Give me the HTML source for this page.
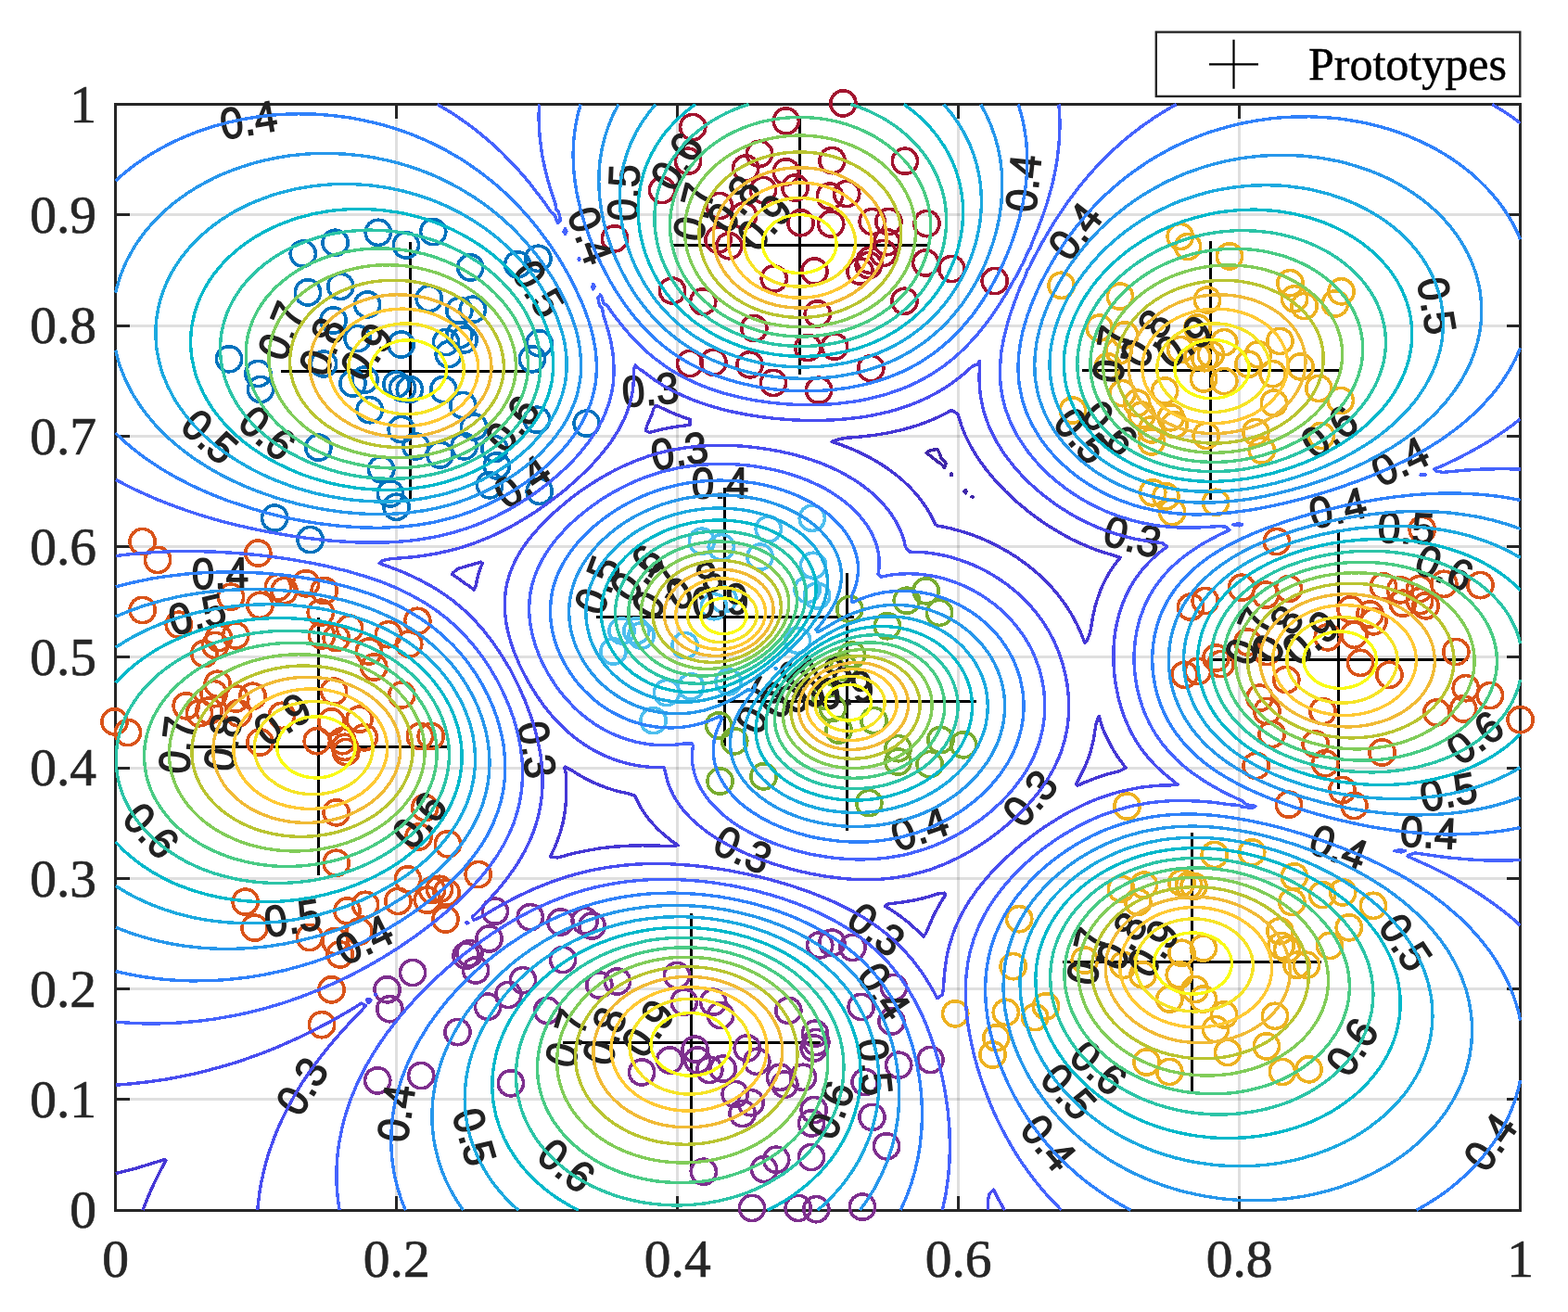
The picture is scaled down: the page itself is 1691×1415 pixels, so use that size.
<!DOCTYPE html>
<html lang="en">
<head>
<meta charset="utf-8">
<title>Prototypes contour plot</title>
<style>
html,body{margin:0;padding:0;background:#fff;}
body{width:1691px;height:1415px;overflow:hidden;}
svg{display:block;}
.tk{font-family:"Liberation Serif","Times New Roman",serif;font-size:57.5px;fill:#262626;stroke:#262626;stroke-width:0.7;}
.lg{font-family:"Liberation Serif","Times New Roman",serif;font-size:50px;fill:#000;stroke:#000;stroke-width:0.5;}
.cl{font-family:"Liberation Sans",Arial,sans-serif;font-size:45.8px;fill:#222;stroke:#222;stroke-width:1.3;text-anchor:middle;}
.ct path{fill:none;stroke-width:3.4;stroke-linejoin:round;shape-rendering:crispEdges;}
.sc{fill:none;stroke-width:3.6;shape-rendering:crispEdges;}
.cr{stroke:#000;stroke-width:3;fill:none;shape-rendering:crispEdges;}
.gr{stroke:#262626;stroke-opacity:0.15;stroke-width:3;shape-rendering:crispEdges;}
.ax{stroke:#262626;stroke-width:3;fill:none;shape-rendering:crispEdges;}
</style>
</head>
<body>
<svg width="1691" height="1415" viewBox="0 0 1691 1415">
<rect width="1691" height="1415" fill="#fff"/>
<defs><clipPath id="cp"><rect x="123.2" y="111" width="1517.9" height="1195.7"/></clipPath></defs>
<g class="gr">
<line x1="427.7" y1="112.5" x2="427.7" y2="1305.2"/><line x1="730.7" y1="112.5" x2="730.7" y2="1305.2"/><line x1="1033.6" y1="112.5" x2="1033.6" y2="1305.2"/><line x1="1336.6" y1="112.5" x2="1336.6" y2="1305.2"/><line x1="124.7" y1="1185.9" x2="1639.6" y2="1185.9"/><line x1="124.7" y1="1066.7" x2="1639.6" y2="1066.7"/><line x1="124.7" y1="947.4" x2="1639.6" y2="947.4"/><line x1="124.7" y1="828.1" x2="1639.6" y2="828.1"/><line x1="124.7" y1="708.9" x2="1639.6" y2="708.9"/><line x1="124.7" y1="589.6" x2="1639.6" y2="589.6"/><line x1="124.7" y1="470.3" x2="1639.6" y2="470.3"/><line x1="124.7" y1="351" x2="1639.6" y2="351"/><line x1="124.7" y1="231.8" x2="1639.6" y2="231.8"/>
</g>
<g class="ax">
<rect x="124.7" y="112.5" width="1514.9" height="1192.7"/>
<path d="M427.7,1305.2v-15M427.7,112.5v15M730.7,1305.2v-15M730.7,112.5v15M1033.6,1305.2v-15M1033.6,112.5v15M1336.6,1305.2v-15M1336.6,112.5v15M124.7,1185.9h15M1639.6,1185.9h-15M124.7,1066.7h15M1639.6,1066.7h-15M124.7,947.4h15M1639.6,947.4h-15M124.7,828.1h15M1639.6,828.1h-15M124.7,708.9h15M1639.6,708.9h-15M124.7,589.6h15M1639.6,589.6h-15M124.7,470.3h15M1639.6,470.3h-15M124.7,351h15M1639.6,351h-15M124.7,231.8h15M1639.6,231.8h-15"/>
</g>
<g class="cr">
<path d="M303,400H581.4M442.2,260.8V539.2"/>
<path d="M723,264.6H1001.4M862.2,125.4V403.8"/>
<path d="M1166.7,399.3H1445.1M1305.9,260.1V538.5"/>
<path d="M203.9,805.2H482.3M343.1,666V944.4"/>
<path d="M642.7,665.3H921.1M781.9,526.1V804.5"/>
<path d="M774.4,756.7H1052.8M913.6,617.5V895.9"/>
<path d="M1304.3,711.6H1582.7M1443.5,572.4V850.8"/>
<path d="M606.5,1124.6H884.9M745.7,985.4V1263.8"/>
<path d="M1146.2,1037.5H1424.6M1285.4,898.3V1176.7"/>
</g>
<g class="sc">
<g stroke="#0072BD"><circle cx="326.8" cy="273.6" r="13.6"/><circle cx="361.6" cy="261.8" r="13.6"/><circle cx="407.8" cy="250.8" r="13.6"/><circle cx="437.9" cy="264.4" r="13.6"/><circle cx="467.2" cy="250.1" r="13.6"/><circle cx="507.2" cy="288.5" r="13.6"/><circle cx="558.2" cy="285.4" r="13.6"/><circle cx="580.4" cy="278.8" r="13.6"/><circle cx="332" cy="315.4" r="13.6"/><circle cx="367.3" cy="308.9" r="13.6"/><circle cx="396.1" cy="328.5" r="13.6"/><circle cx="462.7" cy="322" r="13.6"/><circle cx="495.4" cy="335" r="13.6"/><circle cx="509.8" cy="333.7" r="13.6"/><circle cx="359.5" cy="345.5" r="13.6"/><circle cx="385.6" cy="365.1" r="13.6"/><circle cx="432.7" cy="371.6" r="13.6"/><circle cx="481" cy="369" r="13.6"/><circle cx="495.4" cy="361.2" r="13.6"/><circle cx="500.7" cy="366.4" r="13.6"/><circle cx="483.7" cy="382.1" r="13.6"/><circle cx="247.1" cy="387.3" r="13.6"/><circle cx="278.4" cy="403" r="13.6"/><circle cx="281" cy="420" r="13.6"/><circle cx="349" cy="392.5" r="13.6"/><circle cx="380.4" cy="413.5" r="13.6"/><circle cx="393.5" cy="409.5" r="13.6"/><circle cx="427.5" cy="414.8" r="13.6"/><circle cx="434" cy="418.7" r="13.6"/><circle cx="441.8" cy="420" r="13.6"/><circle cx="478.4" cy="420" r="13.6"/><circle cx="499.3" cy="437" r="13.6"/><circle cx="398.7" cy="442.2" r="13.6"/><circle cx="432.7" cy="463.1" r="13.6"/><circle cx="511.1" cy="460.5" r="13.6"/><circle cx="448.4" cy="481.4" r="13.6"/><circle cx="474.5" cy="490.6" r="13.6"/><circle cx="500.7" cy="481.4" r="13.6"/><circle cx="343.3" cy="482.7" r="13.6"/><circle cx="533.3" cy="484.1" r="13.6"/><circle cx="411.2" cy="506.3" r="13.6"/><circle cx="535.9" cy="502.4" r="13.6"/><circle cx="528.1" cy="523.3" r="13.6"/><circle cx="420.9" cy="532.4" r="13.6"/><circle cx="427.5" cy="546.8" r="13.6"/><circle cx="581.7" cy="529.8" r="13.6"/><circle cx="581.7" cy="370.3" r="13.6"/><circle cx="573.9" cy="387.3" r="13.6"/><circle cx="579.1" cy="452.7" r="13.6"/><circle cx="632.7" cy="456.6" r="13.6"/><circle cx="296.2" cy="558.6" r="13.6"/><circle cx="334.6" cy="582.1" r="13.6"/></g>
<g stroke="#A2142F"><circle cx="909.3" cy="111.4" r="13.6"/><circle cx="747.2" cy="137.1" r="13.6"/><circle cx="847.8" cy="130.5" r="13.6"/><circle cx="819.1" cy="165.8" r="13.6"/><circle cx="742" cy="173.7" r="13.6"/><circle cx="804.2" cy="181.5" r="13.6"/><circle cx="847.8" cy="185.4" r="13.6"/><circle cx="897.5" cy="173.1" r="13.6"/><circle cx="975.9" cy="173.7" r="13.6"/><circle cx="714" cy="205" r="13.6"/><circle cx="775.9" cy="222" r="13.6"/><circle cx="823" cy="205" r="13.6"/><circle cx="857.5" cy="202.4" r="13.6"/><circle cx="894.9" cy="211.6" r="13.6"/><circle cx="913.2" cy="209" r="13.6"/><circle cx="802.1" cy="232.5" r="13.6"/><circle cx="863.5" cy="240.3" r="13.6"/><circle cx="896.2" cy="241.6" r="13.6"/><circle cx="940.7" cy="239" r="13.6"/><circle cx="958.4" cy="239" r="13.6"/><circle cx="999.5" cy="241.1" r="13.6"/><circle cx="663" cy="257.3" r="13.6"/><circle cx="774.6" cy="258.6" r="13.6"/><circle cx="786.4" cy="265.2" r="13.6"/><circle cx="956.3" cy="261.2" r="13.6"/><circle cx="952.4" cy="273" r="13.6"/><circle cx="938" cy="280.8" r="13.6"/><circle cx="927.6" cy="292.6" r="13.6"/><circle cx="936.7" cy="286.1" r="13.6"/><circle cx="998.2" cy="283.5" r="13.6"/><circle cx="1026.4" cy="290" r="13.6"/><circle cx="1072.7" cy="303.1" r="13.6"/><circle cx="834.8" cy="300.5" r="13.6"/><circle cx="878.4" cy="292.6" r="13.6"/><circle cx="725" cy="313.5" r="13.6"/><circle cx="758.2" cy="325.3" r="13.6"/><circle cx="881.8" cy="338.4" r="13.6"/><circle cx="975.4" cy="324.8" r="13.6"/><circle cx="813.3" cy="354.1" r="13.6"/><circle cx="871.4" cy="375" r="13.6"/><circle cx="900.1" cy="373.7" r="13.6"/><circle cx="744.1" cy="392" r="13.6"/><circle cx="769.4" cy="390.7" r="13.6"/><circle cx="808.6" cy="393.3" r="13.6"/><circle cx="834" cy="412.9" r="13.6"/><circle cx="883.1" cy="420.7" r="13.6"/><circle cx="939.3" cy="397.2" r="13.6"/></g>
<g stroke="#EDB120"><circle cx="1272.7" cy="255" r="13.6"/><circle cx="1281.1" cy="266" r="13.6"/><circle cx="1326" cy="276.4" r="13.6"/><circle cx="1144.6" cy="307.8" r="13.6"/><circle cx="1207.9" cy="319.6" r="13.6"/><circle cx="1302" cy="323.5" r="13.6"/><circle cx="1391.4" cy="305.2" r="13.6"/><circle cx="1396.1" cy="322.2" r="13.6"/><circle cx="1406.6" cy="330" r="13.6"/><circle cx="1446.6" cy="314.3" r="13.6"/><circle cx="1440" cy="327.4" r="13.6"/><circle cx="1185.7" cy="353.6" r="13.6"/><circle cx="1213.1" cy="361.4" r="13.6"/><circle cx="1291.5" cy="353.6" r="13.6"/><circle cx="1320.3" cy="369.2" r="13.6"/><circle cx="1380.4" cy="367.9" r="13.6"/><circle cx="1356.9" cy="382.3" r="13.6"/><circle cx="1346.4" cy="392.8" r="13.6"/><circle cx="1299.4" cy="386.2" r="13.6"/><circle cx="1305.9" cy="382.3" r="13.6"/><circle cx="1291.5" cy="384.9" r="13.6"/><circle cx="1402.6" cy="395.4" r="13.6"/><circle cx="1372.6" cy="403.2" r="13.6"/><circle cx="1206.6" cy="378.4" r="13.6"/><circle cx="1194.8" cy="395.4" r="13.6"/><circle cx="1210.5" cy="424.2" r="13.6"/><circle cx="1256.2" cy="421.5" r="13.6"/><circle cx="1298.1" cy="408.5" r="13.6"/><circle cx="1320.3" cy="411.1" r="13.6"/><circle cx="1422.3" cy="418.9" r="13.6"/><circle cx="1373.9" cy="434.6" r="13.6"/><circle cx="1445.8" cy="432" r="13.6"/><circle cx="1156.9" cy="442.5" r="13.6"/><circle cx="1231.4" cy="447.7" r="13.6"/><circle cx="1262.8" cy="450.3" r="13.6"/><circle cx="1241.9" cy="463.4" r="13.6"/><circle cx="1266.7" cy="458.1" r="13.6"/><circle cx="1300.7" cy="469.9" r="13.6"/><circle cx="1354.3" cy="466" r="13.6"/><circle cx="1360.8" cy="485.6" r="13.6"/><circle cx="1424.9" cy="469.9" r="13.6"/><circle cx="1243.2" cy="531.3" r="13.6"/><circle cx="1257.5" cy="535.3" r="13.6"/><circle cx="1264.1" cy="552.3" r="13.6"/><circle cx="1311.1" cy="541.8" r="13.6"/><circle cx="1226.2" cy="434.6" r="13.6"/><circle cx="1273.2" cy="377.1" r="13.6"/><circle cx="1241.9" cy="476.4" r="13.6"/><circle cx="1215.6" cy="869.6" r="13.6"/><circle cx="1309.7" cy="921.9" r="13.6"/><circle cx="1350.2" cy="919.3" r="13.6"/><circle cx="1395.9" cy="945.4" r="13.6"/><circle cx="1209" cy="958.5" r="13.6"/><circle cx="1233.9" cy="954.6" r="13.6"/><circle cx="1274.4" cy="952" r="13.6"/><circle cx="1282.2" cy="954.6" r="13.6"/><circle cx="1287.5" cy="955.9" r="13.6"/><circle cx="1227.3" cy="972.9" r="13.6"/><circle cx="1393.3" cy="972.9" r="13.6"/><circle cx="1426" cy="965" r="13.6"/><circle cx="1448.2" cy="962.4" r="13.6"/><circle cx="1480.9" cy="976.8" r="13.6"/><circle cx="1099.2" cy="991.2" r="13.6"/><circle cx="1380.3" cy="1004.2" r="13.6"/><circle cx="1381.6" cy="1019.9" r="13.6"/><circle cx="1388.1" cy="1023.9" r="13.6"/><circle cx="1454.8" cy="1000.3" r="13.6"/><circle cx="1433.9" cy="1019.9" r="13.6"/><circle cx="1398.6" cy="1040.8" r="13.6"/><circle cx="1409" cy="1040.8" r="13.6"/><circle cx="1274.4" cy="1027.8" r="13.6"/><circle cx="1297.9" cy="1022.5" r="13.6"/><circle cx="1169.8" cy="1035.6" r="13.6"/><circle cx="1092.7" cy="1042.2" r="13.6"/><circle cx="1211.6" cy="1040.8" r="13.6"/><circle cx="1232.5" cy="1051.3" r="13.6"/><circle cx="1271.8" cy="1051.3" r="13.6"/><circle cx="1288.8" cy="1067" r="13.6"/><circle cx="1261.3" cy="1077.5" r="13.6"/><circle cx="1297.9" cy="1077.5" r="13.6"/><circle cx="1320.1" cy="1094.4" r="13.6"/><circle cx="1311" cy="1110.1" r="13.6"/><circle cx="1375" cy="1095.8" r="13.6"/><circle cx="1324.1" cy="1135" r="13.6"/><circle cx="1365.9" cy="1128.4" r="13.6"/><circle cx="1128" cy="1085.3" r="13.6"/><circle cx="1084.8" cy="1091.8" r="13.6"/><circle cx="1116.2" cy="1097.1" r="13.6"/><circle cx="1074.4" cy="1119.3" r="13.6"/><circle cx="1070.5" cy="1137.6" r="13.6"/><circle cx="1236.5" cy="1145.4" r="13.6"/><circle cx="1261.3" cy="1155.9" r="13.6"/><circle cx="1382.9" cy="1155.9" r="13.6"/><circle cx="1411.6" cy="1153.3" r="13.6"/><circle cx="1099.1" cy="991.1" r="13.6"/><circle cx="1030.2" cy="1093.3" r="13.6"/></g>
<g stroke="#D95319"><circle cx="153.6" cy="584.1" r="13.6"/><circle cx="170.1" cy="603.9" r="13.6"/><circle cx="278.3" cy="596.6" r="13.6"/><circle cx="153.6" cy="658" r="13.6"/><circle cx="192.8" cy="673.7" r="13.6"/><circle cx="249" cy="643.7" r="13.6"/><circle cx="280.4" cy="652.8" r="13.6"/><circle cx="300" cy="633.2" r="13.6"/><circle cx="306.5" cy="637.1" r="13.6"/><circle cx="330.1" cy="629.3" r="13.6"/><circle cx="349.7" cy="637.1" r="13.6"/><circle cx="345.8" cy="660.7" r="13.6"/><circle cx="377.1" cy="677.6" r="13.6"/><circle cx="347.1" cy="685.5" r="13.6"/><circle cx="362.7" cy="688.1" r="13.6"/><circle cx="419" cy="684.2" r="13.6"/><circle cx="450.3" cy="669.8" r="13.6"/><circle cx="441.2" cy="694.6" r="13.6"/><circle cx="220.3" cy="705.1" r="13.6"/><circle cx="232" cy="695.9" r="13.6"/><circle cx="235.9" cy="688.1" r="13.6"/><circle cx="254.2" cy="685.5" r="13.6"/><circle cx="398" cy="702.5" r="13.6"/><circle cx="403.3" cy="719.5" r="13.6"/><circle cx="234.6" cy="737.8" r="13.6"/><circle cx="230.7" cy="748.2" r="13.6"/><circle cx="254.2" cy="753.5" r="13.6"/><circle cx="272.5" cy="750.8" r="13.6"/><circle cx="200.7" cy="761.3" r="13.6"/><circle cx="215" cy="769.2" r="13.6"/><circle cx="225.5" cy="766.5" r="13.6"/><circle cx="256.9" cy="769.2" r="13.6"/><circle cx="360.1" cy="745.6" r="13.6"/><circle cx="433.3" cy="749.5" r="13.6"/><circle cx="123.5" cy="778.3" r="13.6"/><circle cx="137.9" cy="790.1" r="13.6"/><circle cx="280.4" cy="800.5" r="13.6"/><circle cx="303.9" cy="771.8" r="13.6"/><circle cx="341.8" cy="799.2" r="13.6"/><circle cx="357.5" cy="778.3" r="13.6"/><circle cx="387.6" cy="775.7" r="13.6"/><circle cx="392.8" cy="795.3" r="13.6"/><circle cx="369.3" cy="799.2" r="13.6"/><circle cx="373.2" cy="811" r="13.6"/><circle cx="371.9" cy="805.8" r="13.6"/><circle cx="452.9" cy="794" r="13.6"/><circle cx="464.7" cy="794" r="13.6"/><circle cx="362.7" cy="876.3" r="13.6"/><circle cx="458.2" cy="871.1" r="13.6"/><circle cx="451.6" cy="902.5" r="13.6"/><circle cx="483" cy="910.3" r="13.6"/><circle cx="362.7" cy="930.8" r="13.6"/><circle cx="515.7" cy="943.1" r="13.6"/><circle cx="439.9" cy="948.4" r="13.6"/><circle cx="264.7" cy="972.7" r="13.6"/><circle cx="274.6" cy="1000.7" r="13.6"/><circle cx="374.5" cy="982.4" r="13.6"/><circle cx="394.1" cy="975.8" r="13.6"/><circle cx="429.4" cy="971.9" r="13.6"/><circle cx="466" cy="960.1" r="13.6"/><circle cx="473.9" cy="958.8" r="13.6"/><circle cx="481.7" cy="962.7" r="13.6"/><circle cx="460.8" cy="970.6" r="13.6"/><circle cx="480.4" cy="991.5" r="13.6"/><circle cx="334" cy="1011.1" r="13.6"/><circle cx="361.4" cy="1015" r="13.6"/><circle cx="366.7" cy="1029.4" r="13.6"/><circle cx="387.6" cy="1004.6" r="13.6"/><circle cx="357.5" cy="1067.3" r="13.6"/><circle cx="347.1" cy="1105.2" r="13.6"/><circle cx="1376.9" cy="584.1" r="13.6"/><circle cx="1533.7" cy="571" r="13.6"/><circle cx="1339" cy="633.7" r="13.6"/><circle cx="1365.1" cy="641.6" r="13.6"/><circle cx="1389.9" cy="635" r="13.6"/><circle cx="1284.1" cy="654.6" r="13.6"/><circle cx="1299.7" cy="648.1" r="13.6"/><circle cx="1491.9" cy="632.4" r="13.6"/><circle cx="1510.2" cy="636.3" r="13.6"/><circle cx="1512.8" cy="650.7" r="13.6"/><circle cx="1531.1" cy="648.1" r="13.6"/><circle cx="1537.6" cy="653.3" r="13.6"/><circle cx="1557.3" cy="629.8" r="13.6"/><circle cx="1596.5" cy="631.1" r="13.6"/><circle cx="1456.6" cy="657.3" r="13.6"/><circle cx="1477.5" cy="662.5" r="13.6"/><circle cx="1481.4" cy="670.3" r="13.6"/><circle cx="1460.5" cy="684.7" r="13.6"/><circle cx="1431.8" cy="687.3" r="13.6"/><circle cx="1311.5" cy="709.5" r="13.6"/><circle cx="1316.7" cy="716.1" r="13.6"/><circle cx="1291.9" cy="723.9" r="13.6"/><circle cx="1277.5" cy="727.8" r="13.6"/><circle cx="1467.1" cy="714.8" r="13.6"/><circle cx="1498.4" cy="727.8" r="13.6"/><circle cx="1570.3" cy="703" r="13.6"/><circle cx="1580.8" cy="742.2" r="13.6"/><circle cx="1606.9" cy="750.1" r="13.6"/><circle cx="1358.6" cy="752.7" r="13.6"/><circle cx="1387.3" cy="733.1" r="13.6"/><circle cx="1366.4" cy="767.1" r="13.6"/><circle cx="1426.5" cy="767.1" r="13.6"/><circle cx="1549.4" cy="768.4" r="13.6"/><circle cx="1578.2" cy="764.4" r="13.6"/><circle cx="1639.6" cy="776.2" r="13.6"/><circle cx="1371.6" cy="791.9" r="13.6"/><circle cx="1418.7" cy="802.4" r="13.6"/><circle cx="1490.6" cy="811.5" r="13.6"/><circle cx="1354.6" cy="825.9" r="13.6"/><circle cx="1429.2" cy="823.3" r="13.6"/><circle cx="1447.5" cy="852" r="13.6"/><circle cx="1389.9" cy="867.7" r="13.6"/><circle cx="1460.5" cy="869" r="13.6"/><circle cx="1345.5" cy="692.5" r="13.6"/><circle cx="1366.4" cy="703" r="13.6"/><circle cx="1531.1" cy="635" r="13.6"/></g>
<g stroke="#7E2F8E"><circle cx="445.1" cy="1049" r="13.6"/><circle cx="417.6" cy="1067.3" r="13.6"/><circle cx="420.3" cy="1088.2" r="13.6"/><circle cx="506.5" cy="1028.1" r="13.6"/><circle cx="502.6" cy="1030.7" r="13.6"/><circle cx="527.5" cy="1012.4" r="13.6"/><circle cx="513.1" cy="1046.4" r="13.6"/><circle cx="526.1" cy="1085.6" r="13.6"/><circle cx="493.5" cy="1113.1" r="13.6"/><circle cx="407.2" cy="1165.4" r="13.6"/><circle cx="454.2" cy="1160.1" r="13.6"/><circle cx="533.9" cy="982.7" r="13.6"/><circle cx="571.8" cy="989.2" r="13.6"/><circle cx="604.5" cy="994.4" r="13.6"/><circle cx="630.7" cy="993.1" r="13.6"/><circle cx="638.5" cy="998.4" r="13.6"/><circle cx="607.1" cy="1035" r="13.6"/><circle cx="564" cy="1057.2" r="13.6"/><circle cx="548.3" cy="1072.9" r="13.6"/><circle cx="646.3" cy="1062.4" r="13.6"/><circle cx="665.9" cy="1058.5" r="13.6"/><circle cx="730" cy="1052" r="13.6"/><circle cx="590.1" cy="1089.9" r="13.6"/><circle cx="737.8" cy="1080.7" r="13.6"/><circle cx="769.2" cy="1080.7" r="13.6"/><circle cx="777.1" cy="1095.1" r="13.6"/><circle cx="850.3" cy="1089.9" r="13.6"/><circle cx="884.2" cy="1019.3" r="13.6"/><circle cx="897.3" cy="1016.7" r="13.6"/><circle cx="919.5" cy="1021.9" r="13.6"/><circle cx="928.7" cy="1085.9" r="13.6"/><circle cx="879" cy="1114.7" r="13.6"/><circle cx="880.3" cy="1123.9" r="13.6"/><circle cx="877.7" cy="1130.4" r="13.6"/><circle cx="805.8" cy="1130.4" r="13.6"/><circle cx="749.6" cy="1131.7" r="13.6"/><circle cx="722.2" cy="1143.5" r="13.6"/><circle cx="752.2" cy="1143.5" r="13.6"/><circle cx="692.1" cy="1156.5" r="13.6"/><circle cx="765.3" cy="1153.9" r="13.6"/><circle cx="779.7" cy="1152.6" r="13.6"/><circle cx="816.3" cy="1144.8" r="13.6"/><circle cx="841.1" cy="1161.8" r="13.6"/><circle cx="846.3" cy="1169.6" r="13.6"/><circle cx="865.9" cy="1161.8" r="13.6"/><circle cx="792.7" cy="1180.1" r="13.6"/><circle cx="809.7" cy="1189.2" r="13.6"/><circle cx="800.6" cy="1201" r="13.6"/><circle cx="877.7" cy="1197.1" r="13.6"/><circle cx="875.1" cy="1211.4" r="13.6"/><circle cx="550.9" cy="1168.3" r="13.6"/><circle cx="932.6" cy="1167" r="13.6"/><circle cx="940.5" cy="1204.9" r="13.6"/><circle cx="961.4" cy="1101.6" r="13.6"/><circle cx="969.2" cy="1148.7" r="13.6"/><circle cx="956.1" cy="1236.3" r="13.6"/><circle cx="837.2" cy="1250.7" r="13.6"/><circle cx="824.1" cy="1261.1" r="13.6"/><circle cx="875.1" cy="1248" r="13.6"/><circle cx="758.8" cy="1263.7" r="13.6"/><circle cx="811" cy="1302.9" r="13.6"/><circle cx="860.7" cy="1302.9" r="13.6"/><circle cx="880.3" cy="1304.2" r="13.6"/><circle cx="930" cy="1301.6" r="13.6"/><circle cx="964" cy="1065" r="13.6"/><circle cx="1003.5" cy="1143" r="13.6"/></g>
<g stroke="#4DBEEE"><circle cx="875.8" cy="558.8" r="13.6"/><circle cx="828.8" cy="570.6" r="13.6"/><circle cx="756.9" cy="583.7" r="13.6"/><circle cx="777.8" cy="590.2" r="13.6"/><circle cx="819.6" cy="600.7" r="13.6"/><circle cx="877.1" cy="609.8" r="13.6"/><circle cx="870.6" cy="635.9" r="13.6"/><circle cx="881" cy="642.5" r="13.6"/><circle cx="670.6" cy="680.4" r="13.6"/><circle cx="686.3" cy="680.4" r="13.6"/><circle cx="691.5" cy="685.6" r="13.6"/><circle cx="661.4" cy="702.6" r="13.6"/><circle cx="738.6" cy="696.1" r="13.6"/><circle cx="719" cy="747.1" r="13.6"/><circle cx="745.1" cy="740.5" r="13.6"/><circle cx="704.6" cy="777.1" r="13.6"/><circle cx="785.6" cy="735.3" r="13.6"/><circle cx="860.1" cy="690.8" r="13.6"/><circle cx="780.4" cy="646.4" r="13.6"/><circle cx="769.9" cy="654.2" r="13.6"/></g>
<g stroke="#77AC30"><circle cx="998.7" cy="637.3" r="13.6"/><circle cx="977.8" cy="647.7" r="13.6"/><circle cx="1013.1" cy="660.8" r="13.6"/><circle cx="916.3" cy="656.9" r="13.6"/><circle cx="956.9" cy="675.2" r="13.6"/><circle cx="919" cy="706.5" r="13.6"/><circle cx="909.8" cy="719.6" r="13.6"/><circle cx="890.2" cy="751" r="13.6"/><circle cx="898" cy="764.1" r="13.6"/><circle cx="904.6" cy="787.6" r="13.6"/><circle cx="942.5" cy="777.1" r="13.6"/><circle cx="775.2" cy="782.4" r="13.6"/><circle cx="792.2" cy="799.3" r="13.6"/><circle cx="968.6" cy="807.2" r="13.6"/><circle cx="968.6" cy="821.6" r="13.6"/><circle cx="1014.4" cy="798" r="13.6"/><circle cx="1002.6" cy="824.2" r="13.6"/><circle cx="1039.2" cy="803.3" r="13.6"/><circle cx="776.5" cy="842.5" r="13.6"/><circle cx="823.5" cy="837.3" r="13.6"/><circle cx="937.3" cy="866" r="13.6"/></g>
</g>
<g class="cl">
<text transform="translate(268 129.5) rotate(-9.8) scale(0.965 1.03)" y="15.8">0.4</text>
<text transform="translate(303.4 356.8) rotate(-67.4) scale(0.965 1.03)" y="15.8">0.7</text>
<text transform="translate(347.3 373.9) rotate(-69.5) scale(0.965 1.03)" y="15.8">0.8</text>
<text transform="translate(395.5 379.3) rotate(-55.1) scale(0.965 1.03)" y="15.8">0.9</text>
<text transform="translate(288.5 466.9) rotate(40.2) scale(0.965 1.03)" y="15.8">0.6</text>
<text transform="translate(226.1 470.9) rotate(42) scale(0.965 1.03)" y="15.8">0.5</text>
<text transform="translate(581.1 311.3) rotate(57.4) scale(0.965 1.03)" y="15.8">0.5</text>
<text transform="translate(552.7 457.3) rotate(-50) scale(0.965 1.03)" y="15.8">0.6</text>
<text transform="translate(563.1 519.9) rotate(-34.7) scale(0.965 1.03)" y="15.8">0.4</text>
<text transform="translate(637.1 253.9) rotate(69.7) scale(0.965 1.03)" y="15.8">0.4</text>
<text transform="translate(672.6 208) rotate(-87.8) scale(0.965 1.03)" y="15.8">0.5</text>
<text transform="translate(729.8 174.1) rotate(-56.9) scale(0.965 1.03)" y="15.8">0.6</text>
<text transform="translate(748.1 228.7) rotate(-75.9) scale(0.965 1.03)" y="15.8">0.7</text>
<text transform="translate(791.1 220) rotate(-52.3) scale(0.965 1.03)" y="15.8">0.8</text>
<text transform="translate(824.4 239.8) rotate(-48.4) scale(0.965 1.03)" y="15.8">0.9</text>
<text transform="translate(701.4 420.4) rotate(-4.9) scale(0.965 1.03)" y="15.8">0.3</text>
<text transform="translate(732.7 486.5) rotate(-9.9) scale(0.965 1.03)" y="15.8">0.3</text>
<text transform="translate(776.5 521) rotate(-0.2) scale(0.965 1.03)" y="15.8">0.4</text>
<text transform="translate(1103.7 197.7) rotate(-84) scale(0.965 1.03)" y="15.8">0.4</text>
<text transform="translate(1159.4 249.5) rotate(-52.5) scale(0.965 1.03)" y="15.8">0.4</text>
<text transform="translate(1549.4 329.7) rotate(80.3) scale(0.965 1.03)" y="15.8">0.5</text>
<text transform="translate(1198.2 381.9) rotate(-81.3) scale(0.965 1.03)" y="15.8">0.7</text>
<text transform="translate(1235.4 365) rotate(-58.4) scale(0.965 1.03)" y="15.8">0.8</text>
<text transform="translate(1276.7 368.4) rotate(-35) scale(0.965 1.03)" y="15.8">0.9</text>
<text transform="translate(1166.5 470) rotate(49.1) scale(0.965 1.03)" y="15.8">0.5</text>
<text transform="translate(1196.9 461.8) rotate(45.7) scale(0.965 1.03)" y="15.8">0.6</text>
<text transform="translate(1433.6 465.9) rotate(-35.7) scale(0.965 1.03)" y="15.8">0.6</text>
<text transform="translate(1509.7 497.9) rotate(-26.3) scale(0.965 1.03)" y="15.8">0.4</text>
<text transform="translate(1442.5 548) rotate(-13) scale(0.965 1.03)" y="15.8">0.4</text>
<text transform="translate(1221.4 578.8) rotate(14.3) scale(0.965 1.03)" y="15.8">0.3</text>
<text transform="translate(1516.5 569.6) rotate(2.2) scale(0.965 1.03)" y="15.8">0.5</text>
<text transform="translate(1557.5 612.6) rotate(22.5) scale(0.965 1.03)" y="15.8">0.6</text>
<text transform="translate(1346.2 685.9) rotate(-67.2) scale(0.965 1.03)" y="15.8">0.7</text>
<text transform="translate(1377.5 683.9) rotate(-57.1) scale(0.965 1.03)" y="15.8">0.8</text>
<text transform="translate(1413.2 687.6) rotate(-40.1) scale(0.965 1.03)" y="15.8">0.9</text>
<text transform="translate(1590.6 795.6) rotate(-36.2) scale(0.965 1.03)" y="15.8">0.6</text>
<text transform="translate(1562.1 854.1) rotate(-11) scale(0.965 1.03)" y="15.8">0.5</text>
<text transform="translate(1540.9 897.8) rotate(3.1) scale(0.965 1.03)" y="15.8">0.4</text>
<text transform="translate(1443.6 914.1) rotate(21) scale(0.965 1.03)" y="15.8">0.4</text>
<text transform="translate(1515.8 1016.3) rotate(56.3) scale(0.965 1.03)" y="15.8">0.5</text>
<text transform="translate(237.4 618.3) rotate(-1.1) scale(0.965 1.03)" y="15.8">0.4</text>
<text transform="translate(212.6 662.8) rotate(-13.6) scale(0.965 1.03)" y="15.8">0.5</text>
<text transform="translate(190.6 803.6) rotate(-83) scale(0.965 1.03)" y="15.8">0.7</text>
<text transform="translate(240.4 800.5) rotate(-80.8) scale(0.965 1.03)" y="15.8">0.8</text>
<text transform="translate(304.5 775.6) rotate(-33.6) scale(0.965 1.03)" y="15.8">0.9</text>
<text transform="translate(163 895.9) rotate(46.3) scale(0.965 1.03)" y="15.8">0.6</text>
<text transform="translate(452.3 884.5) rotate(-50.2) scale(0.965 1.03)" y="15.8">0.6</text>
<text transform="translate(315.5 990.1) rotate(-8.8) scale(0.965 1.03)" y="15.8">0.5</text>
<text transform="translate(392.5 1013.7) rotate(-26.3) scale(0.965 1.03)" y="15.8">0.4</text>
<text transform="translate(325.8 1171.5) rotate(-58) scale(0.965 1.03)" y="15.8">0.3</text>
<text transform="translate(427.2 1200.7) rotate(-81.4) scale(0.965 1.03)" y="15.8">0.4</text>
<text transform="translate(511.5 1226) rotate(73.5) scale(0.965 1.03)" y="15.8">0.5</text>
<text transform="translate(610.9 1257) rotate(38.6) scale(0.965 1.03)" y="15.8">0.6</text>
<text transform="translate(578.9 808.5) rotate(80.1) scale(0.965 1.03)" y="15.8">0.3</text>
<text transform="translate(801.2 916.5) rotate(24.8) scale(0.965 1.03)" y="15.8">0.3</text>
<text transform="translate(991.7 893.5) rotate(-19.5) scale(0.965 1.03)" y="15.8">0.4</text>
<text transform="translate(1110.8 860.9) rotate(-49.9) scale(0.965 1.03)" y="15.8">0.3</text>
<text transform="translate(945 1002.4) rotate(36.5) scale(0.965 1.03)" y="15.8">0.3</text>
<text transform="translate(953.1 1069) rotate(55.9) scale(0.965 1.03)" y="15.8">0.4</text>
<text transform="translate(943.3 1150.7) rotate(84) scale(0.965 1.03)" y="15.8">0.5</text>
<text transform="translate(895.9 1197.2) rotate(-68) scale(0.965 1.03)" y="15.8">0.6</text>
<text transform="translate(644.5 630.9) rotate(-69.1) scale(0.965 1.03)" y="15.8">0.5</text>
<text transform="translate(687 618.3) rotate(-51.8) scale(0.965 1.03)" y="15.8">0.6</text>
<text transform="translate(708.9 636.6) rotate(-58.9) scale(0.965 1.03)" y="15.8">0.7</text>
<text transform="translate(749 631) rotate(-29.6) scale(0.965 1.03)" y="15.8">0.8</text>
<text transform="translate(776.8 648) rotate(-6) scale(0.965 1.03)" y="15.8">0.9</text>
<text transform="translate(819.4 760.1) rotate(-61.5) scale(0.965 1.03)" y="15.8">0.5</text>
<text transform="translate(846.3 743.6) rotate(-56) scale(0.965 1.03)" y="15.8">0.6</text>
<text transform="translate(866.2 739.3) rotate(-52) scale(0.965 1.03)" y="15.8">0.7</text>
<text transform="translate(889.1 735.6) rotate(-37.5) scale(0.965 1.03)" y="15.8">0.8</text>
<text transform="translate(911.7 743.9) rotate(-12.6) scale(0.965 1.03)" y="15.8">0.9</text>
<text transform="translate(611.2 1119.9) rotate(-73.3) scale(0.965 1.03)" y="15.8">0.7</text>
<text transform="translate(651.8 1117.4) rotate(-72.7) scale(0.965 1.03)" y="15.8">0.8</text>
<text transform="translate(698.7 1108.9) rotate(-55) scale(0.965 1.03)" y="15.8">0.9</text>
<text transform="translate(1172.1 1031.2) rotate(-77.2) scale(0.965 1.03)" y="15.8">0.7</text>
<text transform="translate(1209.5 1015) rotate(-60) scale(0.965 1.03)" y="15.8">0.8</text>
<text transform="translate(1243.6 1022.7) rotate(-57.1) scale(0.965 1.03)" y="15.8">0.9</text>
<text transform="translate(1458.1 1129.1) rotate(-57.2) scale(0.965 1.03)" y="15.8">0.6</text>
<text transform="translate(1607.2 1231.8) rotate(-55.2) scale(0.965 1.03)" y="15.8">0.4</text>
<text transform="translate(1184.9 1151.4) rotate(41.4) scale(0.965 1.03)" y="15.8">0.6</text>
<text transform="translate(1152.4 1177.3) rotate(47.6) scale(0.965 1.03)" y="15.8">0.5</text>
<text transform="translate(1130.6 1232.2) rotate(49.6) scale(0.965 1.03)" y="15.8">0.4</text>
</g>
<g class="ct" clip-path="url(#cp)">
<path stroke="#3e26a8" d="M1048.8,536.2 1048.1,535.9 1048.8,535.7 1049,535.9 1048.8,536.2ZM1041.2,531.8 1040,529.9 1041.2,528.5 1042.4,529.9 1041.2,531.8ZM1026.1,512.8 1025.4,512.1 1026.1,510.8 1026.7,512.1 1026.1,512.8ZM1018.5,504.2 1014.7,500.1 1010.9,497.8 999.1,488.2 1003.3,485.7 1010.9,484.4 1012.9,488.2 1015.2,494.2 1018.5,497.4 1020.2,500.1 1018.5,504.2Z"/>
<path stroke="#4537d5" d="M124.7,1265.7 147.4,1259.8 177.7,1250.5 178.9,1251.5 172.5,1263.5 166.5,1275.4 158.6,1293.3 154,1305.2M995.8,1010.1 988.2,1002.5 979.8,995.1 972.2,989.1 965.5,984.3 954.5,977.2 957.9,974.9 973,973.1 988.2,970.5 995.8,968.7 1003.3,966.6 1010.9,964.1 1018.5,963.1 1019.6,965.3 1015.7,971.2 1009,983.2 1006,989.1 998.4,1007 995.8,1010.1ZM594.3,924.5 593.8,923.5 599.3,911.6 603.7,899.7 607,887.8 609.2,875.8 610.4,863.9 610.8,852 610.4,834.1 609.5,831.9 609,828.1 609.5,827.1 610.9,828.1 617,831.1 624.6,835.9 632.2,840.2 639.8,843.9 647.3,847.1 654.9,849.9 662.5,852.3 670.1,854.2 677.6,855.9 684,857.9 685.2,859.1 687.3,863.9 690.5,869.9 694.2,875.8 698.4,881.8 703.4,887.8 709,893.7 715.4,899.7 722.8,905.6 723.1,906.2 731.1,911.6 723.1,912.7 707.9,912 692.8,911.8 677.6,912.2 662.5,913.2 647.3,914.9 632.2,917.5 617,920.7 601.9,924.9 594.3,924.5ZM1162.4,847.1 1160.6,846 1169.4,828.1 1172,822.2 1174.2,816.2 1176.2,810.2 1179.2,798.3 1182.1,780.4 1184.1,774.4 1185.1,772.2 1189.4,786.4 1198.1,804.3 1201.5,810.2 1205.3,816.2 1214,828.1 1207.9,831.4 1192.7,835.4 1185.1,837.9 1170,843.7 1162.4,847.1ZM1170,693.6 1166.7,685 1161.3,673.1 1154.7,661.1 1151,655.2 1146.9,649.2 1139.7,639.8 1132.1,631.1 1126.5,625.4 1120.1,619.4 1109.4,610.4 1097.1,601.5 1086.7,594.9 1077.2,589.6 1063.9,583.1 1056.4,579.8 1041.2,574.3 1026.1,570.1 1018.5,568.4 1010.9,567.1 1009,565.7 1002.8,553.8 999.2,547.8 995,541.9 990.5,535.9 985.4,529.9 979.7,524 973.4,518 966.3,512.1 958.4,506.1 950.3,500.7 942.7,496.1 935.2,492 927.6,488.2 920,484.8 904.9,478.9 897.1,476.3 904.9,473.6 912.4,472.3 927.6,471.1 942.7,469.4 957.9,466.9 973,463.5 988.2,459.1 995.8,456.5 1003.3,453.6 1010.9,450.3 1018.5,446.6 1026.1,442.4 1032.8,446.5 1033.6,448.3 1036.6,458.4 1038.9,464.3 1041.4,470.3 1044.3,476.3 1047.4,482.2 1054.7,494.2 1063.3,506.1 1073.2,518 1084.5,529.9 1097.3,541.9 1109.4,551.9 1119.9,559.8 1132.1,568 1147.3,577 1154.8,581.1 1162.4,584.8 1177.6,591.3 1185.1,594.1 1200.3,598.8 1208.1,601.5 1203.2,607.5 1199,613.4 1195.3,619.4 1192,625.4 1189.1,631.3 1186.6,637.3 1182.4,649.2 1180.8,655.2 1178.2,667.1 1176.2,679 1174.7,685 1172.1,691 1170,693.6ZM511,636.3 505.4,631.3 503.4,630.6 495.9,625 487.5,619.4 488.3,618 493.7,613.4 518.6,606.2 520.2,607.5 517.9,613.4 515.9,619.4 514.4,625.4 513.3,631.3 511,636.3ZM700.4,466.5 696.3,464.3 698,458.4 703.1,446.5 705,440.5 707.9,437.4 723.1,444.4 727.9,446.5 738.2,450.4 744.1,452.4 743.9,458.4 730.7,459.9 723.1,461.2 715.5,462.7 700.4,466.5Z"/>
<path stroke="#484df0" d="M1065.4,1305.2 1065.8,1293.3 1067.1,1287.3 1071.5,1283.3 1076.7,1293.3 1083.4,1305.2M124.7,1170.2 139.8,1169 162.6,1166.5 177.7,1164.3 192.9,1161.5 208,1158.4 223.2,1154.7 238.3,1150.6 253.5,1146.1 268.6,1141 283.8,1135.5 298.9,1129.4 321.6,1119.4 336.8,1112 359.5,1100 374.7,1091.3 389.8,1082.1 394.6,1084.6 389.3,1090.5 377.8,1102.4 366.9,1114.4 356.6,1126.3 347,1138.2 333.8,1156.1 325.8,1168 318.5,1180 311.9,1191.9 305.8,1203.8 300.3,1215.7 295.4,1227.7 289.2,1245.6 285.8,1257.5 281.7,1275.4 279.7,1287.3 277.7,1305.2M397.4,1081.5 395.3,1078.6 397.4,1077.3 400,1078.6 397.4,1081.5ZM405,1073.3 404.5,1072.6 405,1072.3 405.6,1072.6 405,1073.3ZM1010.9,1076.8 1005.4,1066.7 1001.9,1060.7 994.2,1048.8 985.3,1036.8 975,1024.9 965.5,1015.5 955.8,1007 948.2,1001.1 942.7,997.1 930.5,989.1 920,983.1 904.9,975.3 889.7,968.6 874.6,962.6 867,959.9 851.9,954.8 829.1,948.3 806.4,942.8 783.7,938.4 761,935 745.8,933.3 723.1,931.8 707.9,931.5 692.8,931.8 685.2,932.2 670.1,933.5 654.9,935.5 639.8,938.2 624.6,941.8 609.5,946.1 594.3,951.3 579.2,957.3 571.6,960.6 556.4,967.8 538.8,977.2 518.6,989 511,992.2 509.3,989.1 518.6,979.9 526.1,971.9 537.3,959.3 546.9,947.4 555.4,935.5 559.3,929.5 566.1,917.6 571.9,905.6 576.6,893.7 580.1,881.8 582.7,869.9 584.4,857.9 584.8,852 585.1,840 584.6,828.1 583.3,816.2 581.2,804.3 576.9,786.4 573.2,774.4 566.6,756.6 558.7,738.7 549.6,720.8 548.9,720 545.9,714.8 538.5,702.9 530.2,691 520.8,679 511,668.1 504,661.1 497.4,655.2 488.3,647.7 480.7,642.1 473.1,637.1 465.6,632.4 452.6,625.4 440,619.4 427.7,614.2 409,607.5 412.5,604.7 420.1,602.9 442.8,601 450.4,600.2 465.6,597.9 473.1,596.5 488.3,593 495.9,590.9 511,586 526.1,580 533.7,576.7 548.9,569.1 556.4,564.9 571.6,555.8 579.2,550.8 586.7,545.6 599.8,535.9 609.5,528.2 621.2,518 632.2,507.6 639.5,500.1 650,488.2 654.7,482.2 659.1,476.3 666.8,464.3 673,452.4 675.5,446.5 679.5,434.5 680.9,428.6 682.1,422.6 682.9,416.6 683.3,410.7 683.4,398.7 685.2,393.9 690.2,398.7 692.8,399.9 700.4,405.8 707.3,410.7 715.5,415.9 723.1,420.2 730.7,424.1 745.8,430.8 755.9,434.5 768.5,438.6 783.7,442.7 791.3,444.4 806.4,447.4 821.6,449.7 836.7,451.5 851.9,452.7 867,453.4 882.1,453.5 897.3,453 912.4,451.9 927.6,450.2 935.2,449 942.7,447.6 957.9,444.2 965.5,442.1 980.6,437.2 988.2,434.2 1000.7,428.6 1010.9,423.2 1018.5,418.6 1026.1,413.6 1033.6,408 1041.2,401.8 1048.8,394.9 1054.8,392.8 1056.4,389.4 1056.8,392.8 1056.1,404.7 1056.1,410.7 1056.9,422.6 1057.7,428.6 1060.1,440.5 1061.8,446.5 1066,458.4 1068.6,464.3 1074.7,476.3 1082.2,488.2 1086.5,494.2 1094.2,503.9 1101.5,512.1 1107.3,518 1113.5,524 1120.3,529.9 1127.6,535.9 1135.6,541.9 1144.2,547.8 1153.8,553.8 1162.4,558.7 1170,562.6 1185.1,569.4 1200.3,574.9 1215.4,579.2 1223,581 1230.6,582.4 1253.3,585.7 1258.6,589.6 1250.9,595.5 1244.1,601.5 1238.1,607.5 1232.7,613.4 1228,619.4 1223.8,625.4 1220.1,631.3 1216.8,637.3 1213.9,643.3 1211.4,649.2 1207.3,661.1 1205.6,667.1 1203.1,679 1202.2,685 1201.1,696.9 1200.9,702.9 1200.9,714.8 1201.7,726.7 1203.3,738.7 1205.7,750.6 1207.2,756.6 1210.8,768.5 1213,774.4 1218.2,786.4 1221.3,792.3 1224.7,798.3 1228.5,804.3 1232.7,810.2 1237.5,816.2 1242.8,822.2 1248.7,828.1 1255.3,834.1 1268.4,844.9 1270.1,846 1268.4,846.7 1253.3,847 1245.7,847.5 1230.6,849.2 1223,850.5 1207.9,853.8 1200.3,855.9 1185.1,861 1177.6,864 1170,867.3 1154.8,874.8 1147.3,878.9 1132.8,887.8 1124.5,893.2 1115.5,899.7 1101.8,910.4 1093.3,917.6 1080.4,929.5 1074.5,935.5 1068.9,941.4 1058.6,953.4 1054,959.3 1045.6,971.2 1038.5,983.2 1035.4,989.1 1030,1001.1 1027.8,1007 1024,1019 1022.5,1024.9 1021.2,1030.9 1019.3,1042.8 1018.1,1054.7 1017.4,1066.7 1016.2,1072.6 1010.9,1076.8ZM503.4,995.8 503,995.1 503.4,994.7 504.9,995.1 503.4,995.8ZM908,947.4 920,948.4 935.2,948.8 950.3,948.2 965.5,946.6 980.6,944 995.8,940.1 1003.3,937.8 1018.5,932 1033.6,925 1047.1,917.6 1056.8,911.6 1063.9,906.8 1071.5,901.4 1081.3,893.7 1088.4,887.8 1095,881.8 1106.9,869.9 1112.3,863.9 1117.3,857.9 1121.9,852 1130.1,840 1136.9,828.1 1142.3,816.2 1144.6,810.2 1148.2,798.3 1150.8,786.4 1152.2,774.4 1152.7,762.5 1152.3,750.6 1151,738.7 1148.8,726.7 1145.7,714.8 1141.6,702.9 1136.5,691 1130.1,679 1124.5,670.3 1117.8,661.1 1109.4,651.3 1101.8,643.6 1094.2,636.9 1086.7,630.9 1078.9,625.4 1071.5,620.7 1063.9,616.3 1056.4,612.5 1048.8,609 1041.2,606 1033.6,603.4 1026.1,601.1 1018.5,599.2 1010.9,597.7 1003.3,596.5 995.8,595.7 980.6,595.1 976.4,589.6 975.1,583.6 973.2,577.7 970.9,571.7 968,565.7 964.6,559.8 960.7,553.8 956.1,547.8 950.9,541.9 945,535.9 938.3,529.9 930.7,524 922.1,518 912.4,512.3 904.9,508.2 897.3,504.6 886.7,500.1 874.6,495.7 859.4,491.1 844.3,487.5 829.1,484.6 814,482.5 798.8,481 783.7,480.3 768.5,480.4 753.4,481.2 738.2,483 723.1,485.6 707.9,489.4 700.4,491.6 685.2,497.1 670.1,503.7 662.5,507.4 647.3,515.8 634.5,524 625.8,529.9 617.7,535.9 610.2,541.9 596.3,553.8 584.2,565.7 573.6,577.7 568.9,583.6 564.7,589.6 560.8,595.5 557.4,601.5 554.4,607.5 551.8,613.4 549.6,619.4 547.8,625.4 546.3,631.3 545.3,637.3 544.6,643.3 544.2,649.2 544.2,655.2 544.6,661.1 546.1,673.1 547.3,679 550.4,691 554.4,702.9 559.3,714.8 562.1,720.8 568.3,732.7 571.7,738.7 579.1,750.6 586.7,761.3 594.3,770.8 601.9,779.2 609.5,786.7 617,793.3 624.6,799.1 632.2,804.3 639.8,808.9 647.3,812.8 654.9,816.2 662.5,819.2 670.1,821.6 677.6,823.7 685.2,825.3 692.8,826.5 700.4,827.3 707.9,827.7 715.5,827.7 716.1,828.1 717.9,834.1 719.2,840 721,846 723.4,852 726.3,857.9 729.8,863.9 733.9,869.9 738.8,875.8 744.3,881.8 750.6,887.8 761,896.1 765.9,899.7 775.2,905.6 783.7,910.5 791.3,914.4 806.4,921.4 821.6,927.3 836.7,932.5 851.9,936.9 859.4,938.9 874.6,942.3 889.7,945.1 908,947.4Z"/>
<path stroke="#4563fd" d="M1016.3,1305.2 1020.1,1287.3 1022.6,1269.4 1024.1,1251.5 1024.4,1233.6 1023.8,1215.7 1022.2,1197.9 1019.7,1180 1016.3,1162.1 1012,1144.2 1006.6,1126.3 1000.2,1108.4 995.1,1096.5 992.4,1090.5 986.3,1078.6 979.3,1066.7 971.3,1054.7 961.9,1042.8 956.7,1036.8 951,1030.9 942.7,1023.1 938,1019 930.6,1013 920,1005.3 912.4,1000.4 904.9,995.8 892.5,989.1 882.1,984.1 874.6,980.7 859.4,974.5 844.3,969.2 829.1,964.5 814,960.5 791.3,955.5 768.5,951.8 753.4,950.1 730.7,948.6 715.5,948.3 700.4,948.7 692.8,949.2 677.6,950.6 662.5,952.8 647.3,955.7 639.8,957.4 624.6,961.6 609.5,966.6 594.3,972.5 579.2,979.2 564,986.9 548.9,995.5 530.6,1007 513.6,1019 498.1,1030.9 483.7,1042.8 470.5,1054.7 464.2,1060.7 452.3,1072.6 441.3,1084.6 431.1,1096.5 417.2,1114.4 408.9,1126.3 401.4,1138.2 394.5,1150.1 391.4,1156.1 385.5,1168 378.1,1185.9 372.2,1203.8 369,1215.7 365.5,1233.6 364,1245.6 363.5,1251.5 362.9,1263.5 363,1275.4 363.8,1287.3 364.4,1293.3 366.2,1305.2M124.7,1102.1 139.8,1103.2 155,1103.9 170.1,1103.9 192.9,1103.1 215.6,1101.1 230.7,1099.1 253.5,1095.2 268.6,1091.9 283.8,1088.1 306.5,1081.4 321.6,1076.2 344.4,1067.4 367.1,1057.3 382.2,1049.8 397.4,1041.7 412.5,1032.9 427.7,1023.5 442.8,1013.2 450.4,1007.9 465.6,996.4 480.7,984 494.8,971.2 506.8,959.3 517.6,947.4 527.2,935.5 535.7,923.5 542.9,911.6 549,899.7 554,887.8 557.8,875.8 560.7,863.9 562.5,852 563.1,846 563.6,834.1 563.2,822.2 562.7,816.2 561.1,804.3 558.7,792.3 555.5,780.4 553.7,774.4 549.4,762.5 544.4,750.6 538.7,738.7 535.5,732.7 528.5,720.8 520.6,708.9 511,696.4 501,685 495.1,679 488.8,673.1 480.7,666.2 473.1,660.3 465.9,655.2 456.5,649.2 442.8,641.5 427.7,634.2 412.5,628 397.4,622.7 374.7,616 351.9,610.5 336.8,607.4 314.1,603.4 291.3,600.2 276.2,598.4 253.5,596.4 230.7,595.1 208,594.5 185.3,594.7 162.6,595.8 139.8,597.8 124.7,599.6M1639.6,998.2 1629.4,989.1 1614.3,977.2 1597.3,965.3 1588,959.3 1578.2,953.4 1567.7,947.4 1556.4,941.4 1541.1,933.9 1518.1,923.5 1518.4,922.4 1526,919.9 1548.7,923.2 1563.9,925.1 1586.6,927.1 1601.7,927.9 1616.9,928.2 1639.6,927.6M887,923.5 897.3,925 912.4,926.5 927.6,927 942.7,926.5 957.9,925 973,922.4 980.6,920.7 995.8,916.3 1003.3,913.6 1010.9,910.6 1018.5,907.3 1026.1,903.6 1033.6,899.5 1043.4,893.7 1056.4,884.9 1067.9,875.8 1079.1,865.6 1086.6,857.9 1094.2,849 1101,840 1105,834.1 1108.6,828.1 1111.9,822.2 1114.8,816.2 1119.6,804.3 1121.5,798.3 1124.4,786.4 1126.2,774.4 1126.6,768.5 1126.8,756.6 1125.8,744.6 1123.7,732.7 1120.6,720.8 1116.2,708.9 1113.6,702.9 1110.6,696.9 1107.2,691 1101.8,682.7 1094.4,673.1 1086.7,664.5 1079.1,657.3 1071.5,651 1060.6,643.3 1050.5,637.3 1041.2,632.6 1033.6,629.4 1026.1,626.6 1018.5,624.2 1010.9,622.3 1003.3,620.8 995.8,619.7 988.2,619 980.6,618.7 973,618.9 965.5,619.5 957.9,620.6 950.3,622.1 947,619.4 947.9,613.4 948.2,607.5 948,601.5 947.2,595.5 945.8,589.6 943.8,583.6 941.3,577.7 938.2,571.7 934.4,565.7 930,559.8 924.8,553.8 920,548.9 912.4,542.2 904.9,536.5 897.3,531.4 889.7,527 882.1,523.1 870.9,518 859.4,513.7 844.3,509 836.7,507.1 821.6,504.1 806.4,501.9 791.3,500.7 776.1,500.4 761,500.9 753.4,501.5 738.2,503.5 730.7,504.9 715.5,508.4 707.9,510.6 692.8,515.9 685.2,519 674.4,524 662.5,530.3 654.9,534.7 647.3,539.5 639.8,544.8 632.2,550.5 621,559.8 614.6,565.7 608.7,571.7 603.2,577.7 598.2,583.6 593.7,589.6 589.6,595.5 586,601.5 582.7,607.5 579.9,613.4 577.4,619.4 575.4,625.4 573.7,631.3 572.4,637.3 571.5,643.3 570.9,649.2 570.7,655.2 570.7,661.1 571.2,667.1 571.9,673.1 574.2,685 577.6,696.9 582.2,708.9 584.9,714.8 591.2,726.7 598.8,738.7 603.1,744.6 609.5,752.5 618.8,762.5 624.6,768 632.4,774.4 640.7,780.4 647.3,784.6 654.9,788.8 662.5,792.3 670.1,795.4 677.6,797.9 685.2,800 692.8,801.6 700.4,802.8 707.9,803.5 715.5,803.8 723.1,803.6 730.7,803 738.2,801.9 745.8,801.8 747.5,804.3 746.6,810.2 746.4,816.2 746.6,822.2 747.5,828.1 748.9,834.1 750.8,840 753.5,846 756.6,852 760.5,857.9 765,863.9 768.5,867.9 776.5,875.8 783.7,881.9 791.3,887.5 798.8,892.4 812,899.7 824.7,905.6 836.7,910.4 851.9,915.5 867,919.6 874.6,921.3 887,923.5ZM1510.8,919 1503.9,917.6 1510.8,916.7 1515.3,917.6 1510.8,919ZM1336.6,566.9 1329.8,565.7 1336.6,564.8 1339.5,565.7 1336.6,566.9ZM124.7,517.2 137.4,524 149.6,529.9 170.1,539 193.1,547.8 215.6,555.4 238.3,562 252.9,565.7 268.6,569.4 283.8,572.6 298.9,575.4 314.1,577.9 329.2,580.1 344.4,581.9 359.5,583.4 382.2,584.8 405,585.2 420.1,584.8 427.7,584.4 442.8,583.1 450.4,582.2 465.6,579.7 473.1,578.2 488.3,574.5 503.4,569.8 511,567.1 518.6,564.1 533.7,557.4 548.9,549.5 556.4,545.2 571.1,535.9 579.2,530.3 586.7,524.6 594.3,518.6 602,512.1 609.5,505.2 620.4,494.2 625.7,488.2 635.2,476.3 643.2,464.3 646.6,458.4 649.7,452.4 652.4,446.5 656.8,434.5 658.5,428.6 659.8,422.6 660.9,416.6 661.6,410.7 662.1,398.7 661.5,386.8 660.9,380.9 658.9,368.9 656,357 650.5,339.1 649.7,333.1 647.3,330.5 646.1,327.2 644.9,321.2 647.3,318 649.4,321.2 650.8,327.2 654.9,329.6 661.3,339.1 675.7,357 685.2,367.5 692.6,374.9 700.4,381.9 706.4,386.8 715.5,393.6 723.1,398.7 730.7,403.2 738.2,407.4 753.4,414.5 768.5,420.3 776.1,422.7 783.7,425 798.8,428.8 814,431.8 829.1,434 844.3,435.6 859.4,436.5 874.6,436.7 882.1,436.6 897.3,435.8 904.9,435.1 920,433.2 927.6,432 935.2,430.5 950.3,426.8 957.9,424.6 973,419.2 980.6,416.1 988.2,412.6 995.8,408.7 1003.3,404.3 1010.9,399.5 1018.5,394.2 1026.1,388.3 1033.6,381.8 1040.9,374.9 1052.1,363 1057.1,357 1066.4,345.1 1074.7,333.1 1078.6,327.2 1085.9,315.3 1094.2,300.6 1096.5,297.4 1101.8,286 1102.7,285.4 1105.1,279.5 1109.4,270.1 1111.3,267.6 1113.2,261.6 1120.5,243.7 1124.9,231.8 1128.9,219.8 1132.4,207.9 1135.5,196 1138,184.1 1140.1,172.1 1142.1,154.2 1142.8,142.3 1142.9,130.4 1142.4,118.5 1141.8,112.5M1533.6,512.6 1532.1,512.1 1533.6,511.4 1537.3,512.1 1533.6,512.6ZM1639.6,506.2 1624.5,505.7 1601.7,505.9 1579,507.2 1556.3,509.4 1548.7,508.1 1546.6,506.1 1556.3,502 1572.5,494.2 1584.1,488.2 1594.9,482.2 1605,476.3 1614.3,470.3 1623.1,464.3 1631.2,458.4 1639.6,451.8M639.8,311.9 638.6,309.3 639.8,306.5 641.1,309.3 639.8,311.9ZM624.6,280.3 624.2,279.5 624.6,278.6 625.1,279.5 624.6,280.3ZM609.5,252.5 607.9,249.7 609.5,246.3 610.9,249.7 609.5,252.5ZM1639.6,132.7 1632,127.1 1624.5,121.9 1609.2,112.5M581.6,112.5 581.1,124.4 581.3,136.4 582.2,148.3 584.5,166.2 586.9,178.1 589.7,190 593,202 598.9,219.8 599.7,225.8 601.9,227.8 603.4,231.8 604.3,237.7 601.9,240.6 600.1,237.7 598.4,231.8 594.3,228.9 588.3,219.8 571.6,198 564,188.9 556.4,180.4 541.3,164.8 533.7,157.6 526.1,150.9 511,138.5 503.4,132.9 488.3,122.5 471.8,112.5M1268.8,112.5 1260.9,116.9 1245.7,126.3 1230.6,136.8 1215.4,148.6 1207.9,155.1 1200.3,161.9 1192.7,169.2 1185.1,176.9 1177.6,185.2 1170,193.9 1162.4,203.3 1154.8,213.3 1147.3,223.9 1139.7,235.3 1134.4,243.7 1124.5,260.6 1123.6,261.6 1120.7,267.6 1114.2,279.5 1109.4,289.9 1107.8,291.4 1105.9,297.4 1101.8,306.6 1100.3,309.3 1093.6,327.2 1089.4,339.1 1085.9,351 1082.9,363 1080.6,374.9 1079.7,380.9 1078.7,392.8 1078.5,398.7 1078.8,410.7 1079.3,416.6 1081.2,428.6 1082.6,434.5 1084.2,440.5 1088.5,452.4 1091.1,458.4 1097.3,470.3 1105,482.2 1109.4,488.2 1117,497.4 1124.5,505.5 1131.3,512.1 1139.7,519.3 1147.3,525.3 1154.8,530.7 1162.4,535.7 1170,540.2 1177.6,544.4 1192.7,551.5 1207.9,557.3 1223,561.8 1230.6,563.6 1245.7,566.5 1253.3,567.5 1268.4,568.8 1283.6,569.2 1298.7,568.7 1313.9,567.6 1321.5,568 1325.9,571.7 1313.9,577.3 1298.7,585.5 1292,589.6 1283.6,595.2 1275.2,601.5 1268.1,607.5 1261.8,613.4 1256.2,619.4 1251.3,625.4 1246.8,631.3 1242.9,637.3 1239.4,643.3 1236.4,649.2 1233.7,655.2 1229.3,667.1 1226.2,679 1224.2,691 1223.2,702.9 1223.1,714.8 1223.9,726.7 1225.6,738.7 1228.3,750.6 1232,762.5 1234.3,768.5 1236.9,774.4 1239.8,780.4 1243,786.4 1246.6,792.3 1253.3,801.8 1260.2,810.2 1268.4,818.8 1272,822.2 1278.9,828.1 1286.6,834.1 1298.7,842.3 1306.3,846.9 1315.3,852 1327,857.9 1339.9,863.9 1344.2,867.7 1351.8,869 1353.9,869.9 1351.8,870.9 1344.2,870.8 1339,869.9 1336.6,868.3 1329,868.1 1306.3,865.1 1291.2,864 1276,863.5 1260.9,863.8 1245.7,865.1 1238.2,866 1223,868.8 1207.9,872.7 1192.7,877.7 1185.1,880.6 1177.6,883.9 1162.4,891.3 1147.3,900 1138.5,905.6 1124.5,915.7 1114.8,923.5 1108,929.5 1101.6,935.5 1094.2,942.8 1084.7,953.4 1079.9,959.3 1075.3,965.3 1067.2,977.2 1060.3,989.1 1057.4,995.1 1052.3,1007 1050.1,1013 1046.6,1024.9 1045.2,1030.9 1044,1036.8 1042.4,1048.8 1041.8,1054.7 1041.3,1066.7 1041.3,1072.6 1041.8,1084.6 1042.8,1096.5 1044.4,1108.4 1047.8,1126.3 1050.6,1138.2 1053.8,1150.1 1057.5,1162.1 1061.6,1174 1068.6,1191.9 1073.8,1203.8 1079.1,1214.8 1089.3,1233.6 1094.2,1241.9 1101.8,1253.7 1109.4,1264.5 1117,1274.4 1124.5,1283.6 1132.1,1292.2 1144.7,1305.2"/>
<path stroke="#2f81fa" d="M971.2,1305.2 976.5,1293.3 980.6,1282.7 983.1,1275.4 986.6,1263.5 989.4,1251.5 990.6,1245.6 992.4,1233.6 994.1,1215.7 994.5,1197.9 993.6,1180 991.5,1162.1 988.1,1144.2 985.2,1132.3 983.5,1126.3 979.5,1114.4 977.3,1108.4 972.3,1096.5 966.4,1084.6 959.5,1072.6 951.4,1060.7 946.8,1054.7 941.8,1048.8 935.2,1041.5 930.6,1036.8 924.2,1030.9 912.4,1021.2 901,1013 889.7,1005.9 874.6,997.7 859.4,990.6 844.3,984.6 829.1,979.4 814,975 806.4,973.1 791.3,969.8 776.1,967.1 768.5,966.1 753.4,964.4 738.2,963.4 723.1,963.1 707.9,963.5 700.4,963.9 685.2,965.4 670.1,967.7 654.9,970.7 639.8,974.6 624.6,979.5 609.5,985.2 594.3,992 579.2,999.7 564,1008.6 548.3,1019 532.3,1030.9 518,1042.8 505.1,1054.7 493.4,1066.7 482.8,1078.6 473.2,1090.5 464.5,1102.4 460.5,1108.4 453.2,1120.3 446.6,1132.3 440.9,1144.2 438.3,1150.1 433.7,1162.1 429.9,1174 426.8,1185.9 425.5,1191.9 423.5,1203.8 422.8,1209.8 421.9,1221.7 421.8,1233.6 422,1239.6 423,1251.5 424.7,1263.5 425.9,1269.4 428.8,1281.3 432.6,1293.3 437.3,1305.2M1527.6,1305.2 1538.1,1299.2 1548.7,1292.5 1556.3,1287.3 1563.9,1281.6 1571.4,1275.5 1579,1268.8 1586.6,1261.5 1594.2,1253.5 1601.7,1244.5 1609.3,1234.5 1613.9,1227.7 1621,1215.7 1627,1203.8 1629.6,1197.9 1634.1,1185.9 1637.6,1174 1639.6,1164.8M1639.6,1100.6 1637.4,1090.5 1635.7,1084.6 1631.7,1072.6 1626.8,1060.7 1620.9,1048.8 1613.9,1036.8 1605.8,1024.9 1596.4,1013 1585.8,1001.1 1573.7,989.1 1559.9,977.2 1552.3,971.2 1544.2,965.3 1535.5,959.3 1526.3,953.4 1516.5,947.4 1505.9,941.4 1488.1,932.3 1469.4,923.5 1450.2,915.6 1427.5,907.1 1404.8,899.6 1382.1,893 1366.9,889.2 1344.2,884.4 1321.5,880.8 1306.3,879.1 1291.2,878.2 1283.6,878 1268.4,878.3 1253.3,879.5 1238.2,881.7 1223,884.9 1207.9,889.2 1192.7,894.7 1185.1,897.9 1177.6,901.5 1162.4,909.6 1149.8,917.6 1139.7,924.8 1132.1,930.7 1124.5,937.1 1113.7,947.4 1108.1,953.4 1102.9,959.3 1098,965.3 1093.6,971.2 1089.5,977.2 1085.7,983.2 1082.3,989.1 1079.2,995.1 1073.8,1007 1069.6,1019 1066.5,1030.9 1064.3,1042.8 1063,1054.7 1062.6,1066.7 1062.7,1072.6 1063.4,1084.6 1064.9,1096.5 1065.8,1102.4 1068.2,1114.4 1073,1132.3 1074.9,1138.2 1079.2,1150.1 1086.7,1167.7 1094.2,1182.8 1102.9,1197.9 1109.4,1207.9 1114.9,1215.7 1124.5,1228.3 1132.1,1237.3 1139.7,1245.6 1151.7,1257.5 1162.4,1267.1 1170,1273.3 1177.6,1279.1 1192.7,1289.6 1207.9,1298.9 1219.5,1305.2M124.7,1047.6 139.8,1050.9 155,1053.6 170.1,1055.6 177.7,1056.4 192.9,1057.5 208,1057.9 230.7,1057.5 245.9,1056.5 268.6,1053.9 283.8,1051.4 306.5,1046.6 321.6,1042.6 336.8,1038 351.9,1032.8 367.1,1026.9 374.7,1023.7 389.8,1016.8 405,1009.1 420.1,1000.6 435.3,991.2 450.4,980.9 465.6,969.3 477.3,959.3 489.9,947.4 501,935.5 510.7,923.5 519.1,911.6 522.8,905.6 526.2,899.7 532,887.8 536.7,875.8 540.3,863.9 542.8,852 544.3,840 544.8,828.1 544.4,816.2 543.1,804.3 542.1,798.3 539.5,786.4 536.1,774.4 531.7,762.5 526.5,750.6 520.3,738.7 513.1,726.7 504.8,714.8 495.9,703.8 488.3,695.6 477.1,685 465.6,675.5 453.6,667.1 442.8,660.5 435.3,656.3 427.7,652.4 412.5,645.7 397.4,640 382.2,635.1 374.7,633 359.5,629.2 344.4,626 321.6,622.2 306.5,620.3 283.8,618.2 261,617.1 238.3,617 215.6,617.9 200.4,619.1 177.7,621.8 162.6,624.2 139.8,629 124.7,632.9M892.2,905.6 904.9,907.2 920,908.1 935.2,907.9 942.7,907.4 950.3,906.6 965.5,904.2 973,902.5 988.2,898.2 1000.5,893.7 1010.9,889.2 1018.5,885.4 1025.1,881.8 1033.6,876.6 1041.2,871.4 1051,863.9 1057.8,857.9 1064,852 1069.6,846 1074.7,840 1079.3,834.1 1083.4,828.1 1087.1,822.2 1090.4,816.2 1093.3,810.2 1095.8,804.3 1098,798.3 1099.8,792.3 1101.3,786.4 1102.4,780.4 1103.3,774.4 1103.8,768.5 1104,762.5 1103.9,756.6 1103.5,750.6 1102.8,744.6 1100.4,732.7 1098.7,726.7 1096.6,720.8 1094.2,714.8 1091.4,708.9 1088.2,702.9 1084.5,696.9 1079.1,689.3 1075.7,685 1071.5,680.3 1064.2,673.1 1056.4,666.4 1048.8,660.9 1041.2,656.1 1033.6,651.9 1026.1,648.4 1018.5,645.4 1010.9,642.9 1003.3,640.9 995.8,639.3 988.2,638.2 980.6,637.6 973,637.3 965.5,637.6 957.9,638.3 950.3,639.4 942.7,641.1 935.2,643.4 927.6,646.1 920,649.5 919.1,649.2 918.2,643.3 920.8,637.3 922.9,631.3 924.4,625.4 925.2,619.4 925.5,613.4 925.2,607.5 924.2,601.5 922.7,595.5 920.5,589.6 917.7,583.6 914.2,577.7 910,571.7 905,565.7 899.2,559.8 892.3,553.8 884.2,547.8 874.6,541.9 867,537.9 859.4,534.3 851.9,531.3 844.3,528.6 836.7,526.2 821.6,522.5 814,521.1 798.8,519.1 791.3,518.5 776.1,518.1 761,518.7 753.4,519.4 738.2,521.5 730.7,523.1 715.5,526.9 707.9,529.4 700.4,532.1 692.8,535.2 685.2,538.6 677.6,542.4 670.1,546.6 662.5,551.3 650.3,559.8 639.8,568.4 629.9,577.7 624.4,583.6 619.4,589.6 614.9,595.5 610.9,601.5 607.3,607.5 604.2,613.4 601.5,619.4 599.2,625.4 597.3,631.3 595.8,637.3 594.7,643.3 594,649.2 593.6,655.2 593.5,661.1 593.8,667.1 594.5,673.1 595.4,679 596.7,685 598.4,691 600.3,696.9 602.7,702.9 605.3,708.9 608.4,714.8 611.8,720.8 615.6,726.7 619.9,732.7 624.6,738.6 630.1,744.6 639.8,753.8 647.3,759.8 654.9,765 662.5,769.4 672.9,774.4 677.6,776.4 685.2,779.1 692.8,781.2 700.4,782.9 707.9,784 715.5,784.7 723.1,784.9 730.7,784.7 738.2,784 745.8,782.7 753.4,781 761,778.7 768.5,775.9 776.1,772.5 778.8,774.4 773.6,786.4 771.6,792.3 770.2,798.3 769.5,804.3 769.3,810.2 769.7,816.2 770.6,822.2 772.2,828.1 774.4,834.1 777.3,840 780.8,846 783.7,850.1 790.1,857.9 796.1,863.9 798.8,866.4 803,869.9 811.2,875.8 821.6,882.3 832.2,887.8 844.3,893 851.9,895.8 859.4,898.3 874.6,902.4 882.1,904 892.2,905.6ZM1639.6,539.4 1624.5,536.6 1609.3,534.5 1594.2,533.1 1571.4,532 1556.3,532 1541.1,532.6 1526,533.6 1503.3,536 1488.1,538.2 1465.4,542.2 1450.2,545.3 1427.5,550.6 1404.8,556.8 1389.6,561.5 1366.9,569.3 1351.8,575.3 1336.6,582.1 1322.1,589.6 1312,595.5 1302.9,601.5 1294.9,607.5 1287.7,613.4 1281.3,619.4 1275.6,625.4 1270.5,631.3 1266,637.3 1262,643.3 1258.4,649.2 1255.3,655.2 1252.6,661.1 1250.3,667.1 1248.3,673.1 1245.3,685 1243.4,696.9 1242.6,708.9 1243,720.8 1243.5,726.7 1245.5,738.7 1248.5,750.6 1250.4,756.6 1252.7,762.5 1255.3,768.5 1258.2,774.4 1261.5,780.4 1265.2,786.4 1269.4,792.3 1276,800.6 1283.6,808.8 1291.4,816.2 1298.7,822.3 1306.4,828.1 1313.9,833.2 1321.5,837.9 1336.1,846 1348.3,852 1366.9,860 1382.1,865.8 1397.2,871 1419.9,878 1442.7,884 1465.4,889.1 1480.5,892 1503.3,895.6 1526,898.1 1541.1,899.2 1556.3,899.8 1571.4,899.8 1594.2,898.9 1609.3,897.5 1624.5,895.4 1639.6,892.6M124.7,467.3 134.3,476.3 141.3,482.2 148.9,488.2 156.9,494.2 165.5,500.1 174.8,506.1 184.9,512.1 195.8,518 207.6,524 223.2,531.1 234.9,535.9 245.9,540.1 269,547.8 291.3,554.1 306.5,557.8 316,559.8 329.2,562.3 344.4,564.7 367.1,567.4 389.8,568.9 405,569.3 412.5,569.2 427.7,568.5 435.3,567.9 450.4,566.2 465.6,563.7 473.1,562.1 488.3,558.2 495.9,555.9 511,550.5 526.1,544 541.3,536.3 548.9,532 556.4,527.4 564,522.4 571.6,517 585.2,506.1 591.9,500.1 598.1,494.2 603.8,488.2 609.5,481.8 614,476.3 618.4,470.3 622.5,464.3 626.1,458.4 629.4,452.4 634.9,440.5 637.1,434.5 638.9,428.6 641.7,416.6 642.6,410.7 643.4,398.7 643.4,392.8 642.6,380.9 641.8,374.9 639.5,363 638.1,357 634.6,345.1 630.3,333.1 627.9,327.2 619.7,309.3 613.6,297.4 606.8,285.4 601.9,277.5 594.3,265.9 586.7,255.3 579.2,245.3 571.6,236.1 564,227.5 556.4,219.5 548.9,211.9 541.3,204.9 533.7,198.2 518.6,186.2 503.4,175.6 495.9,170.7 480.7,162 473.1,158 458,150.8 442.8,144.5 427.7,139.2 412.5,134.6 405,132.7 389.8,129.3 382.2,127.8 374.7,126.6 359.5,124.7 344.4,123.4 336.8,123 321.6,122.8 314.1,122.9 298.9,123.7 291.3,124.4 276.2,126.2 268.6,127.4 261,128.8 245.9,132.1 230.7,136.2 223.2,138.5 212.4,142.3 200.4,147 192.9,150.3 184.6,154.2 173.1,160.2 162.9,166.2 155,171.2 147.4,176.4 139.8,182.1 132.3,188.2 124.7,194.9M1639.6,258.1 1635.9,249.7 1632.9,243.7 1629.6,237.7 1622.1,225.8 1616.9,218.6 1608.1,207.9 1601.7,201.1 1594.2,193.7 1586.6,186.9 1575.4,178.1 1567,172.1 1557.7,166.2 1548.7,160.9 1541.1,156.9 1533.6,153.2 1518.4,146.6 1506.8,142.3 1495.7,138.7 1480.5,134.5 1473,132.8 1465.4,131.3 1450.2,128.8 1442.7,127.8 1427.5,126.5 1412.4,125.8 1397.2,125.9 1382.1,126.8 1374.5,127.4 1366.9,128.3 1351.8,130.6 1336.6,133.6 1329,135.4 1313.9,139.6 1306.3,142 1298.7,144.6 1283.6,150.5 1268.4,157.4 1260.9,161.2 1245.7,169.6 1238.2,174.3 1223,184.6 1215.4,190.3 1207.9,196.3 1200.3,202.8 1192.7,209.7 1185.1,217 1177.6,224.9 1170,233.4 1162.4,242.5 1154.8,252.3 1147.3,262.9 1139.7,274.5 1133.1,285.4 1126.5,297.4 1120.5,309.3 1117,317.2 1112.8,327.2 1108.4,339.1 1104.7,351 1103.1,357 1100.6,368.9 1098.9,380.9 1098.1,392.8 1098,398.7 1098.7,410.7 1099.5,416.6 1101.9,428.6 1103.5,434.5 1105.4,440.5 1107.7,446.5 1113.2,458.4 1120.2,470.3 1124.3,476.3 1128.8,482.2 1133.8,488.2 1139.7,494.6 1147.3,501.9 1154.8,508.5 1162.4,514.4 1170,519.7 1177.6,524.5 1185.1,528.9 1192.7,532.9 1200.3,536.4 1207.9,539.6 1223,544.9 1230.6,547.1 1245.7,550.6 1253.3,551.9 1268.4,553.8 1283.6,554.8 1291.2,554.9 1306.3,554.6 1313.9,554.1 1329,552.7 1351.8,549.5 1366.9,546.7 1382.1,543.4 1397.2,539.8 1412.4,535.7 1427.5,531.3 1442.7,526.5 1466.6,518 1481.8,512.1 1495.7,506.1 1508.5,500.1 1520.4,494.2 1531.4,488.2 1541.5,482.2 1551,476.3 1559.8,470.3 1568,464.3 1575.6,458.4 1582.7,452.4 1589.3,446.5 1595.5,440.5 1606.6,428.6 1611.6,422.6 1620.5,410.7 1628.1,398.7 1631.4,392.8 1634.5,386.8 1639.6,375.3M626.1,112.5 622.9,124.4 620.5,136.4 619,148.3 618.5,154.2 618.1,166.2 618.4,178.1 618.8,184.1 620.1,196 622,207.9 626,225.8 629.4,237.7 635.5,255.6 642.9,273.5 648.5,285.4 658,303.3 665.1,315.3 673.1,327.2 682,339.1 692.1,351 700.4,359.6 707.9,366.7 717.7,374.9 725.8,380.9 738.2,388.9 745.8,393.2 753.4,397 761,400.5 771.3,404.7 783.7,409 798.8,413.3 814,416.6 821.6,418 836.7,420.1 851.9,421.3 867,421.8 882.1,421.6 897.3,420.5 912.4,418.6 920,417.3 935.2,414.1 950.3,409.7 957.9,407.1 973,400.9 980.6,397.2 988.2,393.1 995.8,388.6 1003.3,383.6 1014.8,374.9 1026.1,365 1033.6,357.5 1041.2,349 1049.3,339.1 1057.8,327.2 1065.5,315.3 1069,309.3 1075.5,297.4 1081.3,285.4 1088.9,267.6 1095.2,249.7 1098.8,237.7 1103,219.8 1105.2,207.9 1106,202 1107.2,190 1107.8,178.1 1107.7,166.2 1106.9,154.2 1106.2,148.3 1104.4,136.4 1101.7,124.4 1098.2,112.5"/>
<path stroke="#2797eb" d="M927.4,1305.2 935.9,1293.3 943.3,1281.3 950.3,1267.8 954.8,1257.5 957.2,1251.5 961.2,1239.6 962.9,1233.6 965.6,1221.7 967.7,1209.8 968.5,1203.8 969.4,1191.9 969.7,1185.9 969.6,1174 968.9,1162.1 967.4,1150.1 966.4,1144.2 963.9,1132.3 960.6,1120.3 956.4,1108.4 954,1102.4 948.5,1090.5 941.8,1078.6 938,1072.6 933.8,1066.7 929.3,1060.7 924.3,1054.7 918.9,1048.8 912.9,1042.8 906.4,1036.8 897.3,1029.4 891.3,1024.9 882.5,1019 872.7,1013 859.4,1005.9 844.3,999.1 829.1,993.3 814,988.5 798.8,984.6 783.7,981.4 768.5,979 761,978.1 745.8,976.9 730.7,976.4 715.5,976.7 700.4,977.8 692.8,978.6 677.6,980.9 662.5,984 647.3,988.1 632.2,993.2 617,999.3 601.9,1006.5 586.7,1014.9 571.6,1024.7 562.9,1030.9 555.2,1036.8 548.1,1042.8 535,1054.7 523.5,1066.7 513.4,1078.6 504.4,1090.5 496.5,1102.4 489.6,1114.4 483.6,1126.3 478.5,1138.2 476.3,1144.2 472.6,1156.1 469.6,1168 467.6,1180 466.8,1185.9 466,1197.9 466,1209.8 466.3,1215.7 467.6,1227.7 469.8,1239.6 472.8,1251.5 476.9,1263.5 480.7,1272.7 484.8,1281.3 491.6,1293.3 499.5,1305.2M1322.3,1293.3 1336.6,1294.4 1351.8,1294.8 1366.9,1294.5 1374.5,1294.1 1389.6,1292.6 1404.8,1290.4 1412.4,1289 1427.5,1285.5 1442.7,1281.1 1457.8,1275.7 1465.4,1272.6 1480.5,1265.6 1495.3,1257.5 1503.3,1252.6 1513.4,1245.6 1521.2,1239.6 1528.3,1233.6 1533.6,1228.8 1540.7,1221.7 1548.7,1212.9 1555.9,1203.8 1560.1,1197.9 1567.5,1185.9 1571.4,1178.5 1576.2,1168 1580.6,1156.1 1582.4,1150.1 1585.1,1138.2 1586.8,1126.3 1587.6,1114.4 1587.4,1102.4 1586.1,1090.5 1584,1078.6 1580.8,1066.7 1576.6,1054.7 1574.1,1048.8 1568.2,1036.8 1561.2,1024.9 1557.2,1019 1552.9,1013 1543.2,1001.1 1537.8,995.1 1532,989.1 1525.7,983.2 1519,977.2 1511.8,971.2 1504.1,965.3 1495.8,959.3 1486.9,953.4 1477.3,947.4 1466.9,941.4 1455.7,935.5 1443.4,929.5 1427.5,922.5 1412.4,916.5 1397.2,911.1 1382.1,906.4 1366.9,902.2 1351.8,898.6 1336.6,895.7 1321.5,893.5 1306.3,891.9 1291.2,891.2 1283.6,891.1 1268.4,891.7 1253.3,893.2 1238.2,895.7 1230.6,897.4 1215.4,901.6 1207.9,904.2 1200.3,907 1192.7,910.2 1185.1,913.8 1177.6,917.7 1170,922.1 1162.4,926.8 1154.8,932 1147.3,937.8 1139.7,944.1 1132.1,951 1124.1,959.3 1118.8,965.3 1114,971.2 1109.7,977.2 1105.7,983.2 1098.8,995.1 1093.2,1007 1088.9,1019 1085.7,1030.9 1084.4,1036.8 1082.8,1048.8 1082.3,1054.7 1082.1,1066.7 1082.3,1072.6 1083.4,1084.6 1084.2,1090.5 1086.5,1102.4 1089.6,1114.4 1091.5,1120.3 1094.2,1128.2 1098.2,1138.2 1101.8,1146.2 1106.8,1156.1 1110.1,1162.1 1117,1173.4 1125.7,1185.9 1132.1,1194.3 1139.7,1203.2 1147.3,1211.3 1154.8,1218.8 1162.4,1225.7 1170,1232.1 1177.6,1238 1185.1,1243.4 1192.7,1248.5 1200.3,1253.3 1215.4,1261.7 1223,1265.5 1238.2,1272.3 1253.3,1278.1 1268.4,1282.9 1276,1285 1291.2,1288.5 1298.7,1290 1313.9,1292.3 1322.3,1293.3ZM124.7,1000.1 139.8,1005.9 155,1010.8 170.1,1014.8 185.3,1018 200.4,1020.4 215.6,1022.1 230.7,1023.1 238.3,1023.4 253.5,1023.3 268.6,1022.6 283.8,1021.3 291.3,1020.3 306.5,1018 321.6,1014.9 336.8,1011.2 344.4,1009.1 359.5,1004.3 374.7,998.7 389.8,992.3 405,985.1 420.1,976.8 435.3,967.5 450.4,956.9 462.4,947.4 473.1,937.9 481.5,929.5 487,923.5 492.1,917.6 501.1,905.6 508.6,893.7 514.8,881.8 519.7,869.9 523.4,857.9 526,846 527.5,834.1 528,822.2 527.4,810.2 525.9,798.3 523.4,786.4 519.9,774.4 515.4,762.5 509.9,750.6 503.1,738.7 499.3,732.7 495.2,726.7 488.3,717.8 480.4,708.9 474.5,702.9 468.1,696.9 458,688.6 450.4,683 444.5,679 435.3,673.4 427.7,669.2 420.1,665.4 405,658.7 389.8,653.1 374.7,648.5 359.5,644.8 344.4,641.7 336.8,640.4 321.6,638.3 298.9,636.3 283.8,635.6 261,635.7 245.9,636.4 223.2,638.5 208,640.7 192.9,643.4 177.7,646.9 170.1,648.9 155,653.4 139.8,658.8 124.7,665M885.6,887.8 897.3,889.7 904.9,890.6 912.4,891.2 927.6,891.4 935.2,891.1 942.7,890.5 950.3,889.6 965.5,886.8 973,884.9 980.6,882.6 988.2,880 995.8,877 1003.3,873.6 1010.6,869.9 1018.5,865.3 1026.1,860.4 1033.6,854.9 1041.2,848.6 1050.1,840 1055.4,834.1 1060.2,828.1 1064.5,822.2 1068.3,816.2 1071.5,810.2 1074.4,804.3 1076.9,798.3 1078.9,792.3 1080.6,786.4 1081.9,780.4 1082.8,774.4 1083.4,768.5 1083.6,762.5 1083.5,756.6 1083,750.6 1082.2,744.6 1081,738.7 1079.4,732.7 1077.4,726.7 1075,720.8 1072.1,714.8 1068.8,708.9 1064.9,702.9 1060.4,696.9 1056.4,692.2 1048.8,684.5 1041.2,678.1 1033.6,672.7 1026.1,668.1 1018.5,664.2 1010.9,660.9 1003.3,658.2 995.8,656.1 988.2,654.4 980.6,653.3 973,652.6 965.5,652.4 957.9,652.6 950.3,653.4 942.7,654.6 935.2,656.4 927.6,658.6 920,661.4 912.4,664.6 904.9,668.5 882.1,681.8 880.1,679 885.3,673.1 894.1,661.1 897.7,655.2 900.8,649.2 903.3,643.3 905.2,637.3 906.5,631.3 907.3,625.4 907.4,619.4 906.9,613.4 905.8,607.5 904,601.5 901.6,595.5 898.5,589.6 894.6,583.6 889.9,577.7 884.3,571.7 877.5,565.7 869.5,559.8 859.4,553.7 851.9,549.8 847.4,547.8 836.7,543.7 829.1,541.2 821.6,539.2 814,537.5 798.8,535.2 791.3,534.4 776.1,533.9 761,534.5 753.4,535.2 738.2,537.6 730.7,539.3 723.1,541.3 715.5,543.6 707.9,546.3 700.4,549.4 692.8,552.8 685.2,556.7 677.6,561.1 670.5,565.7 662.3,571.7 655.1,577.7 648.6,583.6 642.9,589.6 639.8,593.2 633.3,601.5 629.3,607.5 625.8,613.4 622.8,619.4 620.3,625.4 618.2,631.3 616.5,637.3 615.2,643.3 614.3,649.2 613.8,655.2 613.7,661.1 613.9,667.1 614.6,673.1 615.6,679 617,685 618.8,691 620.9,696.9 623.6,702.9 626.6,708.9 632.2,718 634.1,720.8 639.8,728 644,732.7 650.1,738.7 657.1,744.6 662.5,748.6 670.1,753.4 677.6,757.5 685.2,760.9 692.8,763.7 700.4,766 707.9,767.6 715.5,768.8 723.1,769.5 730.7,769.7 738.2,769.5 745.8,768.7 753.4,767.4 761,765.7 768.5,763.3 776.1,760.5 783.7,757.1 791.3,753.3 798.8,748.9 806.4,743.9 813.3,744.6 804.2,756.6 800.2,762.5 796.7,768.5 793.7,774.4 791.4,780.4 789.5,786.4 788.2,792.3 787.6,798.3 787.5,804.3 788.1,810.2 789.3,816.2 791.1,822.2 793.5,828.1 796.7,834.1 800.6,840 806.4,847.1 811.1,852 817.8,857.9 821.6,860.8 829.1,866 836.7,870.5 844.3,874.4 851.9,877.7 859.4,880.6 867,883.2 874.6,885.3 885.6,887.8ZM814,742.8 813.8,738.7 814,738.5 814.5,738.7 814,742.8ZM829.1,726.8 829.1,726.8ZM836.7,721.3 836.2,720.8 836.7,720.3 837.2,720.8 836.7,721.3ZM874.6,685 874.6,685ZM1639.6,570.4 1624.5,565.2 1609.3,560.9 1594.2,557.5 1579,555 1563.9,553.1 1548.7,552 1533.6,551.5 1518.4,551.6 1503.3,552.3 1488.1,553.6 1465.4,556.4 1450.2,558.9 1427.5,563.6 1412.4,567.5 1397.2,571.9 1379.9,577.7 1366.9,582.6 1351.8,589.2 1339.2,595.5 1328.8,601.5 1319.6,607.5 1311.4,613.4 1304.2,619.4 1297.8,625.4 1292,631.3 1286.9,637.3 1282.4,643.3 1278.4,649.2 1274.9,655.2 1271.8,661.1 1269.1,667.1 1266.9,673.1 1264.9,679 1263.4,685 1262.2,691 1261.3,696.9 1260.4,708.9 1260.4,714.8 1260.7,720.8 1262.2,732.7 1263.4,738.7 1264.9,744.6 1266.7,750.6 1271.5,762.5 1274.4,768.5 1277.7,774.4 1283.6,783.5 1290.3,792.3 1298.7,801.6 1306.3,808.7 1315.3,816.2 1323.5,822.2 1332.6,828.1 1344.2,834.8 1359.3,842.4 1374.5,848.9 1389.6,854.6 1404.8,859.6 1427.5,865.9 1442.7,869.3 1457.8,872.3 1473,874.7 1495.7,877.3 1510.8,878.4 1526,878.8 1533.6,878.8 1548.7,878.4 1563.9,877.3 1579,875.5 1594.2,872.9 1609.3,869.6 1624.5,865.3 1639.6,860.1M1288.5,541.9 1298.7,542.1 1306.3,542 1313.9,541.7 1329,540.5 1344.2,538.7 1351.8,537.5 1366.9,534.6 1389.6,529.2 1408,524 1427.5,517.5 1441.9,512.1 1450.2,508.7 1469.2,500.1 1480.9,494.2 1488.1,490.2 1501.7,482.2 1510.8,476.3 1519.3,470.3 1527.1,464.3 1534.4,458.4 1541,452.4 1547.3,446.5 1553,440.5 1558.4,434.5 1567.8,422.6 1575.7,410.7 1582.3,398.7 1585.2,392.8 1589.9,380.9 1593.5,368.9 1596,357 1597.5,345.1 1597.8,333.1 1597.6,327.2 1596.3,315.3 1595.3,309.3 1592.4,297.4 1588.3,285.4 1583,273.5 1576.4,261.6 1572.5,255.6 1568.2,249.7 1563.5,243.7 1558.3,237.7 1552.6,231.8 1546.4,225.8 1539.6,219.8 1532,213.9 1523.6,207.9 1510.8,199.9 1503.3,195.8 1495.7,192 1488.1,188.5 1477.1,184.1 1465.4,180 1450.2,175.6 1442.7,173.8 1427.5,170.9 1419.9,169.7 1404.8,168.1 1389.6,167.4 1374.5,167.4 1359.3,168.2 1344.2,169.9 1336.6,171 1321.5,173.9 1313.9,175.7 1298.7,179.9 1283.6,185.1 1276,188 1260.9,194.7 1253.3,198.5 1238.2,206.9 1230.6,211.6 1223,216.7 1215.4,222.1 1207.9,228 1200.3,234.3 1192.7,241.1 1185.1,248.4 1172.9,261.6 1167.9,267.6 1158.6,279.5 1150.4,291.4 1143.1,303.3 1136.6,315.3 1132.1,324.7 1128.5,333.1 1124.1,345.1 1120.6,357 1118,368.9 1116.4,380.9 1115.7,392.8 1116.1,404.7 1116.8,410.7 1118.9,422.6 1120.4,428.6 1122.3,434.5 1127,446.5 1129.9,452.4 1133.2,458.4 1136.9,464.3 1141.1,470.3 1147.3,478.1 1150.9,482.2 1156.6,488.2 1162.9,494.2 1170,500.1 1177.9,506.1 1185.1,511 1192.7,515.5 1200.3,519.7 1207.9,523.3 1215.4,526.6 1223,529.5 1230.6,532.1 1238.2,534.3 1253.3,537.9 1260.9,539.2 1276,541.1 1288.5,541.9ZM124.7,377.5 126.9,386.8 128.7,392.8 130.8,398.7 135.7,410.7 141.8,422.6 145.3,428.6 153.2,440.5 157.7,446.5 167.7,458.4 173.4,464.3 179.4,470.3 186,476.3 193.1,482.2 200.7,488.2 208.9,494.2 217.9,500.1 227.6,506.1 238.3,512.1 253.5,519.6 263.1,524 276.2,529.3 283.8,532.1 298.9,537.2 306.5,539.5 321.6,543.6 336.8,547 351.9,549.8 367.1,552 374.7,552.8 389.8,554 397.4,554.4 412.5,554.6 420.1,554.4 435.3,553.5 442.8,552.7 458,550.6 465.6,549.2 480.7,545.7 488.3,543.5 503.4,538.4 518.6,532.2 533.7,524.7 541.3,520.5 548.9,515.8 556.4,510.7 564,505.2 570.4,500.1 577.3,494.2 583.6,488.2 589.3,482.2 594.6,476.3 599.4,470.3 603.7,464.3 607.7,458.4 611.2,452.4 614.3,446.5 619.4,434.5 621.5,428.6 623.1,422.6 625.5,410.7 626.2,404.7 626.6,398.7 626.6,392.8 626.4,386.8 625.2,374.9 623,363 621.5,357 619.7,351 615.6,339.1 610.6,327.2 604.7,315.3 598,303.3 594.3,297.3 586.7,285.9 579.2,275.7 571.6,266.3 564,257.7 556.4,249.7 550.3,243.7 541.3,235.5 533.7,229.1 526.1,223.2 518.6,217.7 511,212.5 495.9,203.3 480.7,195.2 465.6,188.3 450.4,182.4 442.8,179.9 427.7,175.4 420.1,173.5 405,170.3 397.4,169 389.8,167.9 374.7,166.3 359.5,165.5 351.9,165.4 336.8,165.7 329.2,166.2 314.1,167.7 306.5,168.8 298.9,170.1 283.8,173.3 276.2,175.2 261,179.8 249.2,184.1 238.3,188.5 230.7,192 222.9,196 212.3,202 202.8,207.9 194.3,213.9 186.5,219.8 177.7,227.4 170.1,234.6 162.6,242.7 156.7,249.7 152.2,255.6 147.4,262.5 144.2,267.6 137.5,279.5 134.7,285.4 129.9,297.4 126.2,309.3 124.7,315.7M667,112.5 660.9,124.4 656,136.4 652.1,148.3 649.2,160.2 647.2,172.1 646.1,184.1 645.8,196 645.9,202 646.8,213.9 648.4,225.8 650.7,237.7 653.7,249.7 657.4,261.6 659.5,267.6 664.3,279.5 669.9,291.4 676.2,303.3 679.8,309.3 685.2,317.8 691.9,327.2 701.6,339.1 707.9,346.1 712.9,351 719.4,357 730.7,366.2 738.2,371.6 745.8,376.5 753.4,380.9 761,384.8 768.5,388.4 776.1,391.5 783.7,394.4 798.8,399.2 814,402.9 829.1,405.6 836.7,406.6 851.9,407.9 867,408.4 882.1,408 897.3,406.7 904.9,405.7 920,402.9 935.2,399.1 942.7,396.8 950.3,394.1 957.9,391.1 965.5,387.7 973,383.9 980.6,379.7 988.2,375 995.8,369.8 1003.3,364 1011.5,357 1018.5,350.3 1023.5,345.1 1028.8,339.1 1038.2,327.2 1046.2,315.3 1053.2,303.3 1059.3,291.4 1062,285.4 1066.9,273.5 1071,261.6 1074.4,249.7 1077.1,237.7 1078.2,231.8 1079.8,219.8 1080.7,207.9 1080.8,196 1080.2,184.1 1078.8,172.1 1076.5,160.2 1073.3,148.3 1069.2,136.4 1064,124.4 1057.7,112.5"/>
<path stroke="#1ca9df" d="M881.9,1305.2 889.7,1298.2 894.8,1293.3 904.9,1282.3 912.4,1272.8 920,1261.9 926.2,1251.5 932.2,1239.6 937.2,1227.7 939.3,1221.7 942.7,1209.8 945.3,1197.9 946.3,1191.9 947.5,1180 947.9,1174 947.9,1162.1 947.1,1150.1 945.4,1138.2 944.2,1132.3 941.2,1120.3 937.2,1108.4 932.1,1096.5 925.7,1084.6 922.1,1078.6 918,1072.6 913.6,1066.7 908.7,1060.7 903.3,1054.7 897.4,1048.8 890.8,1042.8 882.1,1035.8 875.4,1030.9 867,1025.3 856.1,1019 844.3,1013 829.1,1006.5 814,1001.2 798.8,996.9 783.7,993.6 768.5,991.1 753.4,989.5 738.2,988.7 730.7,988.7 715.5,989.2 700.4,990.6 685.2,992.8 670.1,996.1 654.9,1000.3 639.8,1005.6 624.6,1012.1 617,1015.8 609.5,1019.8 601.9,1024.2 594.3,1029 583.1,1036.8 575.5,1042.8 568.4,1048.8 561.9,1054.7 555.9,1060.7 545,1072.6 535.7,1084.6 527.7,1096.5 520.8,1108.4 515.1,1120.3 512.6,1126.3 508.4,1138.2 505.2,1150.1 502.9,1162.1 501.6,1174 501.2,1185.9 501.4,1191.9 502.4,1203.8 504.4,1215.7 507.5,1227.7 511.7,1239.6 516.9,1251.5 523.5,1263.5 527.3,1269.4 531.4,1275.4 536,1281.3 541,1287.3 548.9,1295.8 558.9,1305.2M1325.5,1257.5 1336.6,1257.8 1351.8,1257.4 1366.9,1256.1 1374.5,1255.2 1382.1,1254 1397.2,1250.9 1404.8,1249 1419.9,1244.4 1432.9,1239.6 1442.7,1235.4 1450.2,1231.8 1457.9,1227.7 1467.9,1221.7 1476.8,1215.7 1488.1,1207.1 1495.7,1200.5 1503.3,1193.1 1509.7,1185.9 1514.6,1180 1519,1174 1523,1168 1526.6,1162.1 1529.9,1156.1 1532.7,1150.1 1537.5,1138.2 1539.4,1132.3 1542.4,1120.3 1543.4,1114.4 1544.2,1108.4 1544.9,1096.5 1544.5,1084.6 1543.9,1078.6 1543,1072.6 1540.4,1060.7 1536.7,1048.8 1534.3,1042.8 1528.8,1030.9 1525.5,1024.9 1522,1019 1513.8,1007 1509.1,1001.1 1498.5,989.1 1492.6,983.2 1486.1,977.2 1479.1,971.2 1471.5,965.3 1463.3,959.3 1454.3,953.4 1444.6,947.4 1433.9,941.4 1422.1,935.5 1408.9,929.5 1397.2,924.8 1389.6,921.9 1374.5,916.9 1359.3,912.7 1344.2,909.2 1336.6,907.7 1321.5,905.4 1306.3,903.9 1298.7,903.4 1283.6,903.2 1276,903.5 1260.9,904.8 1253.3,905.8 1238.2,908.6 1230.6,910.5 1215.4,915.2 1207.9,918 1195.3,923.5 1185.1,928.7 1177.6,933.1 1165.2,941.4 1157.4,947.4 1150.4,953.4 1144.1,959.3 1138.3,965.3 1133.1,971.2 1128.4,977.2 1124.2,983.2 1120.3,989.1 1113.7,1001.1 1111,1007 1108.6,1013 1106.5,1019 1104.7,1024.9 1103.2,1030.9 1101.2,1042.8 1100.1,1054.7 1100,1060.7 1100.6,1072.6 1101.2,1078.6 1103.2,1090.5 1106.1,1102.4 1109.4,1112.5 1112.3,1120.3 1117.7,1132.3 1124.5,1144.8 1131.7,1156.1 1136,1162.1 1140.5,1168 1147.3,1176.1 1156.5,1185.9 1162.4,1191.7 1170,1198.4 1177.6,1204.6 1185.1,1210.3 1192.7,1215.5 1200.3,1220.3 1207.9,1224.7 1215.4,1228.8 1230.6,1235.9 1245.7,1242 1253.3,1244.5 1268.4,1249 1283.6,1252.5 1291.2,1253.9 1306.3,1256 1313.9,1256.8 1325.5,1257.5ZM124.7,955.4 132.3,960.2 139.8,964.5 147.4,968.5 162.6,975.4 177.7,981.1 192.9,985.8 208,989.5 223.2,992.3 230.7,993.4 245.9,994.9 261,995.7 276.2,995.7 283.8,995.4 298.9,994.3 314.1,992.4 329.2,989.8 344.4,986.4 359.5,982.1 374.7,977 389.8,971 405,963.9 420.1,955.7 427.7,951.1 435.3,946.2 442,941.4 450.4,935 458,928.6 463.5,923.5 469.5,917.6 475.1,911.6 480.1,905.6 484.7,899.7 489,893.7 492.8,887.8 499.3,875.8 502,869.9 504.4,863.9 506.5,857.9 508.2,852 510.8,840 512.2,828.1 512.5,816.2 511.7,804.3 509.8,792.3 506.8,780.4 502.6,768.5 500.1,762.5 497.3,756.6 490.6,744.6 486.8,738.7 482.5,732.7 477.9,726.7 473.1,721.2 465.6,713.3 460.9,708.9 454,702.9 442.8,694.4 435.3,689.4 427.7,684.8 420.1,680.7 412.5,676.9 397.4,670.5 382.2,665.2 367.1,661 351.9,657.6 344.4,656.2 329.2,654.1 314.1,652.6 298.9,651.9 291.3,651.7 276.2,652 261,652.9 245.9,654.6 230.7,656.9 223.2,658.3 210.5,661.1 192.9,666 177.7,671.2 162.6,677.4 147.4,684.7 136.1,691 124.7,698.2M906.9,875.8 920,876.6 927.6,876.5 935.2,876.1 942.7,875.4 950.3,874.3 957.9,872.9 965.5,871.1 973,868.9 980.6,866.4 986.8,863.9 995.8,859.9 1003.3,855.9 1009.9,852 1018.5,846.1 1026.1,840.1 1032.6,834.1 1038.3,828.1 1043.3,822.2 1048.8,814.5 1051.5,810.2 1054.8,804.3 1057.6,798.3 1059.9,792.3 1061.8,786.4 1063.3,780.4 1064.3,774.4 1065,768.5 1065.3,762.5 1065.1,756.6 1064.5,750.6 1063.6,744.6 1062.2,738.7 1060.3,732.7 1058,726.7 1055.2,720.8 1051.8,714.8 1047.8,708.9 1041.2,700.7 1037.6,696.9 1033.6,693.1 1026.1,686.9 1018.5,681.8 1010.9,677.5 1001.1,673.1 995.8,671.1 988.2,668.8 980.6,667 973,665.8 965.5,665.1 957.9,664.9 950.3,665.1 942.7,665.9 935.2,667.2 927.6,668.9 920,671.2 912.4,674 904.9,677.3 897.3,681.1 889.7,685.5 882.1,690.3 874.6,695.6 867,701.3 859.4,707.5 851.9,714 838.5,726.7 832.7,732.7 827.4,738.7 822.6,744.6 818.2,750.6 814.3,756.6 810.9,762.5 808.1,768.5 805.9,774.4 804.1,780.4 803,786.4 802.5,792.3 802.6,798.3 803.3,804.3 804.6,810.2 806.7,816.2 809.4,822.2 812.9,828.1 817.2,834.1 822.5,840 829.1,846.2 836.8,852 844.3,856.8 851.9,860.9 859.4,864.3 867,867.3 874.6,869.7 882.1,871.8 889.7,873.5 897.3,874.7 906.9,875.8ZM726.4,756.6 730.7,757 738.2,757.2 745.8,756.9 753.4,756.1 761,754.8 768.5,753 776.1,750.6 783.7,747.8 791.3,744.4 798.8,740.6 806.4,736.2 814,731.3 821.6,726 829.1,720.2 842.6,708.9 855.4,696.9 861.2,691 871.6,679 876,673.1 880.1,667.1 883.5,661.1 886.5,655.2 888.8,649.2 890.6,643.3 891.9,637.3 892.5,631.3 892.5,625.4 891.9,619.4 890.6,613.4 888.7,607.5 886,601.5 882.1,595 878.3,589.6 873,583.6 866.6,577.7 859.4,572.1 849.1,565.7 844.3,563.2 836.7,559.7 829.1,556.8 821.6,554.4 814,552.4 806.4,550.8 798.8,549.6 791.3,548.8 783.7,548.3 776.1,548.1 768.5,548.2 761,548.7 753.4,549.5 745.8,550.7 738.2,552.2 730.7,554 723.1,556.3 715.5,558.9 707.9,561.9 700.4,565.5 692.8,569.5 685.2,574 679.9,577.7 670.1,585.3 665.2,589.6 659.3,595.5 654.1,601.5 649.5,607.5 645.6,613.4 642.2,619.4 639.4,625.4 637,631.3 635,637.3 633.6,643.3 632.6,649.2 632,655.2 631.8,661.1 632.1,667.1 632.8,673.1 633.9,679 635.4,685 637.4,691 639.9,696.9 642.8,702.9 646.4,708.9 650.5,714.8 655.4,720.8 661,726.7 667.8,732.7 677.6,739.9 685.9,744.6 692.8,747.9 700.4,750.9 707.9,753.3 715.5,755 723.1,756.2 726.4,756.6ZM1639.6,601.5 1629,595.5 1616.8,589.6 1601.7,583.5 1586.6,578.5 1571.4,574.6 1556.3,571.6 1541.1,569.5 1526,568.1 1510.8,567.5 1495.7,567.6 1480.5,568.3 1465.4,569.7 1457.8,570.6 1442.7,573 1427.5,576 1412.4,579.6 1397.2,584 1382.1,589.3 1366.9,595.5 1354.4,601.5 1344.2,607.1 1334.2,613.4 1325.9,619.4 1318.6,625.4 1313.9,629.6 1306.4,637.3 1301.3,643.3 1298.7,646.6 1292.9,655.2 1289.4,661.1 1286.4,667.1 1283.9,673.1 1281.8,679 1280,685 1278.6,691 1277.6,696.9 1276.9,702.9 1276.6,708.9 1276.6,714.8 1276.9,720.8 1277.5,726.7 1278.5,732.7 1279.8,738.7 1281.5,744.6 1283.6,750.6 1286,756.6 1288.8,762.5 1291.2,766.9 1295.8,774.4 1300,780.4 1304.7,786.4 1310,792.3 1315.9,798.3 1321.5,803.3 1329,809.4 1338.6,816.2 1351.8,824.2 1359.3,828.2 1374.5,835.4 1389.6,841.3 1404.8,846.4 1419.9,850.7 1435.1,854.2 1450.2,857 1465.4,859.1 1473,860 1488.1,861.1 1503.3,861.6 1518.4,861.4 1533.6,860.4 1548.7,858.7 1563.9,856.2 1579,852.8 1594.2,848.3 1609.3,842.8 1616.9,839.6 1628.3,834.1 1639.6,827.7M358.5,535.9 374.7,538.5 389.8,540.1 397.4,540.6 412.5,541.1 420.1,541 435.3,540.2 442.8,539.5 458,537.3 473.1,534.2 480.7,532.3 495.9,527.6 503.4,524.7 511,521.6 518.6,518.1 530.2,512.1 540.2,506.1 548.9,500.3 556.4,494.6 564.1,488.2 570.5,482.2 576.3,476.3 581.6,470.3 586.3,464.3 590.6,458.4 594.3,452.4 597.7,446.5 600.7,440.5 603.2,434.5 605.4,428.6 607.2,422.6 608.7,416.6 609.8,410.7 610.6,404.7 611,398.7 611.2,392.8 611,386.8 610.5,380.9 608.7,368.9 607.4,363 605.8,357 601.8,345.1 599.4,339.1 593.8,327.2 587.2,315.3 583.5,309.3 579.2,302.9 571.6,292.7 565.6,285.4 560.3,279.5 548.9,267.8 541.3,260.9 533.7,254.5 526.1,248.7 518.6,243.3 511,238.3 503.4,233.7 495.9,229.4 480.7,221.9 465.6,215.6 458,212.9 450.4,210.4 435.3,206.2 420.1,202.9 405,200.6 397.4,199.7 382.2,198.7 367.1,198.5 359.5,198.7 344.4,199.9 336.8,200.8 321.6,203.3 314.1,204.9 298.9,208.9 291.3,211.3 276.2,217 268.6,220.3 261,223.9 253.5,227.9 245.9,232.4 237.6,237.7 229.4,243.7 222,249.7 215.3,255.6 208,262.9 200.4,271.6 194.3,279.5 190.3,285.4 185.3,293.7 180.3,303.3 175.5,315.3 173.5,321.2 170.5,333.1 168.6,345.1 168.1,351 167.9,363 168.8,374.9 169.7,380.9 172.3,392.8 174,398.7 176,404.7 180.9,416.6 187.1,428.6 190.7,434.5 194.7,440.5 199.1,446.5 203.8,452.4 209,458.4 214.7,464.3 220.8,470.3 227.5,476.3 234.8,482.2 242.7,488.2 251.5,494.2 261.1,500.1 271.8,506.1 283.7,512.1 291.3,515.5 298.9,518.7 314.1,524.3 321.6,526.8 336.8,531.1 344.4,533 358.5,535.9ZM1289.8,529.9 1306.3,530.3 1321.5,529.7 1336.6,528.3 1344.2,527.3 1359.3,524.6 1374.5,521.3 1386.6,518 1397.2,514.8 1412.4,509.6 1427.5,503.6 1442.7,496.7 1459,488.2 1473,479.7 1478.3,476.3 1486.7,470.3 1494.4,464.3 1501.4,458.4 1507.9,452.4 1513.9,446.5 1519.3,440.5 1524.4,434.5 1528.9,428.6 1536.9,416.6 1543.3,404.7 1546,398.7 1548.4,392.8 1550.5,386.8 1552.2,380.9 1553.7,374.9 1554.8,368.9 1555.6,363 1556.4,351 1556,339.1 1555.3,333.1 1554.4,327.2 1553.1,321.2 1551.5,315.3 1549.6,309.3 1547.3,303.3 1544.7,297.4 1541.7,291.4 1538.4,285.4 1534.6,279.5 1530.4,273.5 1525.7,267.6 1520.5,261.6 1514.7,255.6 1508.3,249.7 1503.3,245.4 1493.1,237.7 1484,231.8 1473.6,225.8 1465.4,221.6 1457.8,218.2 1446.9,213.9 1435.1,209.9 1419.9,205.9 1412.4,204.2 1404.8,202.9 1389.6,200.9 1382.1,200.2 1366.9,199.7 1351.8,200 1344.2,200.5 1329,202.2 1313.9,204.8 1306.3,206.4 1291.2,210.5 1276,215.6 1268.4,218.5 1260.9,221.8 1245.7,229.2 1238.2,233.4 1230.6,238 1223,243 1215.4,248.4 1207.9,254.2 1200.3,260.6 1192.7,267.6 1185.1,275.2 1177.6,283.6 1170,292.9 1162.5,303.3 1158.6,309.3 1151.6,321.2 1147.3,329.9 1143.2,339.1 1138.9,351 1135.6,363 1133.3,374.9 1132.6,380.9 1132,392.8 1132.2,398.7 1132.6,404.7 1133.3,410.7 1134.4,416.6 1135.7,422.6 1137.5,428.6 1139.6,434.5 1142,440.5 1144.9,446.5 1148.1,452.4 1151.8,458.4 1154.8,462.7 1160.7,470.3 1166,476.3 1171.9,482.2 1178.5,488.2 1186,494.2 1194.5,500.1 1200.3,503.7 1207.9,508 1215.4,511.8 1223,515.2 1230.6,518.1 1238.2,520.7 1245.7,522.9 1260.9,526.4 1268.4,527.8 1276,528.8 1289.8,529.9ZM707.1,112.5 700.4,120.6 692.8,131.2 686.2,142.3 680.4,154.2 675.9,166.2 672.5,178.1 670.2,190 668.8,202 668.4,213.9 668.9,225.8 669.5,231.8 671.2,243.7 673.9,255.6 677.4,267.6 681.8,279.5 687.1,291.4 693.5,303.3 697.1,309.3 705.3,321.2 709.9,327.2 715,333.1 723.1,341.6 730.7,348.6 741,357 749.5,363 761,369.9 770.5,374.9 776.1,377.5 783.7,380.7 791.3,383.6 798.8,386 814,390.1 821.6,391.7 836.7,394.2 851.9,395.6 867,396 882.1,395.5 897.3,393.9 912.4,391.3 920,389.6 935.2,385.2 947,380.9 957.9,376.1 965.5,372.2 971.3,368.9 980.6,363.1 989,357 996.4,351 1003,345.1 1008.9,339.1 1014.4,333.1 1019.3,327.2 1023.8,321.2 1031.8,309.3 1038.5,297.4 1044.1,285.4 1048.7,273.5 1052.4,261.6 1055.1,249.7 1057.1,237.7 1058.2,225.8 1058.4,213.9 1057.7,202 1056.1,190 1053.5,178.1 1049.9,166.2 1045.2,154.2 1039.2,142.3 1033.6,133.1 1026.1,122.4 1017.7,112.5"/>
<path stroke="#01b8ca" d="M827.7,1305.2 836.7,1300.6 844.3,1296.3 851.9,1291.5 859.4,1286.2 865.8,1281.3 874.6,1273.9 885.2,1263.5 889.7,1258.4 895.4,1251.5 899.8,1245.6 903.8,1239.6 910.8,1227.7 916.5,1215.7 920.9,1203.8 924.3,1191.9 925.6,1185.9 927.4,1174 928.2,1162.1 928.2,1156.1 927.5,1144.2 925.8,1132.3 923.1,1120.3 919.2,1108.4 916.8,1102.4 914,1096.5 910.9,1090.5 907.5,1084.6 903.6,1078.6 899.3,1072.6 894.5,1066.7 889.7,1061.2 882.1,1053.6 876.8,1048.8 869.4,1042.8 859.4,1035.7 851.8,1030.9 844.3,1026.6 836.7,1022.8 829.1,1019.3 821.6,1016.2 806.4,1010.9 791.3,1006.8 776.1,1003.7 761,1001.6 745.8,1000.4 738.2,1000.2 723.1,1000.5 707.9,1001.7 692.8,1003.9 677.6,1007.1 662.5,1011.4 647.3,1017 639.8,1020.2 632.2,1023.8 624.6,1027.8 617,1032.2 609.7,1036.8 601.9,1042.3 593.6,1048.8 586.7,1054.7 580.3,1060.7 574.5,1066.7 569.2,1072.6 559.8,1084.6 552,1096.5 545.6,1108.4 540.4,1120.3 536.3,1132.3 534.7,1138.2 532.4,1150.1 531,1162.1 530.8,1174 531.6,1185.9 532.5,1191.9 535,1203.8 538.7,1215.7 543.7,1227.7 546.7,1233.6 550,1239.6 556.4,1249.4 564,1259.3 573.3,1269.4 579.2,1275.1 586.4,1281.3 594.3,1287.5 601.9,1292.8 609.5,1297.5 617,1301.8 623.7,1305.2M1272.1,1221.7 1283.6,1224 1291.2,1225.2 1306.3,1226.9 1313.9,1227.3 1329,1227.5 1344.2,1226.8 1359.3,1225.1 1366.9,1223.8 1382.1,1220.6 1389.6,1218.5 1397.2,1216.2 1404.8,1213.5 1412.4,1210.6 1419.9,1207.2 1427.5,1203.5 1435.1,1199.4 1442.7,1194.7 1450.2,1189.6 1457.8,1183.8 1462.4,1180 1469,1174 1474.8,1168 1480,1162.1 1484.7,1156.1 1489,1150.1 1492.7,1144.2 1496.1,1138.2 1499,1132.3 1501.6,1126.3 1503.8,1120.3 1505.7,1114.4 1507.2,1108.4 1508.4,1102.4 1509.3,1096.5 1509.9,1090.5 1510.1,1084.6 1510.1,1078.6 1509.8,1072.6 1509.1,1066.7 1508.2,1060.7 1506.9,1054.7 1505.4,1048.8 1501.3,1036.8 1498.7,1030.9 1495.8,1024.9 1492.6,1019 1488.9,1013 1484.9,1007 1480.4,1001.1 1475.6,995.1 1470.3,989.1 1464.4,983.2 1458,977.2 1451,971.2 1443.3,965.3 1434.8,959.3 1427.5,954.6 1415.2,947.4 1404.8,942 1397.2,938.5 1382.1,932.2 1366.9,926.9 1355.2,923.5 1344.2,920.8 1336.6,919.2 1321.5,916.7 1306.3,915.2 1291.2,914.6 1283.6,914.6 1268.4,915.6 1260.9,916.4 1245.7,919 1238.2,920.8 1230.6,922.9 1223,925.3 1211.9,929.5 1200.3,934.8 1192.7,938.8 1185.1,943.3 1177.6,948.3 1170.7,953.4 1163.5,959.3 1157.1,965.3 1151.3,971.2 1146.2,977.2 1141.6,983.2 1137.4,989.1 1133.7,995.1 1130.5,1001.1 1127.6,1007 1125.1,1013 1122.9,1019 1121.1,1024.9 1119.6,1030.9 1118.5,1036.8 1117.6,1042.8 1116.8,1054.7 1116.9,1060.7 1117.8,1072.6 1119.8,1084.6 1121.2,1090.5 1124.5,1101.2 1127.2,1108.4 1132.1,1119.2 1135.9,1126.3 1139.4,1132.3 1143.3,1138.2 1147.5,1144.2 1154.8,1153.4 1162.4,1161.7 1170,1169.2 1177.6,1175.9 1185.1,1182 1192.7,1187.5 1200.3,1192.5 1207.9,1197 1215.4,1201.2 1223,1204.9 1230.6,1208.4 1238.2,1211.5 1253.3,1216.8 1260.9,1219 1272.1,1221.7ZM124.7,908.1 133.9,917.6 140.6,923.5 148.1,929.5 155,934.5 165.8,941.4 177.7,947.9 185.3,951.6 192.9,954.9 208,960.4 223.2,964.8 238.3,968.2 253.5,970.6 268.6,972.1 283.8,972.6 298.9,972.4 306.5,971.9 321.6,970.3 336.8,967.9 351.9,964.5 367.1,960.3 382.2,955 397.4,948.5 405,944.9 412.5,940.8 420.1,936.5 427.7,931.7 435.3,926.4 446.4,917.6 450.4,914.1 458,906.9 465.6,898.8 469.7,893.7 474.2,887.8 478.3,881.8 481.9,875.8 485.1,869.9 487.9,863.9 490.4,857.9 492.5,852 494.2,846 495.6,840 496.7,834.1 497.5,828.1 498,822.2 498.1,816.2 498,810.2 497.5,804.3 496.7,798.3 495.6,792.3 494.3,786.4 492.6,780.4 490.6,774.4 488.2,768.5 485.5,762.5 482.4,756.6 479,750.6 475.1,744.6 470.8,738.7 466.1,732.7 458,723.8 448.3,714.8 442.8,710.3 435.3,704.7 427.7,699.7 423.1,696.9 412.5,691.1 405,687.5 397.4,684.3 389.8,681.4 374.7,676.5 359.5,672.7 344.4,669.8 329.2,667.9 314.1,666.8 298.9,666.5 291.3,666.7 276.2,667.6 261,669.4 245.9,671.9 230.7,675.4 215.6,679.8 200.4,685.2 185.3,691.9 177.7,695.7 170.1,699.9 165.1,702.9 156.1,708.9 147.4,715.3 140.7,720.8 134.1,726.7 128.2,732.7 124.7,736.6M882.9,857.9 889.7,859.7 897.3,861.1 904.9,862.2 912.4,862.8 920,863.1 927.6,863 935.2,862.5 942.7,861.7 950.3,860.4 957.9,858.8 965.5,856.7 973,854.2 978.8,852 988.2,847.7 995.8,843.6 1001.6,840 1009.9,834.1 1017,828.1 1023,822.2 1026.1,818.7 1032.7,810.2 1036.5,804.3 1039.7,798.3 1042.4,792.3 1044.6,786.4 1046.3,780.4 1047.5,774.4 1048.2,768.5 1048.5,762.5 1048.3,756.6 1047.7,750.6 1046.6,744.6 1045,738.7 1042.9,732.7 1040.2,726.7 1036.9,720.8 1032.9,714.8 1028.1,708.9 1026.1,706.6 1022.4,702.9 1018.5,699.4 1010.9,693.6 1006.8,691 1003.3,688.9 995.8,685.1 988.2,682 980.6,679.5 973,677.7 965.5,676.4 957.9,675.7 950.3,675.5 942.7,675.8 935.2,676.6 927.6,677.9 920,679.8 912.4,682.1 904.9,685.1 897.3,688.4 889.7,692.4 882.1,696.9 874.6,701.9 867,707.5 859.4,713.7 851.5,720.8 845.5,726.7 840,732.7 835,738.7 830.6,744.6 826.6,750.6 823.3,756.6 820.5,762.5 818.2,768.5 816.5,774.4 815.5,780.4 815,786.4 815.2,792.3 816,798.3 817.5,804.3 819.7,810.2 821.6,814 822.7,816.2 826.6,822.2 831.4,828.1 837.3,834.1 844.6,840 851.9,844.9 859.4,849.1 867,852.5 874.6,855.4 882.9,857.9ZM724.7,744.6 730.7,745.6 738.2,746.4 745.8,746.5 753.4,746.2 761,745.3 768.5,744 776.1,742.1 783.7,739.7 791.3,736.8 798.8,733.3 806.4,729.3 814,724.7 821.6,719.6 829.1,714 836.7,707.8 844.3,700.9 854,691 859.1,685 863.7,679 867.7,673.1 871.3,667.1 874.1,661.1 876.6,655.2 878.3,649.2 879.5,643.3 880.1,637.3 880,631.3 879.3,625.4 877.9,619.4 875.7,613.4 872.9,607.5 869.1,601.5 864.4,595.5 858.5,589.6 851.9,584.1 842.1,577.7 836.7,574.7 829.1,571.3 821.6,568.4 814,566.1 806.4,564.2 798.8,562.8 791.3,561.8 783.7,561.2 776.1,561 768.5,561.2 761,561.7 753.4,562.6 745.8,563.9 738.2,565.6 730.7,567.7 723.1,570.2 715.5,573.2 706.3,577.7 695.9,583.6 692.8,585.7 685.2,591.3 677.6,597.9 673.9,601.5 668.6,607.5 662.5,615.8 660.2,619.4 656.9,625.4 654.2,631.3 652,637.3 650.4,643.3 649.2,649.2 648.6,655.2 648.4,661.1 648.6,667.1 649.4,673.1 650.6,679 652.3,685 654.6,691 657.4,696.9 660.9,702.9 665,708.9 670,714.8 676,720.8 683.2,726.7 692.3,732.7 700.4,736.9 707.9,740.1 715.5,742.5 724.7,744.6ZM1639.6,636.4 1634.4,631.3 1627.6,625.4 1619.8,619.4 1609.3,612.4 1600.7,607.5 1594.2,604.1 1586.6,600.6 1579,597.5 1571.4,594.7 1556.3,590 1541.1,586.5 1526,583.9 1510.8,582.3 1495.7,581.5 1480.5,581.5 1465.4,582.3 1450.2,583.9 1435.1,586.2 1419.9,589.4 1404.8,593.4 1389.6,598.5 1374.5,604.6 1366.9,608.2 1357.1,613.4 1351.8,616.6 1344.2,621.5 1338.8,625.4 1331.4,631.3 1324.9,637.3 1319.2,643.3 1314.2,649.2 1309.7,655.2 1305.9,661.1 1302.6,667.1 1299.8,673.1 1297.4,679 1295.5,685 1293.9,691 1292.8,696.9 1292,702.9 1291.6,708.9 1291.6,714.8 1292,720.8 1292.7,726.7 1293.7,732.7 1295.2,738.7 1297.1,744.6 1299.3,750.6 1302,756.6 1305.2,762.5 1308.8,768.5 1312.9,774.4 1317.6,780.4 1321.5,784.7 1329,792.3 1336.6,798.9 1344.2,804.7 1351.8,809.8 1362.7,816.2 1374.5,822.2 1382.1,825.5 1397.2,831.3 1412.4,836.1 1427.5,839.8 1442.7,842.7 1457.8,844.8 1473,846.1 1488.1,846.6 1503.3,846.2 1518.4,845.1 1533.6,843 1548.7,840 1563.9,835.9 1571.4,833.5 1585.3,828.1 1597.9,822.2 1608.6,816.2 1617.7,810.2 1625.8,804.3 1632,799 1639.6,791.8M370.2,524 382.2,526 389.8,526.9 405,528.1 420.1,528.4 427.7,528.2 442.8,527.1 458,525 465.6,523.5 480.7,519.8 495.9,514.8 503.4,511.8 511,508.5 518.6,504.7 526.1,500.6 533.7,495.9 541.3,490.7 552,482.2 558.6,476.3 564.4,470.3 569.7,464.3 574.3,458.4 578.5,452.4 582.1,446.5 585.3,440.5 588.1,434.5 590.5,428.6 592.4,422.6 594,416.6 595.2,410.7 596,404.7 596.5,398.7 596.7,392.8 596.5,386.8 596,380.9 595.2,374.9 594,368.9 592.6,363 590.8,357 586.7,346 583.7,339.1 579.2,330.4 573.7,321.2 565.3,309.3 560.6,303.3 555.4,297.4 548.9,290.4 543.7,285.4 533.7,276.6 526.1,270.6 518.6,265.2 511,260.3 503.4,255.8 495.9,251.6 488.3,247.8 473.1,241.3 458,236 450.4,233.8 435.3,230.2 427.7,228.8 412.5,226.7 397.4,225.6 389.8,225.4 374.7,225.7 359.5,227 351.9,228.1 336.8,230.9 321.6,234.9 314.1,237.4 306.5,240.2 298.9,243.3 291.3,246.8 283.8,250.7 275.2,255.6 266.1,261.6 258.1,267.6 251.1,273.5 244.7,279.5 239.1,285.4 234,291.4 229.4,297.4 225.3,303.3 221.7,309.3 218.5,315.3 215.7,321.2 213.3,327.2 211.2,333.1 209.5,339.1 207,351 206.2,357 205.8,363 205.6,368.9 205.8,374.9 206.3,380.9 207.1,386.8 209.6,398.7 211.3,404.7 213.4,410.7 218.6,422.6 221.7,428.6 225.2,434.5 229.1,440.5 233.4,446.5 238.3,452.4 243.5,458.4 249.3,464.3 255.7,470.3 262.7,476.3 270.5,482.2 279.1,488.2 288.8,494.2 298.9,499.7 314.1,506.9 326.8,512.1 336.8,515.5 351.9,519.9 359.5,521.8 370.2,524ZM1282.8,518 1291.2,518.8 1298.7,519.2 1313.9,519.2 1329,518.2 1344.2,516.3 1359.3,513.5 1374.5,509.8 1389.6,505.2 1404.8,499.7 1417.6,494.2 1429.8,488.2 1442.7,480.9 1450.1,476.3 1458.7,470.3 1466.5,464.3 1473.6,458.4 1480,452.4 1485.9,446.5 1491.2,440.5 1496,434.5 1500.3,428.6 1504.2,422.6 1507.7,416.6 1513.5,404.7 1515.9,398.7 1517.9,392.8 1519.5,386.8 1520.8,380.9 1521.8,374.9 1522.4,368.9 1522.8,363 1522.7,357 1522.4,351 1521.7,345.1 1520.7,339.1 1519.3,333.1 1517.6,327.2 1515.5,321.2 1513,315.3 1510.1,309.3 1506.8,303.3 1503,297.4 1498.8,291.4 1495.7,287.5 1488.1,279 1480.5,271.7 1475.6,267.6 1467.9,261.6 1459,255.6 1450.2,250.4 1442.7,246.5 1435.1,243 1427.5,239.9 1419.9,237.2 1412.4,234.8 1397.2,231 1382.1,228.3 1374.5,227.4 1359.3,226.3 1351.8,226.1 1336.6,226.6 1321.5,228 1313.9,229.1 1306.3,230.5 1291.2,234.1 1276,238.7 1268.4,241.5 1253.3,248 1245.7,251.8 1238.2,256 1230.6,260.6 1223,265.6 1215.4,271.1 1205.2,279.5 1200.3,283.9 1192.7,291.4 1185.1,299.7 1177.5,309.3 1169.3,321.2 1165.8,327.2 1159.7,339.1 1157.1,345.1 1152.8,357 1151.1,363 1148.7,374.9 1147.9,380.9 1147.5,386.8 1147.3,392.8 1147.5,398.7 1148,404.7 1148.8,410.7 1150,416.6 1151.5,422.6 1153.4,428.6 1155.8,434.5 1158.5,440.5 1161.7,446.5 1165.3,452.4 1169.5,458.4 1174.2,464.3 1179.5,470.3 1185.6,476.3 1192.7,482.4 1200.3,488.1 1207.9,493.1 1215.4,497.5 1223,501.4 1233.8,506.1 1245.7,510.4 1253.3,512.6 1260.9,514.4 1268.4,516 1282.8,518ZM750.2,112.5 745.8,115.6 738.2,121.7 730.7,128.5 723.1,136.4 718,142.3 713.5,148.3 707.9,156.6 702.5,166.2 699.7,172.1 697.2,178.1 695,184.1 693.2,190 690.3,202 688.7,213.9 688.1,225.8 688.5,237.7 690,249.7 692.5,261.6 696,273.5 700.7,285.4 703.4,291.4 706.5,297.4 709.9,303.3 713.7,309.3 717.9,315.3 722.5,321.2 727.5,327.2 733.2,333.1 738.2,338 745.8,344.6 754.3,351 763.4,357 768.5,360 776.1,364.1 786.7,368.9 798.8,373.6 806.4,376 814,378.1 821.6,379.9 836.7,382.5 851.9,384 867,384.5 882.1,383.8 897.3,382 912.4,379 920,377.1 927.6,374.8 935.2,372.1 942.7,369.1 950.3,365.6 955.5,363 965.9,357 974.7,351 982.5,345.1 988.2,340.2 995.8,332.9 1001,327.2 1006,321.2 1010.9,314.6 1014.5,309.3 1018.1,303.3 1021.5,297.4 1024.4,291.4 1029.5,279.5 1033.3,267.6 1036.1,255.6 1037.9,243.7 1038.6,231.8 1038.4,219.8 1037,207.9 1034.6,196 1031,184.1 1028.7,178.1 1026.1,172.1 1023.2,166.2 1018.5,158 1010.9,146.9 1003.3,137.7 995.8,129.7 988.2,122.8 980.6,116.7 974.7,112.5"/>
<path stroke="#2cc4a7" d="M712.8,1299.2 723.1,1299.8 730.7,1300 745.8,1299.4 761,1297.8 776.1,1295 791.3,1291.1 798.8,1288.7 806.4,1286 814,1282.9 821.6,1279.4 829.1,1275.5 839.4,1269.4 844.3,1266.3 851.9,1260.8 859.4,1254.7 863,1251.5 869.3,1245.6 874.9,1239.6 879.9,1233.6 884.5,1227.7 888.6,1221.7 892.2,1215.7 895.5,1209.8 898.4,1203.8 900.9,1197.9 903.1,1191.9 906.6,1180 908.8,1168 909.5,1162.1 910,1150.1 909.3,1138.2 908.5,1132.3 907.4,1126.3 906,1120.3 904.2,1114.4 902.2,1108.4 899.7,1102.4 896.9,1096.5 893.7,1090.5 890.1,1084.6 886,1078.6 881.4,1072.6 876.2,1066.7 870.4,1060.7 867,1057.5 856.5,1048.8 848,1042.8 836.7,1035.9 829.1,1032 821.6,1028.4 814,1025.3 806.4,1022.5 798.8,1020.1 791.3,1018 783.7,1016.2 768.5,1013.4 753.4,1011.7 745.8,1011.3 730.7,1011.2 723.1,1011.6 708.7,1013 700.4,1014.2 692.8,1015.7 677.6,1019.5 670.1,1021.8 661.6,1024.9 654.9,1027.6 647.3,1031 636.2,1036.8 626.4,1042.8 617.8,1048.8 610.1,1054.7 601.9,1062 597.1,1066.7 591.5,1072.6 586.5,1078.6 582,1084.6 577.9,1090.5 574.2,1096.5 568,1108.4 565.5,1114.4 563.2,1120.3 561.3,1126.3 559.7,1132.3 558.5,1138.2 557.5,1144.2 556.9,1150.1 556.5,1156.1 556.5,1162.1 556.8,1168 557.3,1174 558.2,1180 559.4,1185.9 560.9,1191.9 562.8,1197.9 565,1203.8 567.6,1209.8 571.6,1217.5 577.8,1227.7 582.1,1233.6 586.7,1239.4 592.3,1245.6 598.3,1251.5 601.9,1254.8 609.5,1261 617,1266.6 624.6,1271.5 632.2,1275.9 639.8,1279.8 647.3,1283.2 654.9,1286.3 662.5,1289.1 670.1,1291.5 677.6,1293.5 692.8,1296.8 700.4,1297.9 712.8,1299.2ZM1273.3,1197.9 1283.6,1199.7 1291.2,1200.7 1306.3,1201.9 1321.5,1202 1336.6,1201 1351.8,1198.9 1366.9,1195.7 1374.5,1193.6 1382.1,1191.2 1389.6,1188.5 1397.2,1185.3 1404.8,1181.7 1412.4,1177.7 1419.9,1173.2 1427.5,1168 1435.3,1162.1 1442.1,1156.1 1448.1,1150.1 1453.5,1144.2 1458.2,1138.2 1462.4,1132.3 1466.1,1126.3 1469.3,1120.3 1472.1,1114.4 1474.4,1108.4 1476.4,1102.4 1478,1096.5 1479.3,1090.5 1480.1,1084.6 1480.7,1078.6 1480.9,1072.6 1480.7,1066.7 1480.2,1060.7 1479.4,1054.7 1478.3,1048.8 1476.8,1042.8 1474.9,1036.8 1472.6,1030.9 1470,1024.9 1467,1019 1463.6,1013 1459.8,1007 1455.5,1001.1 1450.7,995.1 1445.4,989.1 1439.5,983.2 1435.1,979.1 1425.7,971.2 1417.7,965.3 1412.4,961.7 1398.4,953.4 1389.6,948.8 1382.1,945.3 1366.9,939.2 1351.8,934.2 1336.6,930.4 1321.5,927.7 1313.9,926.7 1298.7,925.6 1283.6,925.5 1276,925.9 1260.9,927.5 1253.3,928.8 1245.7,930.4 1238.2,932.4 1230.6,934.7 1223,937.4 1215.4,940.5 1207.9,944 1200.3,948.1 1192.7,952.6 1185.1,957.8 1177.6,963.7 1170,970.5 1163.5,977.2 1158.4,983.2 1153.9,989.1 1149.9,995.1 1146.4,1001.1 1143.3,1007 1140.7,1013 1138.5,1019 1136.6,1024.9 1135.2,1030.9 1134,1036.8 1133.3,1042.8 1132.8,1048.8 1132.7,1054.7 1132.9,1060.7 1133.4,1066.7 1134.2,1072.6 1135.4,1078.6 1136.9,1084.6 1139.7,1093.3 1143.3,1102.4 1146.2,1108.4 1149.4,1114.4 1153,1120.3 1157,1126.3 1161.4,1132.3 1166.4,1138.2 1171.8,1144.2 1177.6,1149.9 1184.5,1156.1 1192.7,1162.6 1200.3,1168 1207.9,1172.8 1215.4,1177.2 1223,1181.1 1230.6,1184.6 1238.2,1187.7 1245.7,1190.5 1253.3,1192.9 1260.9,1195.1 1273.3,1197.9ZM251.4,947.4 261,949.3 276.2,951.3 291.3,952.4 306.5,952.4 321.6,951.5 336.8,949.6 351.9,946.6 367.1,942.7 382.2,937.5 389.8,934.5 397.4,931.1 405,927.3 411.7,923.5 420.1,918.5 429.9,911.6 435.3,907.5 442.8,901 450.4,893.6 458,885 464.8,875.8 468.5,869.9 471.9,863.9 474.8,857.9 477.3,852 479.4,846 481.1,840 482.4,834.1 483.4,828.1 484.1,822.2 484.4,816.2 484.3,810.2 483.9,804.3 483.2,798.3 482.1,792.3 480.7,786.4 478.9,780.4 476.8,774.4 473.1,766.2 468,756.6 464.2,750.6 459.9,744.6 455,738.7 449.6,732.7 443.4,726.7 436.5,720.8 427.7,714.2 420.1,709.2 412.5,704.8 405,700.9 397.4,697.4 389.8,694.3 382.2,691.6 374.7,689.3 359.5,685.4 351.9,683.9 336.8,681.7 329.2,681 314.1,680.3 298.9,680.5 291.3,681 276.2,682.6 268.6,683.8 253.5,686.9 238.7,691 230.7,693.6 223.2,696.5 215.6,699.6 208,703.2 197.4,708.9 187.7,714.8 179.2,720.8 171.7,726.7 165,732.7 159.1,738.7 153.8,744.6 149,750.6 144.8,756.6 141.1,762.5 137.7,768.5 134.9,774.4 132.4,780.4 130.3,786.4 128.6,792.3 127.2,798.3 126.2,804.3 125.6,810.2 125.3,816.2 125.3,822.2 125.6,828.1 126.3,834.1 127.4,840 128.8,846 130.6,852 132.8,857.9 135.3,863.9 138.3,869.9 141.7,875.8 145.6,881.8 149.9,887.8 154.9,893.7 160.4,899.7 166.6,905.6 173.6,911.6 181.6,917.6 190.7,923.5 200.4,929.1 208,932.8 215.6,936.2 223.2,939.2 230.7,941.8 238.3,944.1 251.4,947.4ZM886.4,846 897.3,848.6 904.9,849.7 912.4,850.5 920,850.7 927.6,850.6 935.2,850 942.7,849 950.3,847.6 957.9,845.7 965.5,843.3 973,840.4 980.6,836.9 988.2,832.7 995.8,827.7 1002.8,822.2 1010.9,814.4 1014.6,810.2 1019.1,804.3 1022.9,798.3 1026.1,792.2 1028.5,786.4 1030.5,780.4 1031.9,774.4 1032.7,768.5 1033.1,762.5 1032.9,756.6 1032.2,750.6 1030.9,744.6 1029.1,738.7 1026.7,732.7 1023.6,726.7 1019.7,720.8 1014.9,714.8 1009.1,708.9 1001.8,702.9 995.8,698.8 992.5,696.9 988.2,694.6 980.6,691.3 973,688.8 965.5,686.9 957.9,685.6 950.3,684.9 942.7,684.7 935.2,685.1 927.6,686 920,687.4 912.4,689.4 904.9,692 897.3,695.1 889.7,698.8 882.1,703.1 874.6,708 865.5,714.8 858.6,720.8 852.4,726.7 847,732.7 842.2,738.7 838,744.6 834.4,750.6 831.5,756.6 829.2,762.5 827.5,768.5 826.4,774.4 825.9,780.4 826.1,786.4 827,792.3 828.6,798.3 830.9,804.3 834.2,810.2 836.7,814 838.3,816.2 843.6,822.2 850.3,828.1 859.4,834.5 867,838.7 874.6,842.1 882.1,844.8 886.4,846ZM721.3,732.7 730.7,735.2 738.2,736.5 745.8,737.1 753.4,737.3 761,736.9 768.5,735.9 776.1,734.4 783.7,732.4 791.3,729.8 798.8,726.6 806.4,722.9 814,718.6 821.6,713.6 829.1,707.9 835,702.9 841.4,696.9 847,691 852,685 856.3,679 860,673.1 863.1,667.1 865.6,661.1 867.4,655.2 868.7,649.2 869.3,643.3 869.2,637.3 868.4,631.3 866.9,625.4 864.7,619.4 861.6,613.4 857.6,607.5 851.9,600.9 844.3,594.2 836.7,589 829.1,584.8 826.5,583.6 821.6,581.4 814,578.7 806.4,576.6 798.8,575 791.3,573.8 783.7,573.2 776.1,572.9 768.5,573.1 761,573.7 753.4,574.7 745.8,576.2 738.2,578.1 730.7,580.5 723.1,583.5 715.5,587 710.8,589.6 701.3,595.5 693.6,601.5 687.2,607.5 681.8,613.4 677.2,619.4 673.4,625.4 670.3,631.3 667.8,637.3 665.9,643.3 664.6,649.2 663.8,655.2 663.6,661.1 663.8,667.1 664.7,673.1 666,679 668,685 670.1,689.7 673.9,696.9 677.9,702.9 682.9,708.9 685.2,711.2 689,714.8 692.8,717.9 700.4,723.2 707.9,727.4 715.5,730.7 721.3,732.7ZM1639.6,694.4 1637.1,685 1634.9,679 1632.2,673.1 1629.1,667.1 1625.5,661.1 1621.3,655.2 1616.5,649.2 1611,643.3 1604.7,637.3 1597.5,631.3 1594.2,628.8 1589.3,625.4 1579.6,619.4 1568.2,613.4 1554.1,607.5 1541.1,603.1 1526,599.3 1510.8,596.5 1495.7,594.9 1480.5,594.2 1465.4,594.4 1450.2,595.6 1435.1,597.7 1419.9,600.7 1404.8,604.9 1389.6,610.2 1382.1,613.3 1374.5,616.9 1366.9,620.9 1359.5,625.4 1350.7,631.3 1343.2,637.3 1336.6,643.3 1330.9,649.2 1326,655.2 1321.7,661.1 1318,667.1 1314.9,673.1 1312.2,679 1310.1,685 1308.4,691 1307.1,696.9 1306.3,702.9 1305.8,708.9 1305.8,714.8 1306.2,720.8 1306.9,726.7 1308.1,732.7 1309.7,738.7 1311.8,744.6 1313.9,749.6 1317.3,756.6 1320.8,762.5 1324.9,768.5 1329.6,774.4 1335,780.4 1341.1,786.4 1351.8,795.1 1359.3,800.4 1365.6,804.3 1374.5,809.2 1382.1,812.9 1389.6,816.1 1397.2,819.1 1404.8,821.7 1419.9,825.9 1435.1,829.1 1450.2,831.4 1465.4,832.6 1480.5,832.9 1495.7,832.3 1510.8,830.6 1526,827.9 1541.1,824.1 1548.7,821.7 1556.3,818.9 1563.9,815.8 1571.4,812.2 1579,808.2 1585.6,804.3 1594.2,798.5 1602,792.3 1609.3,785.7 1614.4,780.4 1619.5,774.4 1623.9,768.5 1627.8,762.5 1631.1,756.6 1633.9,750.6 1636.3,744.6 1638.2,738.7 1639.6,733M377.5,512.1 389.8,514.2 405,515.8 420.1,516.4 435.3,516 450.4,514.5 465.6,511.8 473.1,510 480.7,507.9 488.3,505.5 495.9,502.7 503.4,499.4 511,495.8 518.6,491.7 524.3,488.2 533.7,481.8 540.8,476.3 547.4,470.3 553.4,464.3 556.4,460.9 563.1,452.4 567.2,446.5 570.7,440.5 573.7,434.5 576.2,428.6 578.3,422.6 580,416.6 581.3,410.7 582.2,404.7 582.7,398.7 582.9,392.8 582.7,386.8 582.1,380.9 581.2,374.9 579.9,368.9 578.3,363 576.3,357 573.9,351 571.2,345.1 568.2,339.1 564.7,333.1 560.8,327.2 556.5,321.2 548.9,311.9 540.8,303.3 533.7,296.8 527.3,291.4 518.6,284.8 511,279.8 503.4,275.2 495.9,271.1 488.3,267.4 480.7,264 465.6,258.4 450.4,254.2 435.3,251 420.1,249.1 412.5,248.5 397.4,248.1 389.8,248.3 374.7,249.6 359.5,252 351.9,253.7 344.4,255.7 336.8,258 329.2,260.7 321.6,263.7 313.3,267.6 306.5,271.1 298.9,275.5 291.3,280.6 284.8,285.4 277.7,291.4 271.4,297.4 265.9,303.3 261,309.3 256.7,315.3 252.9,321.2 249.6,327.2 246.7,333.1 244.3,339.1 242.2,345.1 240.6,351 239.3,357 238.3,363 237.8,368.9 237.5,374.9 237.6,380.9 238.1,386.8 238.9,392.8 240.1,398.7 241.6,404.7 243.4,410.7 245.7,416.6 248.3,422.6 251.4,428.6 254.8,434.5 258.7,440.5 263.1,446.5 268.1,452.4 273.6,458.4 279.7,464.3 286.5,470.3 294.2,476.3 306.5,484.6 312.6,488.2 321.6,493 329.2,496.7 337.3,500.1 351.9,505.4 359.5,507.7 367.1,509.8 377.5,512.1ZM1275.9,506.1 1283.6,507.2 1298.7,508.5 1313.9,508.6 1329,507.7 1344.2,505.6 1359.3,502.6 1374.5,498.4 1387,494.2 1401.5,488.2 1412.4,482.9 1424.2,476.3 1433.4,470.3 1442.7,463.5 1448.9,458.4 1455.5,452.4 1461.4,446.5 1466.6,440.5 1471.4,434.5 1475.6,428.6 1479.3,422.6 1482.6,416.6 1485.4,410.7 1487.8,404.7 1489.9,398.7 1491.6,392.8 1492.8,386.8 1493.7,380.9 1494.3,374.9 1494.4,368.9 1494.2,363 1493.7,357 1492.7,351 1491.4,345.1 1489.7,339.1 1487.5,333.1 1485,327.2 1482,321.2 1478.5,315.3 1473,307.4 1469.8,303.3 1465.4,298.3 1458.6,291.4 1450.2,284.3 1442.7,278.6 1435.1,273.7 1427.5,269.4 1419.9,265.7 1412.4,262.3 1404.8,259.4 1397.2,256.9 1389.6,254.8 1382.1,253 1374.5,251.5 1366.9,250.4 1351.8,248.9 1336.6,248.6 1329,248.9 1313.9,250.3 1298.7,252.8 1283.6,256.6 1276,258.9 1260.9,264.6 1253.3,268 1245.7,271.8 1238.2,276 1230.6,280.7 1223,286 1215.4,291.8 1207.9,298.4 1202.7,303.3 1197,309.3 1191.9,315.3 1187.2,321.2 1183,327.2 1177.6,336.1 1172.9,345.1 1170.3,351 1168,357 1166.1,363 1164.6,368.9 1163.4,374.9 1162.5,380.9 1162,386.8 1161.8,392.8 1162,398.7 1162.6,404.7 1163.5,410.7 1164.8,416.6 1166.5,422.6 1168.6,428.6 1171.2,434.5 1174.2,440.5 1177.8,446.5 1181.9,452.4 1186.6,458.4 1192,464.3 1198.2,470.3 1205.3,476.3 1213.6,482.2 1223,487.9 1230.6,491.9 1238.2,495.3 1245.7,498.2 1253.3,500.8 1260.9,502.9 1268.4,504.7 1275.9,506.1ZM807.6,112.5 798.8,115.4 791.3,118.4 783.7,121.8 776.1,125.7 768.5,130.1 761,135.1 751.5,142.3 745.8,147.3 738.9,154.2 730.7,164 724.9,172.1 721.3,178.1 718.1,184.1 715.4,190 713,196 711,202 709.3,207.9 708,213.9 707,219.8 706.3,225.8 706,231.8 705.9,237.7 706.1,243.7 706.7,249.7 708.7,261.6 710.1,267.6 711.9,273.5 713.9,279.5 716.4,285.4 719.1,291.4 722.3,297.4 725.8,303.3 729.8,309.3 734.3,315.3 739.3,321.2 744.9,327.2 751.3,333.1 761,341 768.5,346.3 776.1,350.9 783.7,354.9 791.3,358.5 798.8,361.6 806.4,364.3 814,366.6 821.6,368.6 829.1,370.2 836.7,371.5 844.3,372.4 851.9,373.1 867,373.5 874.6,373.2 882.1,372.7 889.7,371.8 897.3,370.6 904.9,369.1 912.4,367.3 920,365.1 927.6,362.5 935.2,359.4 942.7,355.9 951.9,351 957.9,347.4 965.5,342.2 973,336.3 976.7,333.1 982.9,327.2 988.4,321.2 993.4,315.3 997.8,309.3 1001.7,303.3 1005.1,297.4 1008.2,291.4 1010.9,285.4 1013.2,279.5 1015.2,273.5 1016.9,267.6 1018.2,261.6 1020,249.7 1020.5,243.7 1020.6,237.7 1020.5,231.8 1020,225.8 1019.2,219.8 1018.2,213.9 1016.8,207.9 1015,202 1010.9,191 1007.7,184.1 1004.4,178.1 1000.7,172.1 995.8,165.2 991.8,160.2 986.5,154.2 980.6,148.4 973.7,142.3 965.5,136 957.1,130.4 950.3,126.4 942.7,122.5 935.2,119 927.6,115.9 917.3,112.5"/>
<path stroke="#4acb84" d="M725.5,1275.4 738.2,1275.5 753.4,1274.6 761,1273.7 768.5,1272.4 776.1,1270.9 783.7,1269 791.3,1266.8 798.8,1264.2 806.4,1261.2 814,1257.8 821.6,1254 825.8,1251.5 835.3,1245.6 844.3,1239 851.9,1232.6 857,1227.7 862.6,1221.7 867,1216.4 871.9,1209.8 875.8,1203.8 879.3,1197.9 882.3,1191.9 884.8,1185.9 887,1180 888.9,1174 890.3,1168 891.4,1162.1 892.2,1156.1 892.6,1150.1 892.7,1144.2 892.5,1138.2 891.9,1132.3 890.9,1126.3 889.6,1120.3 887.9,1114.4 885.9,1108.4 883.4,1102.4 880.5,1096.5 877.2,1090.5 874.6,1086.5 868.9,1078.6 863.9,1072.6 859.4,1067.9 851.9,1060.8 844.3,1054.7 835.7,1048.8 825.5,1042.8 813.2,1036.8 806.4,1034 798.8,1031.3 791.3,1029 783.7,1027 776.1,1025.3 768.5,1024 761,1023 753.4,1022.3 745.8,1021.8 730.7,1021.9 715.5,1023.1 707.9,1024.2 700.4,1025.6 692.8,1027.3 685.2,1029.3 677.6,1031.7 670.1,1034.5 662.5,1037.7 654.9,1041.4 647.3,1045.5 639.8,1050.1 633.1,1054.7 625.4,1060.7 617,1068.3 612.7,1072.6 607.4,1078.6 602.7,1084.6 598.5,1090.5 594.8,1096.5 591.6,1102.4 588.7,1108.4 586.3,1114.4 584.3,1120.3 582.6,1126.3 581.3,1132.3 580.4,1138.2 579.8,1144.2 579.5,1150.1 579.6,1156.1 580,1162.1 580.8,1168 582,1174 583.5,1180 585.4,1185.9 587.7,1191.9 590.5,1197.9 593.6,1203.8 597.3,1209.8 601.5,1215.7 606.2,1221.7 611.6,1227.7 617.7,1233.6 624.6,1239.5 632.7,1245.6 639.8,1250.2 647.3,1254.5 654.9,1258.4 662.5,1261.7 670.1,1264.7 677.6,1267.2 685.2,1269.4 692.8,1271.2 700.4,1272.7 707.9,1273.9 715.5,1274.7 725.5,1275.4ZM1261.1,1174 1268.4,1175.7 1276,1177.2 1283.6,1178.3 1298.7,1179.6 1313.9,1179.8 1321.5,1179.4 1329,1178.7 1336.6,1177.7 1344.2,1176.4 1351.8,1174.7 1359.3,1172.7 1366.9,1170.4 1374.5,1167.6 1382.1,1164.4 1389.6,1160.7 1397.2,1156.5 1404.8,1151.7 1412.4,1146.1 1419.9,1139.7 1427.5,1132.2 1432.6,1126.3 1435.1,1123 1441,1114.4 1444.3,1108.4 1447.2,1102.4 1449.6,1096.5 1451.6,1090.5 1453.1,1084.6 1454.3,1078.6 1455,1072.6 1455.4,1066.7 1455.3,1060.7 1454.9,1054.7 1454.1,1048.8 1453,1042.8 1451.4,1036.8 1449.4,1030.9 1447,1024.9 1444.2,1019 1440.9,1013 1437.2,1007 1432.9,1001.1 1428.1,995.1 1422.7,989.1 1419.9,986.4 1416.6,983.2 1409.8,977.2 1402,971.2 1393.2,965.3 1383,959.3 1374.5,955 1366.9,951.6 1359.3,948.6 1351.8,945.9 1344.2,943.6 1336.6,941.5 1329,939.8 1313.9,937.4 1298.7,936.1 1291.2,935.9 1283.6,936 1276,936.5 1268.4,937.2 1260.9,938.3 1253.3,939.7 1245.7,941.5 1238.2,943.7 1230.6,946.3 1223,949.3 1215.4,952.8 1203.7,959.3 1192.7,966.9 1187.2,971.2 1180.7,977.2 1174.9,983.2 1170,989.1 1165.6,995.1 1162.4,1000.1 1158.5,1007 1155.8,1013 1153.4,1019 1151.5,1024.9 1150.1,1030.9 1149,1036.8 1148.3,1042.8 1147.9,1048.8 1148,1054.7 1148.4,1060.7 1149.1,1066.7 1150.3,1072.6 1151.8,1078.6 1153.7,1084.6 1155.9,1090.5 1158.6,1096.5 1161.7,1102.4 1165.3,1108.4 1169.3,1114.4 1173.8,1120.3 1177.6,1124.8 1185.1,1132.7 1192.7,1139.6 1200.3,1145.6 1207.9,1150.9 1215.4,1155.5 1223,1159.7 1230.6,1163.3 1238.2,1166.6 1245.7,1169.4 1253.3,1171.9 1261.1,1174ZM265.4,929.5 276.2,931.7 291.3,933.7 298.9,934.2 314.1,934.5 329.2,933.6 344.4,931.6 359.5,928.4 367.1,926.4 374.7,924 382.2,921.3 389.8,918.2 397.4,914.7 403.2,911.6 412.5,906.2 420.1,901.2 429.7,893.7 436.4,887.8 442.3,881.8 447.4,875.8 451.9,869.9 455.9,863.9 459.4,857.9 462.3,852 464.8,846 466.9,840 468.5,834.1 469.8,828.1 470.6,822.2 471.1,816.2 471.1,810.2 470.8,804.3 470.1,798.3 469,792.3 467.5,786.4 465.6,780.4 463.3,774.4 460.6,768.5 457.3,762.5 453.6,756.6 450.4,752 444.4,744.6 438.8,738.7 435.3,735.2 427.7,728.7 420.1,723.1 412.5,718.2 405,713.9 397.4,710.2 389.8,706.9 382.2,704 374.7,701.6 367.1,699.4 359.5,697.7 351.9,696.2 336.8,694.2 321.6,693.3 306.5,693.5 298.9,694 291.3,694.8 278,696.9 268.6,698.9 261,700.9 253.5,703.2 245.9,705.8 238.3,708.8 230.7,712.2 223.2,716.1 215,720.8 206.1,726.7 200.4,731 191.5,738.7 185.5,744.6 180.2,750.6 175.6,756.6 171.5,762.5 168,768.5 164.9,774.4 162.4,780.4 160.2,786.4 158.5,792.3 157.2,798.3 156.2,804.3 155.7,810.2 155.5,816.2 155.8,822.2 156.4,828.1 157.4,834.1 158.8,840 160.6,846 162.8,852 165.5,857.9 168.7,863.9 172.4,869.9 176.6,875.8 181.4,881.8 186.9,887.8 193.2,893.7 200.4,899.7 208,905.2 215.6,910 223.2,914.2 230.7,917.9 238.3,921.1 245.9,923.9 253.5,926.4 265.4,929.5ZM886.5,834.1 889.7,835.1 897.3,837 904.9,838.2 912.4,839 920,839.3 927.6,839.1 935.2,838.4 942.7,837.2 950.3,835.5 957.9,833.3 965.5,830.5 973,827 980.6,822.7 988.2,817.5 996.6,810.2 1002.1,804.3 1006.7,798.3 1010.4,792.3 1013.4,786.4 1015.6,780.4 1017.3,774.4 1018.3,768.5 1018.7,762.5 1018.5,756.6 1017.7,750.6 1016.3,744.6 1014.3,738.7 1011.5,732.7 1007.9,726.7 1003.3,720.8 997.5,714.8 990.1,708.9 980.6,703 973,699.5 965.5,696.9 957.9,695 950.3,693.7 942.7,693 935.2,693 927.6,693.5 920,694.6 912.4,696.2 904.9,698.5 897.3,701.3 889.7,704.8 882.1,709 874.6,714 867,719.8 859.4,726.7 853.9,732.7 849.2,738.7 845.2,744.6 841.9,750.6 839.3,756.6 837.4,762.5 836.2,768.5 835.6,774.4 835.8,780.4 836.6,786.4 838.3,792.3 840.7,798.3 844.3,804.5 848.6,810.2 851.9,813.8 859.4,820.4 867,825.5 874.6,829.5 882.1,832.7 886.5,834.1ZM1429.1,816.2 1442.7,818.4 1450.2,819.3 1457.8,819.8 1473,820.1 1488.1,819.3 1495.7,818.4 1508.9,816.2 1518.4,814 1531.1,810.2 1541.1,806.5 1548.7,803.1 1558,798.3 1567.6,792.3 1575.8,786.4 1582.7,780.4 1588.7,774.4 1593.9,768.5 1598.4,762.5 1602.2,756.6 1605.5,750.6 1608.1,744.6 1610.3,738.7 1612,732.7 1613.3,726.7 1614.1,720.8 1614.4,714.8 1614.3,708.9 1613.8,702.9 1612.8,696.9 1611.3,691 1609.3,685 1606.9,679 1604,673.1 1600.5,667.1 1596.4,661.1 1591.6,655.2 1586,649.2 1579.6,643.3 1571.4,636.8 1563.3,631.3 1556.3,627.2 1548.7,623.4 1541.1,620 1533.6,617.1 1526,614.5 1518.4,612.4 1510.8,610.6 1503.3,609.1 1495.7,608 1480.5,606.5 1473,606.2 1457.8,606.4 1442.7,607.7 1435.1,608.8 1419.9,611.8 1412.4,613.8 1404.8,616.1 1397.2,618.8 1389.6,621.8 1382.1,625.3 1374.5,629.3 1366.9,633.9 1362,637.3 1351.8,645.4 1347.7,649.2 1342,655.2 1337.1,661.1 1333,667.1 1329.4,673.1 1326.5,679 1324.1,685 1322.2,691 1320.8,696.9 1319.8,702.9 1319.4,708.9 1319.3,714.8 1319.8,720.8 1320.6,726.7 1322,732.7 1323.8,738.7 1326,744.6 1328.9,750.6 1332.2,756.6 1336.2,762.5 1340.9,768.5 1344.2,772.2 1352.5,780.4 1359.3,786.1 1366.9,791.5 1374.5,796.2 1382.1,800.3 1389.6,803.9 1397.2,807 1404.8,809.8 1412.4,812.1 1419.9,814.2 1429.1,816.2ZM736.8,726.7 745.8,728.3 753.4,729 761,729 768.5,728.4 776.1,727.3 783.7,725.6 791.3,723.3 798.8,720.4 806.4,716.8 814,712.6 821.6,707.5 829.1,701.6 834.3,696.9 840.1,691 845.1,685 849.2,679 852.7,673.1 855.4,667.1 857.5,661.1 858.9,655.2 859.6,649.2 859.6,643.3 858.9,637.3 857.4,631.3 855.1,625.4 851.9,619.4 847.5,613.4 844.3,609.8 841.9,607.5 836.7,603 829.1,597.8 821.6,593.8 814,590.6 806.4,588.1 798.8,586.3 791.3,585 783.7,584.3 776.1,584 768.5,584.2 761,584.9 753.4,586.1 745.8,587.8 738.2,590.1 730.7,592.9 723.1,596.4 714.2,601.5 705.9,607.5 699.2,613.4 693.7,619.4 689.3,625.4 685.2,632.1 682.7,637.3 680.5,643.3 679,649.2 678.1,655.2 677.8,661.1 678,667.1 678.9,673.1 680.5,679 682.7,685 685.7,691 689.5,696.9 694.4,702.9 700.5,708.9 707.9,714.5 715.5,719 723.1,722.5 730.7,725.2 736.8,726.7ZM382,500.1 389.8,501.7 405,503.9 420.1,504.9 435.3,504.6 442.8,504.1 450.4,503.2 458,502 465.6,500.5 473.1,498.7 480.7,496.4 488.3,493.8 495.9,490.8 503.4,487.3 512.7,482.2 518.6,478.6 526.1,473.3 533.7,467.2 542.8,458.4 548.9,451.3 552.5,446.5 556.3,440.5 559.6,434.5 562.4,428.6 564.7,422.6 566.5,416.6 567.9,410.7 568.9,404.7 569.4,398.7 569.5,392.8 569.2,386.8 568.6,380.9 567.5,374.9 566,368.9 564.2,363 561.9,357 559.2,351 556.1,345.1 552.5,339.1 548.9,333.8 541.3,324.2 533.7,316.2 526.1,309.2 518.6,303.1 511,297.7 503.4,293 495.9,288.7 488.3,285 480.7,281.7 473.1,278.8 465.6,276.3 458,274.1 450.4,272.3 442.8,270.8 435.3,269.6 427.7,268.8 420.1,268.2 412.5,268 405,268 397.4,268.3 389.8,269 382.2,270 374.7,271.3 367.1,272.9 359.5,274.9 351.9,277.3 346,279.5 336.8,283.3 332.4,285.4 321.5,291.4 314.1,296.2 306.5,301.9 298,309.3 292.2,315.3 287.1,321.2 282.7,327.2 278.9,333.1 275.6,339.1 272.8,345.1 270.5,351 268.6,357 267.1,363 266.1,368.9 265.4,374.9 265.2,380.9 265.3,386.8 265.9,392.8 266.8,398.7 268.1,404.7 269.8,410.7 272,416.6 274.5,422.6 277.6,428.6 281.1,434.5 285.1,440.5 289.7,446.5 294.9,452.4 300.7,458.4 307.4,464.3 314.1,469.6 323.7,476.3 329.2,479.6 336.8,483.8 344.4,487.5 351.9,490.8 359.5,493.7 367.1,496.2 374.7,498.3 382,500.1ZM1270.5,494.2 1276,495.4 1283.6,496.6 1291.2,497.6 1298.7,498.1 1306.3,498.4 1313.9,498.4 1321.5,498 1329,497.3 1336.6,496.4 1344.2,495.1 1351.8,493.5 1359.3,491.7 1366.9,489.5 1374.5,486.9 1382.1,484 1389.6,480.8 1398.8,476.3 1409.3,470.3 1418.3,464.3 1426.1,458.4 1435.1,450.4 1439.1,446.5 1444.5,440.5 1449.2,434.5 1453.4,428.6 1457,422.6 1460.2,416.6 1462.8,410.7 1465,404.7 1466.8,398.7 1468.2,392.8 1469.1,386.8 1469.6,380.9 1469.7,374.9 1469.5,368.9 1468.7,363 1467.6,357 1466,351 1464,345.1 1461.5,339.1 1458.5,333.1 1455,327.2 1450.8,321.2 1446,315.3 1440.4,309.3 1434,303.3 1426.5,297.4 1419.9,292.9 1412.4,288.3 1404.8,284.4 1397.2,281 1389.6,278 1382.1,275.5 1374.5,273.5 1366.9,271.7 1359.3,270.4 1351.8,269.4 1344.2,268.7 1336.6,268.3 1329,268.3 1321.5,268.5 1313.9,269.1 1306.3,270 1298.7,271.3 1291.2,272.8 1283.6,274.7 1276,277 1268.4,279.6 1260.9,282.6 1253.3,286.1 1245.7,290 1238.2,294.4 1230.6,299.4 1223,305.1 1215.4,311.5 1205.8,321.2 1200.7,327.2 1196.2,333.1 1192.2,339.1 1188.7,345.1 1185.7,351 1183.1,357 1180.9,363 1179.1,368.9 1177.7,374.9 1176.7,380.9 1176.1,386.8 1175.9,392.8 1176,398.7 1176.6,404.7 1177.6,410.7 1179,416.6 1180.9,422.6 1183.3,428.6 1186.1,434.5 1189.5,440.5 1193.5,446.5 1198.2,452.4 1203.6,458.4 1209.9,464.3 1215.4,468.9 1226.1,476.3 1230.6,478.9 1238.2,482.9 1245.7,486.3 1253.3,489.2 1260.9,491.7 1270.5,494.2ZM819.4,357 829.1,359.4 836.7,360.8 844.3,361.8 851.9,362.6 859.4,362.9 867,363 874.6,362.7 882.1,362 889.7,361 897.3,359.7 904.9,358 912.4,355.9 920,353.3 925.9,351 935.2,346.9 942.7,342.8 948.8,339.1 957.4,333.1 965.5,326.5 973,319 976.5,315.3 980.6,310.2 985.5,303.3 989.2,297.4 992.4,291.4 995.2,285.4 997.5,279.5 999.5,273.5 1001.1,267.6 1002.2,261.6 1003.1,255.6 1003.6,249.7 1003.7,243.7 1003.5,237.7 1003,231.8 1002,225.8 1000.7,219.8 999.1,213.9 997,207.9 994.5,202 991.6,196 988.2,190 984.2,184.1 979.7,178.1 974.6,172.1 968.7,166.2 965.5,163.2 957.9,157 950.3,151.7 942.7,147 935.2,143 927.6,139.5 920,136.5 912.4,133.9 904.9,131.8 897.3,130 889.7,128.6 882.1,127.6 874.6,126.9 867,126.5 859.4,126.5 851.9,126.8 844.3,127.4 836.7,128.4 829.1,129.7 821.6,131.4 814,133.5 806.4,136 798.8,139 791.3,142.4 783.7,146.3 776.1,150.9 768.5,156.2 763.4,160.2 756.7,166.2 753.4,169.4 745.8,178.1 741.3,184.1 738.2,188.8 734.1,196 731.2,202 728.8,207.9 726.8,213.9 725.2,219.8 724,225.8 723.1,231.8 722.7,237.7 722.5,243.7 722.7,249.7 723.3,255.6 724.2,261.6 725.5,267.6 727.1,273.5 729.1,279.5 731.5,285.4 734.4,291.4 737.6,297.4 741.4,303.3 745.7,309.3 750.6,315.3 756.2,321.2 761,325.7 768.5,332 778.6,339.1 783.7,342.2 791.3,346.3 798.8,349.8 806.4,352.8 814,355.4 819.4,357Z"/>
<path stroke="#81cc59" d="M707.9,1251.5 715.5,1252.7 723.1,1253.4 730.7,1253.9 738.2,1254 745.8,1253.7 753.4,1253.2 761,1252.2 768.5,1251 776.1,1249.3 783.7,1247.3 791.3,1244.9 798.8,1242.1 806.4,1238.8 814,1235 821.6,1230.6 829.1,1225.5 836.7,1219.6 844.3,1212.8 852.5,1203.8 859.4,1194.5 864.6,1185.9 867.5,1180 870,1174 872.1,1168 873.7,1162.1 874.6,1157.7 875.7,1150.1 876.1,1144.2 876.1,1138.2 875.7,1132.3 874.9,1126.3 873.8,1120.3 872.1,1114.4 870.1,1108.4 867.6,1102.4 864.5,1096.5 861,1090.5 856.8,1084.6 852,1078.6 846.5,1072.6 840,1066.7 832.5,1060.7 823.6,1054.7 814,1049.3 806.4,1045.7 799.3,1042.8 791.3,1040 783.7,1037.8 776.1,1036 768.5,1034.5 761,1033.4 753.4,1032.7 745.8,1032.2 738.2,1032.2 730.7,1032.4 723.1,1033 715.5,1034 707.9,1035.2 700.4,1036.9 692.8,1038.9 685.2,1041.3 677.6,1044.2 670.1,1047.5 662.5,1051.4 656.7,1054.7 647.3,1060.9 639.8,1066.9 633.4,1072.6 627.6,1078.6 622.6,1084.6 618.2,1090.5 614.3,1096.5 611.1,1102.4 608.3,1108.4 605.9,1114.4 604.1,1120.3 602.6,1126.3 601.5,1132.3 600.9,1138.2 600.6,1144.2 600.8,1150.1 601.3,1156.1 602.3,1162.1 603.7,1168 605.5,1174 607.7,1180 610.5,1185.9 613.8,1191.9 617,1197.1 622,1203.8 624.6,1207 633,1215.7 639.8,1221.7 647.3,1227.4 654.9,1232.3 662.5,1236.5 670.1,1240.1 677.6,1243.3 685.2,1245.9 692.8,1248.2 700.4,1250.1 707.9,1251.5ZM1266.3,1156.1 1276,1158 1283.6,1159 1291.2,1159.7 1298.7,1160 1306.3,1160 1313.9,1159.6 1321.5,1158.9 1329,1157.9 1336.6,1156.4 1344.2,1154.6 1351.8,1152.4 1359.3,1149.8 1366.9,1146.6 1372.1,1144.2 1382.1,1138.7 1389.6,1133.7 1397.2,1127.9 1404.8,1121 1410.9,1114.4 1415.5,1108.4 1419.5,1102.4 1422.9,1096.5 1425.7,1090.5 1428,1084.6 1429.8,1078.6 1431.1,1072.6 1432,1066.7 1432.4,1060.7 1432.5,1054.7 1432,1048.8 1431.2,1042.8 1429.9,1036.8 1428.1,1030.9 1425.9,1024.9 1423.3,1019 1420.1,1013 1416.3,1007 1412,1001.1 1407,995.1 1401.3,989.1 1394.8,983.2 1387.3,977.2 1378.5,971.2 1368.1,965.3 1355.4,959.3 1344.2,955.1 1336.6,952.8 1329,950.8 1321.5,949.2 1313.9,947.9 1306.3,947 1298.7,946.5 1291.2,946.3 1283.6,946.4 1276,946.9 1268.4,947.7 1260.9,948.9 1253.3,950.5 1243,953.4 1238.2,955 1230.6,957.9 1223,961.3 1215.6,965.3 1206.2,971.2 1198.4,977.2 1191.8,983.2 1186.1,989.1 1181.2,995.1 1177,1001.1 1173.5,1007 1170,1014.3 1168.1,1019 1166.1,1024.9 1164.6,1030.9 1163.5,1036.8 1162.9,1042.8 1162.7,1048.8 1163,1054.7 1163.6,1060.7 1164.7,1066.7 1166.1,1072.6 1168.1,1078.6 1170.4,1084.6 1173.3,1090.5 1176.7,1096.5 1180.6,1102.4 1185.1,1108.4 1192.7,1117 1200.3,1124.1 1203,1126.3 1207.9,1130.1 1215.4,1135.4 1223,1139.9 1230.6,1143.8 1238.2,1147.3 1245.7,1150.2 1253.3,1152.8 1260.9,1154.9 1266.3,1156.1ZM306.7,917.6 314.1,917.9 321.6,917.9 329.2,917.6 336.8,917 344.4,916 351.9,914.7 359.5,913.1 367.1,911.1 374.7,908.7 382.2,905.9 389.8,902.7 397.4,898.9 405,894.6 412.5,889.7 420.1,884 429.2,875.8 435.3,869.3 439.6,863.9 443.7,857.9 447.3,852 450.3,846 452.7,840 454.7,834.1 456.2,828.1 457.3,822.2 458,814.7 458.1,810.2 457.9,804.3 457.2,798.3 456.1,792.3 454.5,786.4 452.5,780.4 450.4,775.6 446.9,768.5 442.8,761.9 439,756.6 435.3,752 428.4,744.6 420.1,737.4 412.5,731.7 404.6,726.7 397.4,722.8 393.1,720.8 382.2,716.2 374.7,713.6 367.1,711.4 359.5,709.6 351.9,708.1 344.4,707 336.8,706.3 329.2,705.9 321.6,705.8 314.1,706 306.5,706.5 298.9,707.3 291.3,708.5 283.8,710 276.2,711.9 268.6,714.1 261,716.8 251.3,720.8 245.9,723.4 238.3,727.4 229.9,732.7 223.2,737.6 214.8,744.6 208,751.4 203.5,756.6 199,762.5 195.2,768.5 191.9,774.4 189.1,780.4 186.9,786.4 185.1,792.3 183.8,798.3 182.9,804.3 182.5,810.2 182.5,816.2 182.9,822.2 183.8,828.1 185.1,834.1 186.9,840 189.2,846 192,852 195.3,857.9 200.4,865.5 203.8,869.9 208,874.6 215.6,882 222.6,887.8 230.7,893.5 241.3,899.7 253.5,905.4 261,908.3 268.6,910.8 276.2,912.9 283.8,914.6 291.3,915.9 298.9,916.9 306.7,917.6ZM911,828.1 920,828.5 927.6,828.3 935.2,827.4 942.7,826 950.3,824 955.5,822.2 965.5,817.9 973,813.5 977.8,810.2 985,804.3 990.6,798.3 995.2,792.3 998.7,786.4 1001.4,780.4 1003.4,774.4 1004.6,768.5 1005.1,762.5 1005,756.6 1004.1,750.6 1002.6,744.6 1000.2,738.7 997,732.7 992.7,726.7 987.2,720.8 980.6,715.3 973,710.5 969.8,708.9 965.5,706.9 957.9,704.1 953.1,702.9 950.3,702.2 942.7,701 935.2,700.5 927.6,700.6 920,701.3 912.4,702.7 904.9,704.7 897.3,707.4 889.7,710.8 882.1,715 873.7,720.8 866.7,726.7 860.9,732.7 856.1,738.7 852.2,744.6 849.2,750.6 846.9,756.6 845.4,762.5 844.6,768.5 844.6,774.4 845.3,780.4 846.9,786.4 849.4,792.3 853,798.3 857.7,804.3 864.1,810.2 867,812.6 874.6,817.4 882.1,821.1 889.7,824 897.3,826 904.9,827.5 911,828.1ZM1427.2,804.3 1435.1,805.7 1442.7,806.7 1450.2,807.4 1457.8,807.8 1465.4,807.9 1473,807.6 1480.5,807 1488.1,806 1495.7,804.7 1503.3,803 1510.8,801 1518.4,798.5 1526,795.5 1533.6,792.1 1543.9,786.4 1552.7,780.4 1560.1,774.4 1566.3,768.5 1571.6,762.5 1576.1,756.6 1579.8,750.6 1582.9,744.6 1585.4,738.7 1587.4,732.7 1588.8,726.7 1589.7,720.8 1590.1,714.8 1590.1,708.9 1589.5,702.9 1588.4,696.9 1586.7,691 1584.6,685 1581.9,679 1578.6,673.1 1574.6,667.1 1569.8,661.1 1564.2,655.2 1557.6,649.2 1548.7,642.5 1541.1,637.7 1533.6,633.7 1526,630.2 1518.4,627.3 1510.8,624.8 1503.3,622.7 1495.7,621 1488.1,619.7 1480.5,618.7 1473,618.1 1465.4,617.8 1457.8,617.8 1450.2,618.1 1442.7,618.8 1435.1,619.8 1427.5,621.1 1419.9,622.8 1412.4,624.9 1404.8,627.3 1394.7,631.3 1389.6,633.6 1382.6,637.3 1373,643.3 1365,649.2 1359.3,654.2 1352.6,661.1 1347.9,667.1 1343.8,673.1 1340.5,679 1337.8,685 1335.7,691 1334.1,696.9 1333.1,702.9 1332.6,708.9 1332.5,714.8 1333,720.8 1334,726.7 1335.5,732.7 1336.6,736.1 1337.5,738.7 1340.1,744.6 1344.2,752 1347.2,756.6 1351.8,762.6 1357.2,768.5 1363.6,774.4 1366.9,777.2 1374.5,782.8 1382.1,787.5 1389.6,791.5 1397.2,795 1404.8,798 1412.4,800.5 1419.9,802.6 1427.2,804.3ZM752,720.8 761,721.5 768.5,721.3 776.1,720.5 783.7,719.1 791.3,717.1 798.8,714.3 806.4,710.9 814,706.6 819.4,702.9 826.9,696.9 833,691 836.7,686.7 842.2,679 845.5,673.1 847.9,667.1 849.6,661.1 850.6,655.2 850.8,649.2 850.2,643.3 848.8,637.3 846.5,631.3 844.3,627.3 843.1,625.4 838.6,619.4 832.5,613.4 829.1,610.7 824.4,607.5 821.6,605.7 814,601.9 806.4,599.1 798.8,597 791.3,595.5 783.7,594.7 776.1,594.4 768.5,594.7 761,595.6 753.4,597 745.8,599 738.2,601.7 730.7,605.1 723.1,609.4 717.4,613.4 710.4,619.4 704.9,625.4 700.5,631.3 697,637.3 694.4,643.3 692.6,649.2 691.5,655.2 691.1,661.1 691.4,667.1 692.4,673.1 694.1,679 696.7,685 700.2,691 704.7,696.9 710.6,702.9 718.5,708.9 723.1,711.6 730.7,715.2 738.2,717.9 745.8,719.8 752,720.8ZM385.4,488.2 397.4,490.9 405,492.1 412.5,493 420.1,493.5 427.7,493.7 435.3,493.5 442.8,493.1 450.4,492.2 458,491 465.6,489.5 473.1,487.5 480.7,485.1 488.3,482.3 495.9,478.9 503.4,475 511.2,470.3 519.6,464.3 526.6,458.4 533.7,451.1 537.7,446.5 541.3,441.6 545.7,434.5 548.8,428.6 551.3,422.6 553.3,416.6 554.8,410.7 555.8,404.7 556.3,398.7 556.4,392.8 556,386.8 555.2,380.9 554,374.9 552.2,368.9 548.9,360.3 544.2,351 540.5,345.1 533.7,336.1 526.1,327.8 518.6,320.9 511,314.9 502.6,309.3 495.9,305.3 488.3,301.4 480.7,298.1 473.1,295.1 465.6,292.7 458,290.6 450.4,288.9 442.8,287.6 435.3,286.6 427.7,286 420.1,285.8 412.5,285.8 405,286.2 397.4,287 389.8,288.1 382.2,289.7 374.7,291.6 367.1,293.9 357.9,297.4 351.9,300 344.4,303.8 335.3,309.3 327.1,315.3 321.6,319.8 314.2,327.2 309.1,333.1 306.5,336.6 301,345.1 298,351 295.4,357 293.4,363 291.8,368.9 290.7,374.9 290.1,380.9 289.9,386.8 290.2,392.8 290.9,398.7 292,404.7 293.6,410.7 295.7,416.6 298.3,422.6 301.3,428.6 305,434.5 309.2,440.5 314.1,446.5 321.6,454.1 326.3,458.4 333.9,464.3 344.4,471.2 351.9,475.4 359.5,479.1 367.1,482.3 374.7,485 385.4,488.2ZM1305.1,488.2 1313.9,488.2 1321.5,487.8 1329,487.1 1336.6,486 1344.2,484.6 1351.8,482.8 1359.3,480.6 1371.4,476.3 1382.1,471.6 1389.6,467.6 1395.2,464.3 1404.1,458.4 1411.7,452.4 1418.2,446.5 1423.9,440.5 1428.8,434.5 1433,428.6 1436.6,422.6 1439.7,416.6 1442.2,410.7 1444.3,404.7 1445.8,398.7 1446.9,392.8 1447.5,386.8 1447.6,380.9 1447.3,374.9 1446.5,368.9 1445.3,363 1443.5,357 1441.2,351 1438.4,345.1 1434.9,339.1 1430.8,333.1 1427.5,329 1420.3,321.2 1413.6,315.3 1405.6,309.3 1397.2,304.1 1389.6,300.2 1382.1,296.8 1374.5,294 1366.9,291.6 1359.3,289.7 1351.8,288.2 1344.2,287.1 1336.6,286.4 1329,286 1321.5,286 1313.9,286.3 1306.3,287 1298.7,288.1 1291.2,289.5 1283.6,291.4 1276,293.6 1268.4,296.2 1260.9,299.3 1253.3,302.9 1245.7,307.1 1238.2,311.9 1233.5,315.3 1230.6,317.4 1223,323.9 1215.4,331.5 1207.9,340.9 1204.9,345.1 1201.3,351 1198.2,357 1195.6,363 1192.7,371.7 1190.7,380.9 1189.9,386.8 1189.6,392.8 1189.8,398.7 1190.4,404.7 1191.4,410.7 1193,416.6 1195.1,422.6 1197.7,428.6 1200.9,434.5 1204.8,440.5 1209.3,446.5 1214.7,452.4 1221.2,458.4 1228.8,464.3 1238.2,470.3 1245.7,474.3 1250,476.3 1260.9,480.5 1268.4,482.9 1276,484.7 1283.6,486.2 1291.2,487.3 1298.7,487.9 1305.1,488.2ZM841.3,351 851.9,352.3 859.4,352.7 867,352.7 874.6,352.3 885.7,351 897.3,348.9 904.9,346.9 912.4,344.5 920,341.6 927.6,338.1 936.6,333.1 945.5,327.2 953,321.2 959.4,315.3 965.5,308.5 969.5,303.3 973.5,297.4 977,291.4 979.8,285.4 982.2,279.5 984.2,273.5 985.6,267.6 986.7,261.6 987.3,255.6 987.6,249.7 987.4,243.7 986.8,237.7 985.8,231.8 984.3,225.8 982.5,219.8 980.6,215.2 977.2,207.9 973,200.7 969.8,196 965.5,190.4 957.9,182.3 950.3,175.6 942.7,169.9 935.2,165.1 925.9,160.2 920,157.5 912.4,154.6 904.9,152.1 897.3,150.1 889.7,148.5 882.1,147.3 874.6,146.5 867,146.1 859.4,146.1 851.9,146.4 844.3,147.2 836.7,148.3 829.1,149.8 821.6,151.7 814,154.1 806.4,157 798.8,160.4 791.3,164.4 783.7,169.1 776.1,174.7 768.5,181.2 765.7,184.1 760.3,190 755.7,196 751.7,202 748.3,207.9 745.8,213.2 743.2,219.8 741.4,225.8 740,231.8 739,237.7 738.5,243.7 738.4,249.7 738.7,255.6 739.4,261.6 740.5,267.6 742,273.5 744,279.5 746.4,285.4 749.4,291.4 752.9,297.4 756.9,303.3 761.7,309.3 767.2,315.3 773.6,321.2 781.2,327.2 791.3,333.8 801.4,339.1 806.4,341.4 814,344.3 821.6,346.8 829.1,348.8 841.3,351Z"/>
<path stroke="#b9c431" d="M725.7,1233.6 730.7,1234 738.2,1234.3 745.8,1234.1 753.4,1233.6 761,1232.7 768.5,1231.3 776.1,1229.6 782.7,1227.7 791.3,1224.7 798.8,1221.5 806.4,1217.8 814,1213.3 821.6,1208.1 829.1,1201.8 836.7,1194.3 843.5,1185.9 847.5,1180 851.9,1171.9 853.6,1168 855.9,1162.1 857.6,1156.1 858.9,1150.1 859.6,1144.2 860,1138.2 859.8,1132.3 859.2,1126.3 858.1,1120.3 856.5,1114.4 854.5,1108.4 851.8,1102.4 848.6,1096.5 844.3,1089.8 840.2,1084.6 836.7,1080.6 829.1,1073.3 821.6,1067.2 814,1062.2 806.4,1057.9 798.8,1054.3 791.3,1051.3 783.7,1048.7 776.1,1046.7 768.5,1045.1 761,1043.9 753.4,1043.1 745.8,1042.7 738.2,1042.6 730.7,1043 723.1,1043.7 715.5,1044.9 707.9,1046.4 700.4,1048.4 692.8,1050.9 683.1,1054.7 677.6,1057.3 670.1,1061.4 661.9,1066.7 654.9,1072 647.6,1078.6 642.1,1084.6 639.8,1087.4 637.3,1090.5 633.3,1096.5 629.9,1102.4 627,1108.4 624.8,1114.4 623,1120.3 621.7,1126.3 620.9,1132.3 620.5,1138.2 620.7,1144.2 621.3,1150.1 622.3,1156.1 624.6,1164.2 626,1168 628.6,1174 632.2,1180.7 635.6,1185.9 640.1,1191.9 647.3,1199.7 654.9,1206.4 662.5,1212 668.5,1215.7 677.6,1220.7 685.2,1224 692.8,1226.8 700.4,1229.1 707.9,1231 715.5,1232.4 725.7,1233.6ZM1265.5,1138.2 1276,1140.2 1283.6,1141.2 1291.2,1141.7 1298.7,1141.8 1306.3,1141.6 1313.9,1140.9 1321.5,1139.8 1329,1138.4 1336.6,1136.4 1344.2,1134 1351.8,1131.1 1361.8,1126.3 1366.9,1123.4 1371.7,1120.3 1379.8,1114.4 1386.4,1108.4 1392,1102.4 1396.7,1096.5 1400.6,1090.5 1403.8,1084.6 1406.4,1078.6 1408.4,1072.6 1409.9,1066.7 1410.9,1060.7 1411.3,1054.7 1411.3,1048.8 1410.8,1042.8 1409.7,1036.8 1408.2,1030.9 1406.1,1024.9 1403.5,1019 1400.3,1013 1396.5,1007 1391.9,1001.1 1386.6,995.1 1380.3,989.1 1373,983.2 1364.1,977.2 1353.3,971.2 1344.2,967.2 1336.6,964.4 1329,962 1321.5,960.1 1313.9,958.7 1306.3,957.6 1298.7,956.9 1291.2,956.6 1283.6,956.8 1276,957.3 1268.4,958.2 1260.9,959.5 1253.3,961.3 1245.7,963.6 1238.2,966.4 1230.6,969.8 1223,973.9 1215.4,978.8 1209.6,983.2 1202.8,989.1 1197.2,995.1 1192.5,1001.1 1188.5,1007 1185.1,1013.3 1182.6,1019 1180.6,1024.9 1179,1030.9 1178,1036.8 1177.5,1042.8 1177.4,1048.8 1177.9,1054.7 1178.8,1060.7 1180.3,1066.7 1182.2,1072.6 1184.7,1078.6 1187.7,1084.6 1192.7,1092.5 1195.7,1096.5 1200.8,1102.4 1207.9,1109.4 1215.4,1115.6 1222.2,1120.3 1232.5,1126.3 1238.2,1129.1 1245.7,1132.3 1253.3,1135 1260.9,1137.2 1265.5,1138.2ZM296.3,899.7 306.5,901.3 314.1,902 321.6,902.4 329.2,902.3 336.8,901.9 344.4,901.1 351.9,899.9 359.5,898.4 367.1,896.4 374.7,893.9 382.2,891 389.8,887.5 397.4,883.4 405,878.6 408.7,875.8 416,869.9 422.1,863.9 427.3,857.9 431.6,852 435.3,846 438.3,840 440.7,834.1 442.6,828.1 443.9,822.2 444.8,816.2 445.1,810.2 444.9,804.3 444.2,798.3 443.1,792.3 441.3,786.4 439.1,780.4 436.3,774.4 432.8,768.5 428.6,762.5 423.7,756.6 417.8,750.6 412.5,746 405,740.4 397.4,735.7 391.8,732.7 382.2,728.3 374.7,725.5 367.1,723.2 359.5,721.4 351.9,719.9 344.4,718.9 336.8,718.3 329.2,718 321.6,718.1 314.1,718.6 306.5,719.4 298.9,720.7 291.3,722.3 283.8,724.4 276.7,726.7 268.6,729.9 262.6,732.7 253.5,737.7 243.2,744.6 235.9,750.6 229.8,756.6 224.7,762.5 220.3,768.5 216.7,774.4 213.6,780.4 211.2,786.4 209.4,792.3 208,798.3 207.2,804.3 206.9,810.2 207.1,816.2 207.7,822.2 208.9,828.1 210.6,834.1 212.9,840 215.8,846 219.3,852 223.2,857.5 228.5,863.9 234.4,869.9 238.3,873.3 245.9,879.1 253.5,883.9 261,888 268.6,891.5 276.2,894.4 283.8,896.8 291.3,898.7 296.3,899.7ZM900,816.2 904.9,817.2 912.4,818.1 920,818.3 927.6,817.9 935.2,816.9 942.7,815.1 950.3,812.6 955.9,810.2 957.9,809.3 965.5,805 974.1,798.3 980.6,791.4 984.3,786.4 987.6,780.4 990,774.4 991.5,768.5 992.2,762.5 992.1,756.6 991.2,750.6 989.4,744.6 986.7,738.7 982.9,732.7 980.6,730 977.7,726.7 970.7,720.8 965.5,717.4 957.9,713.5 950.3,710.8 942.7,708.9 935.2,707.9 927.6,707.6 920,708 912.4,709 904.9,710.8 897.3,713.4 889.7,716.8 882.7,720.8 874.5,726.7 868.2,732.7 863.3,738.7 859.3,744.6 856.5,750.6 854.4,756.6 853.3,762.5 852.9,768.5 853.5,774.4 855,780.4 857.4,786.4 861,792.3 866,798.3 874.6,805.5 882.1,809.9 889.7,813.3 897.3,815.6 900,816.2ZM1425.5,792.3 1435.1,794.2 1442.7,795.1 1450.2,795.7 1457.8,795.9 1465.4,795.7 1473,795.1 1480.5,794.1 1488.1,792.7 1495.7,790.8 1503.3,788.5 1510.8,785.7 1518.4,782.2 1526,778.1 1531.8,774.4 1539.7,768.5 1546.2,762.5 1551.5,756.6 1556,750.6 1559.6,744.6 1562.6,738.7 1564.8,732.7 1566.5,726.7 1567.5,720.8 1568,714.8 1568,708.9 1567.3,702.9 1566.1,696.9 1564.3,691 1561.9,685 1558.8,679 1554.9,673.1 1550.3,667.1 1544.6,661.1 1537.8,655.2 1529.5,649.2 1518.4,642.9 1510.8,639.5 1505.1,637.3 1495.7,634.3 1488.1,632.4 1482.2,631.3 1473,630 1465.4,629.4 1457.8,629.2 1450.2,629.3 1442.7,629.9 1435.1,630.8 1427.5,632.1 1419.9,633.9 1408.8,637.3 1404.8,638.8 1397.2,642 1389.6,645.9 1384.1,649.2 1375.7,655.2 1368.9,661.1 1363.2,667.1 1358.5,673.1 1354.7,679 1351.6,685 1349.2,691 1347.4,696.9 1346.2,702.9 1345.6,708.9 1345.6,714.8 1346.1,720.8 1347.2,726.7 1348.9,732.7 1351.8,739.7 1354.3,744.6 1358,750.6 1362.5,756.6 1368,762.5 1374.5,768.4 1382.1,774.1 1389.6,778.8 1392.6,780.4 1397.2,782.7 1404.8,786 1412.4,788.8 1419.9,791 1425.5,792.3ZM738.9,708.9 745.8,711.3 753.4,713.1 761,714.1 768.5,714.4 776.1,713.9 783.7,712.8 791.3,711 798.8,708.3 806.4,704.9 814,700.4 821.6,694.6 825.5,691 829.1,687.1 830.9,685 835.1,679 838.2,673.1 840.5,667.1 841.9,661.1 842.4,655.2 842,649.2 840.8,643.3 838.6,637.3 836.7,633.8 835.2,631.3 830.5,625.4 824,619.4 821.6,617.6 814,613 806.4,609.6 798.8,607.2 791.3,605.6 783.7,604.6 776.1,604.4 768.5,604.8 761,605.8 753.4,607.6 745.8,610 738.2,613.3 730.7,617.7 728.2,619.4 720.9,625.4 715.3,631.3 711.1,637.3 708,643.3 705.8,649.2 704.4,655.2 703.9,661.1 704.2,667.1 705.3,673.1 707.3,679 710.2,685 714.3,691 715.5,692.3 719.9,696.9 723.1,699.6 727.5,702.9 730.7,704.8 738.9,708.9ZM421.8,482.2 427.7,482.5 435.3,482.5 442.8,482.1 450.4,481.3 458,480.1 465.6,478.5 473.1,476.4 480.7,473.7 488.3,470.6 495.9,466.8 503.4,462.3 511,456.9 518.6,450.3 522.3,446.5 526.1,442 531.6,434.5 535.1,428.6 537.9,422.6 540,416.6 541.7,410.7 542.7,404.7 543.3,398.7 543.3,392.8 542.8,386.8 541.8,380.9 540.2,374.9 538.2,368.9 535.5,363 532.3,357 528.4,351 526.1,347.9 518.6,339.2 512.1,333.1 503.4,326.3 495.9,321.4 488.3,317.2 480.7,313.6 473.1,310.6 465.6,308.1 458,306.1 450.4,304.5 442.8,303.3 435.3,302.6 427.7,302.2 420.1,302.2 412.5,302.7 405,303.5 397.4,304.7 389.8,306.4 380.1,309.3 374.7,311.3 367.1,314.5 359.5,318.4 351.9,323 344.4,328.5 336.8,335.3 333.1,339.1 329.2,343.8 324.1,351 320.7,357 317.9,363 315.8,368.9 314.1,375.8 313.2,380.9 312.6,386.8 312.6,392.8 313.1,398.7 314.1,404.7 315.6,410.7 317.7,416.6 320.3,422.6 323.5,428.6 327.4,434.5 332.1,440.5 337.5,446.5 344,452.4 351.7,458.4 361.1,464.3 367.1,467.6 372.8,470.3 382.2,474.1 389.8,476.6 397.4,478.6 405,480.2 412.5,481.4 421.8,482.2ZM1287,476.3 1298.7,477.7 1306.3,478.1 1313.9,478 1321.5,477.6 1331.8,476.3 1336.6,475.5 1344.2,473.8 1351.8,471.6 1359.3,469.1 1366.9,465.9 1374.5,462.3 1382.1,458 1390.3,452.4 1397.7,446.5 1403.9,440.5 1409.2,434.5 1413.7,428.6 1417.4,422.6 1420.5,416.6 1422.9,410.7 1424.8,404.7 1426.2,398.7 1427,392.8 1427.2,386.8 1427,380.9 1426.2,374.9 1424.9,368.9 1423,363 1420.5,357 1417.3,351 1412.4,343.6 1408.7,339.1 1403.1,333.1 1396.2,327.2 1389.6,322.4 1382.1,317.8 1377.2,315.3 1366.9,310.8 1359.3,308.2 1351.8,306.1 1344.2,304.5 1336.4,303.3 1329,302.6 1321.5,302.3 1313.9,302.4 1306.3,303 1298.7,303.9 1291.2,305.2 1283.6,307 1276,309.3 1268.4,312 1261,315.3 1253.3,319.2 1245.7,323.9 1238.2,329.3 1233.6,333.1 1227.3,339.1 1223,343.9 1217.5,351 1213.8,357 1210.6,363 1207.9,369.6 1206.1,374.9 1204.7,380.9 1203.7,386.8 1203.3,392.8 1203.4,398.7 1204,404.7 1205.2,410.7 1206.9,416.6 1207.9,419.1 1209.2,422.6 1212.2,428.6 1215.8,434.5 1220.3,440.5 1225.7,446.5 1232.2,452.4 1240.3,458.4 1245.7,461.8 1250.4,464.3 1260.9,469.2 1268.4,471.9 1276,474 1287,476.3ZM833.5,339.1 844.3,341.1 851.9,342 859.4,342.4 867,342.4 874.6,342 882.1,341.1 892.8,339.1 897.3,338 904.9,335.7 911.8,333.1 920,329.4 927.6,325.2 935.2,320.2 941.5,315.3 947.9,309.3 953.2,303.3 957.7,297.4 961.5,291.4 964.6,285.4 967.1,279.5 969,273.5 970.4,267.6 971.3,261.6 971.8,255.6 971.7,249.7 971.2,243.7 970.2,237.7 968.6,231.8 965.5,223.3 963.9,219.8 960.7,213.9 956.8,207.9 952.1,202 946.5,196 942.7,192.5 935.2,186.5 927.6,181.4 920,177.3 912.4,173.8 904.9,170.9 897.3,168.6 889.7,166.8 882.1,165.4 874.6,164.5 867,164 859.4,164 851.9,164.4 844.3,165.2 836.7,166.5 829.1,168.2 821.6,170.5 814,173.2 803.6,178.1 798.8,180.7 793.5,184.1 783.7,191.5 776.1,198.7 773.2,202 768.6,207.9 764.7,213.9 761,221 758.9,225.8 756.9,231.8 755.4,237.7 754.4,243.7 753.9,249.7 753.9,255.6 754.4,261.6 755.3,267.6 756.8,273.5 758.8,279.5 761,284.6 764.5,291.4 768.5,297.8 772.8,303.3 776.1,307.1 783.7,314.5 792.4,321.2 802,327.2 806.4,329.5 814,333 821.6,335.8 829.1,338.1 833.5,339.1Z"/>
<path stroke="#f0ba36" d="M736.4,1215.7 745.8,1215.8 753.4,1215.3 761,1214.3 768.5,1212.9 776.1,1210.9 783.7,1208.4 791.3,1205.4 798.8,1201.6 806.4,1197 814,1191.5 820.3,1185.9 825.9,1180 830.5,1174 834.3,1168 837.4,1162.1 839.9,1156.1 841.7,1150.1 842.9,1144.2 843.6,1138.2 843.8,1132.3 843.4,1126.3 842.4,1120.3 840.8,1114.4 838.7,1108.4 836.7,1104.2 832.3,1096.5 828,1090.5 822.8,1084.6 816.4,1078.6 814,1076.7 806.4,1071.2 798.6,1066.7 791.3,1063.2 783.7,1060.2 776.1,1057.8 768.5,1056 761,1054.6 753.4,1053.8 745.8,1053.4 738.2,1053.4 730.7,1053.9 723.6,1054.7 715.5,1056.2 707.9,1058.1 700.4,1060.6 692.8,1063.6 685.2,1067.3 677.6,1071.8 668.4,1078.6 662.5,1084 656.5,1090.5 652.1,1096.5 648.4,1102.4 645.5,1108.4 643.2,1114.4 641.5,1120.3 640.4,1126.3 639.8,1132.3 639.8,1138.2 640.4,1144.2 641.5,1150.1 643.2,1156.1 645.5,1162.1 647.3,1165.9 652.2,1174 656.7,1180 662.5,1186.2 670.1,1192.9 677.1,1197.9 685.2,1202.6 692.8,1206.2 702.4,1209.8 707.9,1211.5 715.5,1213.3 723.1,1214.6 730.7,1215.5 736.4,1215.7ZM1261.3,1120.3 1268.4,1122.1 1276,1123.4 1283.6,1124.2 1291.2,1124.6 1298.7,1124.6 1306.3,1124 1313.9,1123 1321.5,1121.5 1329,1119.5 1336.6,1116.9 1344.2,1113.7 1351.8,1109.7 1359.3,1104.9 1362.6,1102.4 1369.5,1096.5 1375.1,1090.5 1379.6,1084.6 1383.3,1078.6 1386.2,1072.6 1388.4,1066.7 1390,1060.7 1391,1054.7 1391.3,1048.8 1391.1,1042.8 1390.4,1036.8 1389,1030.9 1387,1024.9 1384.4,1019 1381,1013 1376.9,1007 1371.9,1001.1 1365.9,995.1 1358.6,989.1 1349.4,983.2 1344.2,980.3 1337.6,977.2 1329,973.9 1321.5,971.6 1313.9,969.8 1306.3,968.5 1298.7,967.7 1291.2,967.3 1283.6,967.4 1276,967.9 1268.4,969 1260.9,970.5 1253.3,972.6 1245.7,975.2 1241.1,977.2 1238.2,978.6 1230.6,982.6 1223,987.7 1215.4,994 1208.6,1001.1 1204.1,1007 1200.4,1013 1197.5,1019 1195.2,1024.9 1193.6,1030.9 1192.6,1036.8 1192.2,1042.8 1192.4,1048.8 1193.1,1054.7 1194.5,1060.7 1196.4,1066.7 1198.9,1072.6 1202.2,1078.6 1207.9,1086.7 1211.1,1090.5 1215.4,1095.1 1223,1101.6 1230.6,1106.9 1238.2,1111.3 1245.7,1114.9 1253.3,1117.9 1261.3,1120.3ZM292.7,881.8 298.9,883.5 306.5,885.2 314.1,886.4 321.6,887.1 329.2,887.4 336.8,887.2 344.4,886.6 351.9,885.5 359.5,883.9 367.1,881.9 374.7,879.3 382.2,876.1 389.8,872.2 397.4,867.5 402.2,863.9 409.1,857.9 412.5,854.4 414.7,852 420.1,844.9 423.1,840 426.2,834.1 427.7,830.3 430.2,822.2 431.2,816.2 431.7,810.2 431.6,804.3 430.9,798.3 429.6,792.3 427.8,786.4 425.2,780.4 421.9,774.4 417.8,768.5 412.9,762.5 406.7,756.6 397.4,749.3 389.8,744.6 382.2,740.8 374.7,737.7 367.1,735.2 359.5,733.3 351.9,731.8 344.4,730.9 336.8,730.4 329.2,730.3 321.6,730.6 314.1,731.5 306.5,732.7 298.9,734.5 291.3,736.8 283.8,739.6 273.2,744.6 263.6,750.6 255.9,756.6 249.6,762.5 244.5,768.5 240.3,774.4 236.9,780.4 234.2,786.4 232.2,792.3 230.8,798.3 230,804.3 229.8,810.2 230.1,816.2 231.1,822.2 232.7,828.1 234.9,834.1 237.8,840 241.4,846 246,852 253.5,859.8 261,866 268.6,871.1 277.4,875.8 283.8,878.6 292.7,881.8ZM893.8,804.3 897.3,805.5 904.9,807.3 912.4,808.3 920,808.4 927.6,807.9 935.2,806.5 942.7,804.3 950.3,801.1 957.9,796.7 963.6,792.3 965.5,790.6 969.4,786.4 973.7,780.4 976.7,774.4 978.6,768.5 979.6,762.5 979.5,756.6 978.6,750.6 976.5,744.6 973.4,738.7 968.8,732.7 962.2,726.7 957.9,723.8 950.3,719.8 942.7,717.1 935.2,715.4 927.6,714.6 920,714.6 912.4,715.4 904.9,717.1 897.3,719.6 889.7,723.1 883.8,726.7 876.3,732.7 870.9,738.7 867,744.2 863.9,750.6 862.1,756.6 861.3,762.5 861.5,768.5 862.7,774.4 865,780.4 867,783.9 868.6,786.4 873.8,792.3 882.1,798.8 889.7,802.7 893.8,804.3ZM1424.6,780.4 1435.1,782.5 1442.7,783.4 1450.2,783.8 1457.8,783.8 1465.4,783.3 1473,782.3 1480.5,780.8 1488.1,778.8 1495.7,776.3 1500.1,774.4 1503.3,773 1511.7,768.5 1520.5,762.5 1527.3,756.6 1532.9,750.6 1537.3,744.6 1540.8,738.7 1543.5,732.7 1545.4,726.7 1546.7,720.8 1547.3,714.8 1547.2,708.9 1546.5,702.9 1545.2,696.9 1543.1,691 1540.3,685 1536.6,679 1533.6,675 1532,673.1 1526,666.8 1519.2,661.1 1510.8,655.6 1503.3,651.6 1495.7,648.4 1488.1,645.8 1480.5,643.8 1473,642.3 1465.4,641.3 1457.8,640.8 1450.2,640.7 1442.7,641.1 1435.1,642 1427.5,643.3 1419.9,645.2 1412.4,647.6 1404.8,650.7 1396,655.2 1386.9,661.1 1379.7,667.1 1374.5,672.5 1369.4,679 1365.7,685 1362.9,691 1360.9,696.9 1359.5,702.9 1358.8,708.9 1358.8,714.8 1359.4,720.8 1360.8,726.7 1362.8,732.7 1365.5,738.7 1369.1,744.6 1374.5,751.7 1379.1,756.6 1382.1,759.2 1389.6,765.1 1397.2,769.8 1404.8,773.7 1412.4,776.8 1419.9,779.2 1424.6,780.4ZM747.2,702.9 753.4,704.9 761,706.6 768.5,707.4 776.1,707.3 783.7,706.4 791.3,704.7 798.8,702.2 806.4,698.5 809,696.9 814,693.6 817.2,691 823.2,685 827.6,679 830.8,673.1 832.9,667.1 833.9,661.1 834,655.2 833.1,649.2 831,643.3 827.7,637.3 822.9,631.3 821.6,630 814,624.1 806.4,620 798.8,617.2 791.3,615.3 783.7,614.3 776.1,614.1 768.5,614.6 761,616 753.4,618.1 745.8,621.3 738.6,625.4 731,631.3 725.5,637.3 723.1,640.8 721.5,643.3 718.7,649.2 717,655.2 716.3,661.1 716.6,667.1 717.8,673.1 720.1,679 723.1,684.2 728.6,691 735.9,696.9 738.2,698.4 747.2,702.9ZM418.4,470.3 427.7,471.2 435.3,471.3 442.8,471 449.6,470.3 458,469 465.6,467.2 473.1,464.9 480.7,461.9 488.1,458.4 495.9,453.8 503.4,448.2 511.7,440.5 516.7,434.5 520.8,428.6 524,422.6 526.5,416.6 528.2,410.7 529.4,404.7 529.9,398.7 529.8,392.8 529.2,386.8 527.9,380.9 526,374.9 523.4,368.9 520.2,363 516.1,357 511.2,351 503.4,343.5 495.9,337.7 488.3,332.9 480.7,328.9 473.1,325.7 465.6,323.1 458,321 450.4,319.5 442.8,318.5 435.3,317.9 427.7,317.8 420.1,318.1 412.5,319 405,320.3 397.4,322.1 389.8,324.6 382.2,327.6 374.7,331.4 367.1,336 359.5,341.7 355.8,345.1 351.9,349 350.1,351 345.5,357 341.8,363 338.9,368.9 336.7,374.9 335.1,380.9 334.2,386.8 333.9,392.8 334.2,398.7 335,404.7 336.5,410.7 338.6,416.6 341.4,422.6 344.9,428.6 349.3,434.5 354.6,440.5 361.1,446.5 369.1,452.4 379.2,458.4 389.8,463.1 397.4,465.8 405,467.9 412.5,469.5 418.4,470.3ZM1281.2,464.3 1291.2,466.3 1298.7,467.2 1306.3,467.6 1313.9,467.5 1321.5,467 1329,466 1336.6,464.5 1344.2,462.4 1351.8,459.8 1359.3,456.6 1367.4,452.4 1374.5,447.9 1383.8,440.5 1389.8,434.5 1394.7,428.6 1398.7,422.6 1401.9,416.6 1404.3,410.7 1406.1,404.7 1407.3,398.7 1407.8,392.8 1407.8,386.8 1407.1,380.9 1405.8,374.9 1403.8,368.9 1401.1,363 1397.6,357 1393.2,351 1389.6,347 1382.1,340 1374.5,334.5 1366.9,330.1 1359.3,326.5 1351.8,323.6 1344.2,321.4 1336.6,319.8 1329,318.6 1321.5,318 1313.9,317.9 1306.3,318.2 1298.7,319 1291.2,320.3 1283.6,322.1 1276,324.5 1268.4,327.5 1260.9,331.2 1253.3,335.7 1245.7,341.2 1238.2,348 1235.3,351 1230.6,356.8 1226.5,363 1223,369.6 1220.8,374.9 1219,380.9 1217.9,386.8 1217.3,392.8 1217.3,398.7 1217.9,404.7 1219.2,410.7 1221.1,416.6 1223.8,422.6 1227.2,428.6 1231.5,434.5 1238.2,441.7 1245.7,448.1 1253.3,453.1 1260.9,457.2 1268.4,460.4 1276,463 1281.2,464.3ZM829.7,327.2 836.7,329.1 844.3,330.6 851.9,331.6 859.4,332 867,332 874.6,331.5 882.1,330.5 889.7,328.9 897.3,326.8 904.9,324 912.4,320.6 920,316.3 929.7,309.3 936.1,303.3 941.3,297.4 945.6,291.4 949,285.4 951.7,279.5 953.7,273.5 955.1,267.6 955.9,261.6 956.1,255.6 955.7,249.7 954.7,243.7 953.2,237.7 951,231.8 948.1,225.8 944.4,219.8 939.9,213.9 934.3,207.9 927.6,202 920,196.7 912.4,192.4 904.9,188.9 897.3,186.2 889.7,184 882.1,182.4 874.6,181.4 867,180.8 859.4,180.8 851.9,181.2 844.3,182.2 836.7,183.7 829.1,185.7 821.6,188.4 814,191.7 806.4,195.8 797.6,202 790.7,207.9 783.7,215.8 780.7,219.8 777.1,225.8 774.3,231.8 772.1,237.7 770.5,243.7 769.6,249.7 769.3,255.6 769.5,261.6 770.3,267.6 771.8,273.5 773.8,279.5 776.5,285.4 780,291.4 783.7,296.7 789.5,303.3 796,309.3 804.1,315.3 814,321 821.6,324.3 829.7,327.2Z"/>
<path stroke="#fec934" d="M736.2,1197.9 745.8,1198.1 753.4,1197.6 761,1196.5 768.5,1194.8 777.9,1191.9 783.7,1189.6 791.3,1185.8 800.3,1180 806.4,1174.9 813,1168 817.4,1162.1 820.9,1156.1 823.6,1150.1 825.4,1144.2 826.6,1138.2 827.1,1132.3 826.9,1126.3 826.1,1120.3 824.5,1114.4 822.2,1108.4 819.1,1102.4 815,1096.5 809.9,1090.5 806.4,1087.2 803.3,1084.6 798.8,1081.2 794.9,1078.6 791.3,1076.5 783.7,1072.7 776.1,1069.9 768.5,1067.6 761,1066.1 753.4,1065.1 745.8,1064.7 738.2,1064.8 730.7,1065.4 723.1,1066.6 715.5,1068.4 707.9,1070.9 700.4,1074.1 691.9,1078.6 683.5,1084.6 676.8,1090.5 671.6,1096.5 667.5,1102.4 664.3,1108.4 661.9,1114.4 660.2,1120.3 659.3,1126.3 659,1132.3 659.4,1138.2 660.5,1144.2 662.2,1150.1 664.8,1156.1 668.2,1162.1 672.6,1168 677.6,1173.6 685.2,1180.1 692.8,1185.1 700.4,1189 707.3,1191.9 715.5,1194.5 723.1,1196.3 730.7,1197.4 736.2,1197.9ZM1257.8,1102.4 1260.9,1103.5 1268.4,1105.5 1276,1106.9 1283.6,1107.7 1291.2,1108 1298.7,1107.7 1306.3,1106.8 1313.9,1105.3 1321.5,1103.3 1329,1100.5 1337.3,1096.5 1344.2,1092.2 1351.8,1086.2 1359,1078.6 1363.3,1072.6 1366.6,1066.7 1369,1060.7 1370.6,1054.7 1371.5,1048.8 1371.6,1042.8 1371.1,1036.8 1369.9,1030.9 1367.9,1024.9 1365.1,1019 1361.5,1013 1359.3,1010.2 1356.8,1007 1350.9,1001.1 1343.3,995.1 1336.6,990.9 1329,987.1 1321.5,984.1 1313.9,981.8 1306.3,980.1 1298.7,979 1291.2,978.5 1283.6,978.6 1276,979.2 1268.4,980.4 1260.9,982.2 1253.3,984.7 1245.7,987.9 1238.2,992.2 1233.8,995.1 1226.6,1001.1 1223,1004.7 1220.9,1007 1216.5,1013 1213.1,1019 1210.6,1024.9 1208.9,1030.9 1207.9,1036.8 1207.6,1042.8 1208.1,1048.8 1209.2,1054.7 1211.1,1060.7 1213.7,1066.7 1217.2,1072.6 1221.7,1078.6 1227.4,1084.6 1230.6,1087.4 1234.7,1090.5 1238.2,1093 1244.1,1096.5 1253.3,1100.8 1257.8,1102.4ZM311.6,869.9 321.6,871.6 329.2,872.3 336.8,872.4 344.4,871.9 351.9,870.9 359.5,869.3 367.1,867.1 374.7,864.3 382.2,860.5 389.8,855.8 397.4,849.8 401.3,846 406.3,840 410.3,834.1 412.5,829.7 415.4,822.2 416.9,816.2 417.6,810.2 417.6,804.3 416.8,798.3 415.4,792.3 413.2,786.4 410.1,780.4 406.2,774.4 401,768.5 397.4,765 389.8,759 382.2,754.4 374.7,750.7 367.1,747.9 359.5,745.7 351.9,744.2 344.4,743.3 336.8,742.9 329.2,743.1 321.6,743.8 314.1,745 306.5,746.9 298.9,749.4 291.3,752.7 283.8,756.8 275.6,762.5 269,768.5 263.8,774.4 259.7,780.4 256.6,786.4 254.3,792.3 252.8,798.3 252,804.3 251.9,810.2 252.5,816.2 253.8,822.2 256,828.1 258.9,834.1 262.8,840 267.7,846 274,852 282.2,857.9 291.3,863 298.9,866.2 306.5,868.6 311.6,869.9ZM911,798.3 920,798.6 927.6,797.7 935.2,795.9 942.7,793 950.3,788.5 953.1,786.4 959.1,780.4 963.1,774.4 965.7,768.5 967,762.5 967.1,756.6 966,750.6 963.6,744.6 959.8,738.7 953.8,732.7 950.3,730.2 942.7,726 935.2,723.5 927.6,722 920,721.5 912.4,722.1 904.9,723.6 897.3,726.1 889.7,730.1 885.9,732.7 882.1,735.9 879.3,738.7 874.7,744.6 871.9,750.6 870.2,756.6 869.8,762.5 870.6,768.5 872.6,774.4 874.6,778.1 876.2,780.4 882.1,786.8 889.7,792 897.3,795.4 904.9,797.5 911,798.3ZM1425.9,768.5 1435.1,770.3 1442.7,771.2 1450.2,771.5 1457.8,771.2 1465.4,770.3 1474.3,768.5 1480.5,766.7 1488.1,763.8 1495.7,760 1501.3,756.6 1508.9,750.6 1514.7,744.6 1519.2,738.7 1522.5,732.7 1525,726.7 1526.5,720.8 1527.3,714.8 1527.2,708.9 1526.4,702.9 1524.8,696.9 1522.3,691 1518.8,685 1514.3,679 1508.3,673.1 1500.5,667.1 1495.7,664.2 1488.1,660.4 1480.5,657.5 1473,655.3 1465.4,653.8 1457.8,653 1450.2,652.6 1442.7,652.9 1435.1,653.7 1427.5,655.1 1419.9,657.3 1412.4,660.1 1404.8,663.8 1397.2,668.5 1391.5,673.1 1385.6,679 1381,685 1377.6,691 1375,696.9 1373.4,702.9 1372.7,708.9 1372.6,714.8 1373.4,720.8 1375,726.7 1377.4,732.7 1380.8,738.7 1385.3,744.6 1391.1,750.6 1397.2,755.5 1404.8,760.2 1412.4,763.9 1419.9,766.8 1425.9,768.5ZM755.5,696.9 761,698.6 768.5,700 776.1,700.4 783.7,699.8 791.3,698.2 798.8,695.5 806.4,691.5 814.6,685 819.5,679 822.9,673.1 824.8,667.1 825.6,661.1 825.1,655.2 823.4,649.2 820.3,643.3 815.3,637.3 814,636.1 806.4,630.7 798.8,627.2 791.3,625 783.7,623.9 776.1,623.8 768.5,624.6 765,625.4 761,626.3 753.4,629.2 749.5,631.3 745.8,633.6 741.1,637.3 738.2,640.2 735.6,643.3 732,649.2 729.7,655.2 728.7,661.1 728.9,667.1 730.3,673.1 733,679 737.4,685 738.2,685.9 744.1,691 745.8,692.1 753.4,696.1 755.5,696.9ZM420.9,458.4 427.7,459.2 435.3,459.6 442.8,459.4 450.4,458.6 458,457.2 465.6,455.2 473.5,452.4 480.7,449 485.2,446.5 488.3,444.5 495.9,438.7 500.2,434.5 505.2,428.6 509.1,422.6 512,416.6 514,410.7 515.3,404.7 515.8,398.7 515.6,392.8 514.7,386.8 513,380.9 510.6,374.9 507.2,368.9 503.4,363.5 495.9,355.5 488.3,349.4 480.7,344.7 473.1,341 465.6,338.1 458,336 450.4,334.4 442.8,333.5 435.3,333.1 427.7,333.3 420.1,334.1 412.5,335.4 405,337.4 397.4,340.1 389.8,343.6 382.2,348.2 378.3,351 371.5,357 366.2,363 362.1,368.9 359,374.9 356.8,380.9 355.4,386.8 354.7,392.8 354.7,398.7 355.5,404.7 357,410.7 359.3,416.6 362.4,422.6 366.5,428.6 371.7,434.5 378.4,440.5 382.2,443.3 389.8,448 397.4,451.7 405,454.6 412.5,456.7 420.9,458.4ZM1280,452.4 1283.6,453.5 1291.2,455.1 1298.7,456.2 1306.3,456.6 1313.9,456.5 1321.5,455.8 1329,454.5 1337.1,452.4 1344.2,449.9 1351.9,446.5 1361.8,440.5 1369.3,434.5 1374.5,429.3 1379.7,422.6 1383.2,416.6 1385.8,410.7 1387.6,404.7 1388.6,398.7 1388.9,392.8 1388.4,386.8 1387.2,380.9 1385.2,374.9 1382.3,368.9 1378.4,363 1373.3,357 1366.8,351 1359.3,345.9 1351.8,341.8 1345.5,339.1 1336.6,336.3 1329,334.6 1321.5,333.6 1313.9,333.1 1306.3,333.3 1298.7,334 1291.2,335.3 1283.6,337.3 1276,339.9 1268.4,343.4 1260.9,347.8 1253.3,353.5 1249.5,357 1244.1,363 1239.9,368.9 1236.6,374.9 1234.3,380.9 1232.7,386.8 1231.9,392.8 1231.8,398.7 1232.5,404.7 1233.9,410.7 1236.1,416.6 1239.3,422.6 1243.4,428.6 1248.9,434.5 1253.3,438.4 1260.9,443.8 1268.4,448 1276,451.1 1280,452.4ZM829.6,315.3 836.7,317.6 844.3,319.4 851.9,320.6 859.4,321.2 867,321.1 874.6,320.5 882.1,319.2 889.7,317.3 895.6,315.3 904.9,311.1 912.4,306.6 916.9,303.3 923.5,297.4 928.7,291.4 932.6,285.4 935.7,279.5 937.8,273.5 939.2,267.6 939.8,261.6 939.8,255.6 939,249.7 937.5,243.7 935.2,237.7 932,231.8 927.9,225.8 922.5,219.8 920,217.6 912.4,211.6 904.9,207.1 897.3,203.6 889.7,200.9 882.1,199 874.6,197.7 867,197.1 859.4,197 851.9,197.5 844.3,198.7 836.7,200.5 829.1,203 821.6,206.3 814,210.6 806.4,216.2 802.5,219.8 797.1,225.8 793,231.8 789.8,237.7 787.5,243.7 786,249.7 785.3,255.6 785.2,261.6 785.9,267.6 787.3,273.5 789.5,279.5 792.5,285.4 796.5,291.4 801.7,297.4 808.3,303.3 814,307.4 821.6,311.7 829.6,315.3Z"/>
<path stroke="#f5e327" d="M738.8,1180 745.8,1180.1 753.4,1179.6 761,1178.3 768.5,1176.3 774.6,1174 783.7,1169.4 791.3,1164 793.4,1162.1 799.1,1156.1 803.1,1150.1 806.1,1144.2 808,1138.2 809,1132.3 809.1,1126.3 808.4,1120.3 806.4,1113.5 804.1,1108.4 800.3,1102.4 795.1,1096.5 791.3,1093.1 788,1090.5 783.7,1087.7 776.1,1083.7 768.5,1080.9 761,1078.8 753.4,1077.6 745.8,1077.2 738.2,1077.4 730.7,1078.3 723.1,1080 715.5,1082.5 707.9,1086 700.4,1090.6 693.4,1096.5 688.2,1102.4 684.3,1108.4 681.7,1114.4 679.9,1120.3 679.1,1126.3 679.2,1132.3 680.1,1138.2 682,1144.2 685.2,1150.7 689,1156.1 692.8,1160.4 694.5,1162.1 702.1,1168 707.9,1171.5 715.5,1175 723.1,1177.4 730.7,1179.1 738.8,1180ZM1280.7,1090.5 1283.6,1090.8 1291.2,1090.9 1298.7,1090.3 1306.3,1088.9 1313.9,1086.7 1321.5,1083.6 1330.1,1078.6 1337.4,1072.6 1342.6,1066.7 1344.2,1064.4 1346.4,1060.7 1349,1054.7 1350.7,1048.8 1351.4,1042.8 1351.1,1036.8 1349.9,1030.9 1347.8,1024.9 1344.6,1019 1340.1,1013 1334.1,1007 1329,1003.2 1325.6,1001.1 1321.5,998.8 1313.9,995.5 1306.3,993.2 1298.7,991.7 1291.2,991 1283.6,991 1276,991.7 1268.4,993.1 1260.9,995.4 1253.3,998.7 1249.1,1001.1 1245.7,1003.2 1240.8,1007 1235,1013 1230.6,1019 1227.6,1024.9 1225.7,1030.9 1224.6,1036.8 1224.5,1042.8 1225.4,1048.8 1227.1,1054.7 1229.9,1060.7 1233.9,1066.7 1239.2,1072.6 1245.7,1078 1253.3,1082.6 1260.9,1086 1268.4,1088.4 1276,1090 1280.7,1090.5ZM310.7,852 314.1,853.2 321.6,855.1 329.2,856.3 336.8,856.8 344.4,856.5 351.9,855.6 359.5,853.8 367.1,851.3 374.7,847.7 377.5,846 382.2,842.8 385.6,840 391.5,834.1 395.8,828.1 397.4,825.3 398.9,822.2 400.8,816.2 401.9,810.2 402,804.3 401.2,798.3 399.5,792.3 396.7,786.4 392.7,780.4 389.8,777.1 387.2,774.4 382.2,770.3 379.6,768.5 374.7,765.5 367.1,761.9 359.5,759.4 351.9,757.7 344.4,756.7 336.8,756.5 329.2,757 321.6,758.3 314.1,760.3 308.1,762.5 298.9,767.2 296.9,768.5 289.3,774.4 283.7,780.4 279.7,786.4 276.9,792.3 275.1,798.3 274.2,804.3 274.3,810.2 275.3,816.2 277.2,822.2 280.2,828.1 284.4,834.1 290.3,840 298.9,846.4 306.5,850.3 310.7,852ZM902.2,786.4 904.9,787.3 912.4,788.4 920,788.4 927.6,787.1 935.2,784.4 942,780.4 948.2,774.4 952,768.5 953.8,762.5 954.2,756.6 953,750.6 950.3,745.1 944.8,738.7 942.7,737.1 935.4,732.7 927.6,730.3 920,729.2 912.4,729.4 904.9,730.9 897.3,733.7 889.7,738.5 884.1,744.6 880.8,750.6 879.3,756.6 879.2,762.5 880.8,768.5 882.1,771.2 884.3,774.4 889.7,780.1 897.3,784.6 902.2,786.4ZM1432.1,756.6 1435.1,757.2 1442.7,758 1450.2,758.1 1457.8,757.5 1462.7,756.6 1465.4,756 1473,753.7 1480.5,750.4 1489.5,744.6 1496.1,738.7 1500.6,732.7 1503.9,726.7 1505.9,720.8 1506.9,714.8 1506.9,708.9 1505.9,702.9 1503.8,696.9 1500.5,691 1495.9,685 1488.1,678.1 1479.9,673.1 1473,670.1 1465.4,667.8 1457.8,666.3 1450.2,665.7 1442.7,665.7 1435.1,666.6 1427.5,668.2 1419.9,670.8 1412.4,674.4 1404.8,679.4 1398.7,685 1394.1,691 1390.8,696.9 1389.6,700.2 1388.8,702.9 1387.8,708.9 1387.8,714.8 1388.8,720.8 1390.8,726.7 1394.1,732.7 1398.7,738.7 1404.8,744.3 1412.4,749.3 1419.9,752.9 1427.5,755.5 1432.1,756.6ZM765.2,691 768.5,691.9 776.1,692.8 783.7,692.5 791.3,691 798.8,687.8 803.4,685 806.4,682.7 810,679 814,673.1 815.9,667.1 816.3,661.1 815.2,655.2 814,652.3 812.3,649.2 806.4,642.6 798.8,637.9 791.3,635.2 783.7,633.9 776.1,633.9 768.5,635.1 761,637.6 753.4,642.1 751.9,643.3 746.3,649.2 743.1,655.2 741.7,661.1 741.7,667.1 743.4,673.1 746.8,679 752.9,685 761,689.5 765.2,691ZM432.4,446.5 435.3,446.7 442.8,446.7 450.4,445.9 458,444.3 465.6,441.9 473.1,438.5 480.7,433.8 486.8,428.6 488.3,427.1 492,422.6 495.8,416.6 498.3,410.7 499.8,404.7 500.3,398.7 499.9,392.8 498.6,386.8 496.3,380.9 492.7,374.9 488,368.9 480.7,362.5 471.8,357 465.6,354.2 458,351.6 450.4,350 442.8,349.1 435.3,348.9 427.7,349.5 419.3,351 412.5,353 405,356.2 397.4,360.5 394,363 387.5,368.9 382.2,375.8 379.5,380.9 377.3,386.8 376,392.8 375.8,398.7 376.5,404.7 378.1,410.7 380.8,416.6 382.2,419 384.6,422.6 389.8,428.5 397.4,434.6 405,439 408.1,440.5 412.5,442.3 420.1,444.5 427.7,446 432.4,446.5ZM1283.2,440.5 1291.2,442.7 1298.7,444 1306.3,444.5 1313.9,444.2 1321.5,443.2 1329,441.4 1336.6,438.7 1345,434.5 1353.2,428.6 1359.2,422.6 1363.4,416.6 1366.4,410.7 1366.9,409.2 1368.3,404.7 1369.2,398.7 1369.2,392.8 1368.2,386.8 1366.2,380.9 1363,374.9 1358.5,368.9 1351.8,362.6 1344.2,357.6 1336.6,354 1327.3,351 1321.5,349.8 1313.9,349 1306.3,348.9 1298.7,349.6 1291.2,351 1283.6,353.3 1276,356.6 1268.4,361.1 1266,363 1260.9,367.5 1259.5,368.9 1254.8,374.9 1253.3,377.4 1251.4,380.9 1249.2,386.8 1248,392.8 1247.7,398.7 1248.5,404.7 1250.1,410.7 1253.3,417.4 1257,422.6 1262.6,428.6 1268.4,433.1 1270.7,434.5 1276,437.5 1283.2,440.5ZM833.7,303.3 836.7,304.6 844.3,307 851.9,308.5 859.4,309.2 867,309.1 874.6,308.2 882.1,306.6 889.7,304 897.3,300.3 902,297.4 904.9,295.2 909.2,291.4 914.4,285.4 918.1,279.5 920,275 920.6,273.5 922,267.6 922.5,261.6 922.1,255.6 920.8,249.7 918.3,243.7 914.7,237.7 912.4,234.8 909.7,231.8 904.9,227.4 897.3,222.3 892.4,219.8 889.7,218.6 882.1,216.1 874.6,214.4 867,213.5 859.4,213.4 851.9,214.1 844.3,215.6 836.7,218 832.3,219.8 829.1,221.4 821.6,226.1 814,232.9 810.1,237.7 806.4,243.7 804.1,249.7 802.7,255.6 802.3,261.6 802.8,267.6 804.3,273.5 806.7,279.5 810.5,285.4 814,289.6 815.6,291.4 822.8,297.4 829.1,301.2 833.7,303.3Z"/>
<path stroke="#f9fb15" d="M724.2,1156.1 730.7,1158.4 738.2,1159.9 745.8,1160.3 753.4,1159.7 761,1157.9 765.6,1156.1 768.5,1154.8 776.1,1149.9 781.6,1144.2 783.7,1141.1 785.3,1138.2 787.4,1132.3 788,1126.3 787.4,1120.3 785.3,1114.4 781.6,1108.4 775.7,1102.4 768.5,1097.9 761,1094.8 753.4,1093.1 745.8,1092.4 738.2,1092.9 730.7,1094.4 723.1,1097.1 714.5,1102.4 708.4,1108.4 704.8,1114.4 702.7,1120.3 702,1126.3 702.6,1132.3 704.7,1138.2 708.3,1144.2 714.2,1150.1 715.5,1151.2 723.1,1155.7 724.2,1156.1ZM1263.8,1066.7 1268.4,1068.8 1276,1071 1283.6,1072 1291.2,1071.9 1298.7,1070.6 1306.3,1068.2 1309.5,1066.7 1313.9,1064.1 1318.2,1060.7 1321.5,1057.3 1323.5,1054.7 1326.6,1048.8 1328.2,1042.8 1328.4,1036.8 1327.1,1030.9 1324.3,1024.9 1321.5,1021 1319.7,1019 1313.9,1014.1 1312.2,1013 1306.3,1010 1298.7,1007.4 1291.2,1006.2 1283.6,1006 1276,1006.9 1268.4,1009.1 1260.4,1013 1252.9,1019 1248.5,1024.9 1245.7,1030.9 1244.6,1036.8 1244.8,1042.8 1246.4,1048.8 1249.8,1054.7 1253.3,1059.1 1255,1060.7 1260.9,1065.1 1263.8,1066.7ZM318.9,834.1 321.6,835.3 329.2,837.7 336.8,838.8 344.4,838.9 351.9,837.8 359.5,835.6 367.1,831.8 372,828.1 374.7,825.6 377.6,822.2 381,816.2 382.8,810.2 383.1,804.3 382.1,798.3 379.4,792.3 375.2,786.4 367.1,779.8 359.5,776.1 351.9,773.8 344.4,772.8 336.8,772.9 329.2,774 321.6,776.4 313.8,780.4 306.7,786.4 302.4,792.3 299.8,798.3 298.7,804.3 299,810.2 300.8,816.2 304.2,822.2 306.5,824.9 309.7,828.1 314.1,831.4 318.9,834.1ZM902.3,774.4 904.9,775.6 912.4,777.1 920,776.7 927.6,774.5 935.2,768.9 938.9,762.5 939.7,756.6 938.1,750.6 935.2,746.3 933.6,744.6 927.6,740.8 920,738.4 912.4,738.2 904.9,739.9 897.3,744.1 896.6,744.6 892,750.6 890.1,756.6 890.9,762.5 894.3,768.5 897.3,771.4 902.3,774.4ZM1426.2,738.7 1427.5,739.2 1435.1,741.4 1442.7,742.4 1450.2,742.2 1457.8,740.8 1464.2,738.7 1465.4,738.2 1473,733.5 1474,732.7 1479.5,726.7 1482.8,720.8 1484.3,714.8 1484.3,708.9 1482.9,702.9 1479.7,696.9 1474.2,691 1473,690 1465.4,685.3 1457.8,682.6 1450.2,681.2 1442.7,681 1435.1,682 1427.5,684.2 1425.7,685 1419.9,688.2 1416.2,691 1412.4,694.8 1410.7,696.9 1407.5,702.9 1406,708.9 1406,714.8 1407.6,720.8 1410.9,726.7 1412.4,728.6 1416.5,732.7 1419.9,735.3 1426.2,738.7ZM764.2,679 768.5,681.4 776.1,683.5 783.7,683.6 791.3,681.7 796.4,679 798.8,677.2 802.4,673.1 804.9,667.1 804.9,661.1 802.3,655.2 798.8,651.2 796,649.2 791.3,646.8 783.7,645.1 776.1,645.3 768.5,647.5 765.4,649.2 761,652.8 758.9,655.2 756.3,661.1 756.1,667.1 758.4,673.1 761,676.2 764.2,679ZM423.9,428.6 427.7,429.8 435.3,431.1 442.8,431.3 450.4,430.4 458,428.4 465.6,424.7 468.6,422.6 473.1,418.7 475,416.6 478.8,410.7 481,404.7 481.5,398.7 480.8,392.8 478.3,386.8 474.3,380.9 473.1,379.6 467.5,374.9 465.6,373.6 458,369.9 450.4,367.7 442.8,366.8 435.3,366.9 427.7,368.2 420.1,370.9 412.5,375.1 406.3,380.9 402.3,386.8 400,392.8 399.2,398.7 399.9,404.7 402.1,410.7 405.9,416.6 412.2,422.6 420.1,427.1 423.9,428.6ZM1295.9,428.6 1298.7,429.2 1306.3,429.8 1313.9,429.3 1321.5,427.6 1329,424.5 1332.3,422.6 1336.6,419.3 1339.5,416.6 1343.9,410.7 1346.3,404.7 1347.2,398.7 1346.7,392.8 1344.7,386.8 1340.8,380.9 1336.6,376.6 1334.4,374.9 1329,371.6 1321.5,368.5 1313.9,366.9 1306.3,366.5 1298.7,367.2 1291.2,369.1 1283.6,372.6 1280.1,374.9 1276,378.2 1273.5,380.9 1269.6,386.8 1267.4,392.8 1266.8,398.7 1267.6,404.7 1270,410.7 1274.2,416.6 1276,418.4 1281.4,422.6 1283.6,424 1291.2,427.3 1295.9,428.6ZM844.2,291.4 851.9,293.6 859.4,294.6 867,294.5 874.6,293.2 880.1,291.4 882.1,290.6 890.7,285.4 896.5,279.5 897.3,278.3 900,273.5 901.8,267.6 902.1,261.6 901,255.6 898.4,249.7 893.7,243.7 889.7,240.3 885.9,237.7 882.1,235.8 874.6,233.1 867,231.7 859.4,231.6 851.9,232.6 844.3,235 836.7,238.9 830.9,243.7 829.1,245.6 826.2,249.7 823.5,255.6 822.4,261.6 822.7,267.6 824.6,273.5 828.1,279.5 829.1,280.7 834.1,285.4 836.7,287.4 844.2,291.4Z"/>
</g>
<g class="tk">
<text x="124.7" y="1376.8" text-anchor="middle">0</text>
<text x="427.7" y="1376.8" text-anchor="middle">0.2</text>
<text x="730.7" y="1376.8" text-anchor="middle">0.4</text>
<text x="1033.6" y="1376.8" text-anchor="middle">0.6</text>
<text x="1336.6" y="1376.8" text-anchor="middle">0.8</text>
<text x="1639.6" y="1376.8" text-anchor="middle">1</text>
<text x="104" y="1324.4" text-anchor="end">0</text>
<text x="104" y="1205.1" text-anchor="end">0.1</text>
<text x="104" y="1085.9" text-anchor="end">0.2</text>
<text x="104" y="966.6" text-anchor="end">0.3</text>
<text x="104" y="847.3" text-anchor="end">0.4</text>
<text x="104" y="728.1" text-anchor="end">0.5</text>
<text x="104" y="608.8" text-anchor="end">0.6</text>
<text x="104" y="489.5" text-anchor="end">0.7</text>
<text x="104" y="370.2" text-anchor="end">0.8</text>
<text x="104" y="251" text-anchor="end">0.9</text>
<text x="104" y="131.7" text-anchor="end">1</text>
</g>
<rect x="1246.8" y="34.6" width="392.5" height="69.3" fill="#fff" stroke="#262626" stroke-width="2.4"/>
<path d="M1304,69.3H1357M1330.5,42.8V95.8" stroke="#000" stroke-width="2.2" fill="none"/>
<text class="lg" x="1411" y="85.7">Prototypes</text>
</svg>
</body>
</html>
